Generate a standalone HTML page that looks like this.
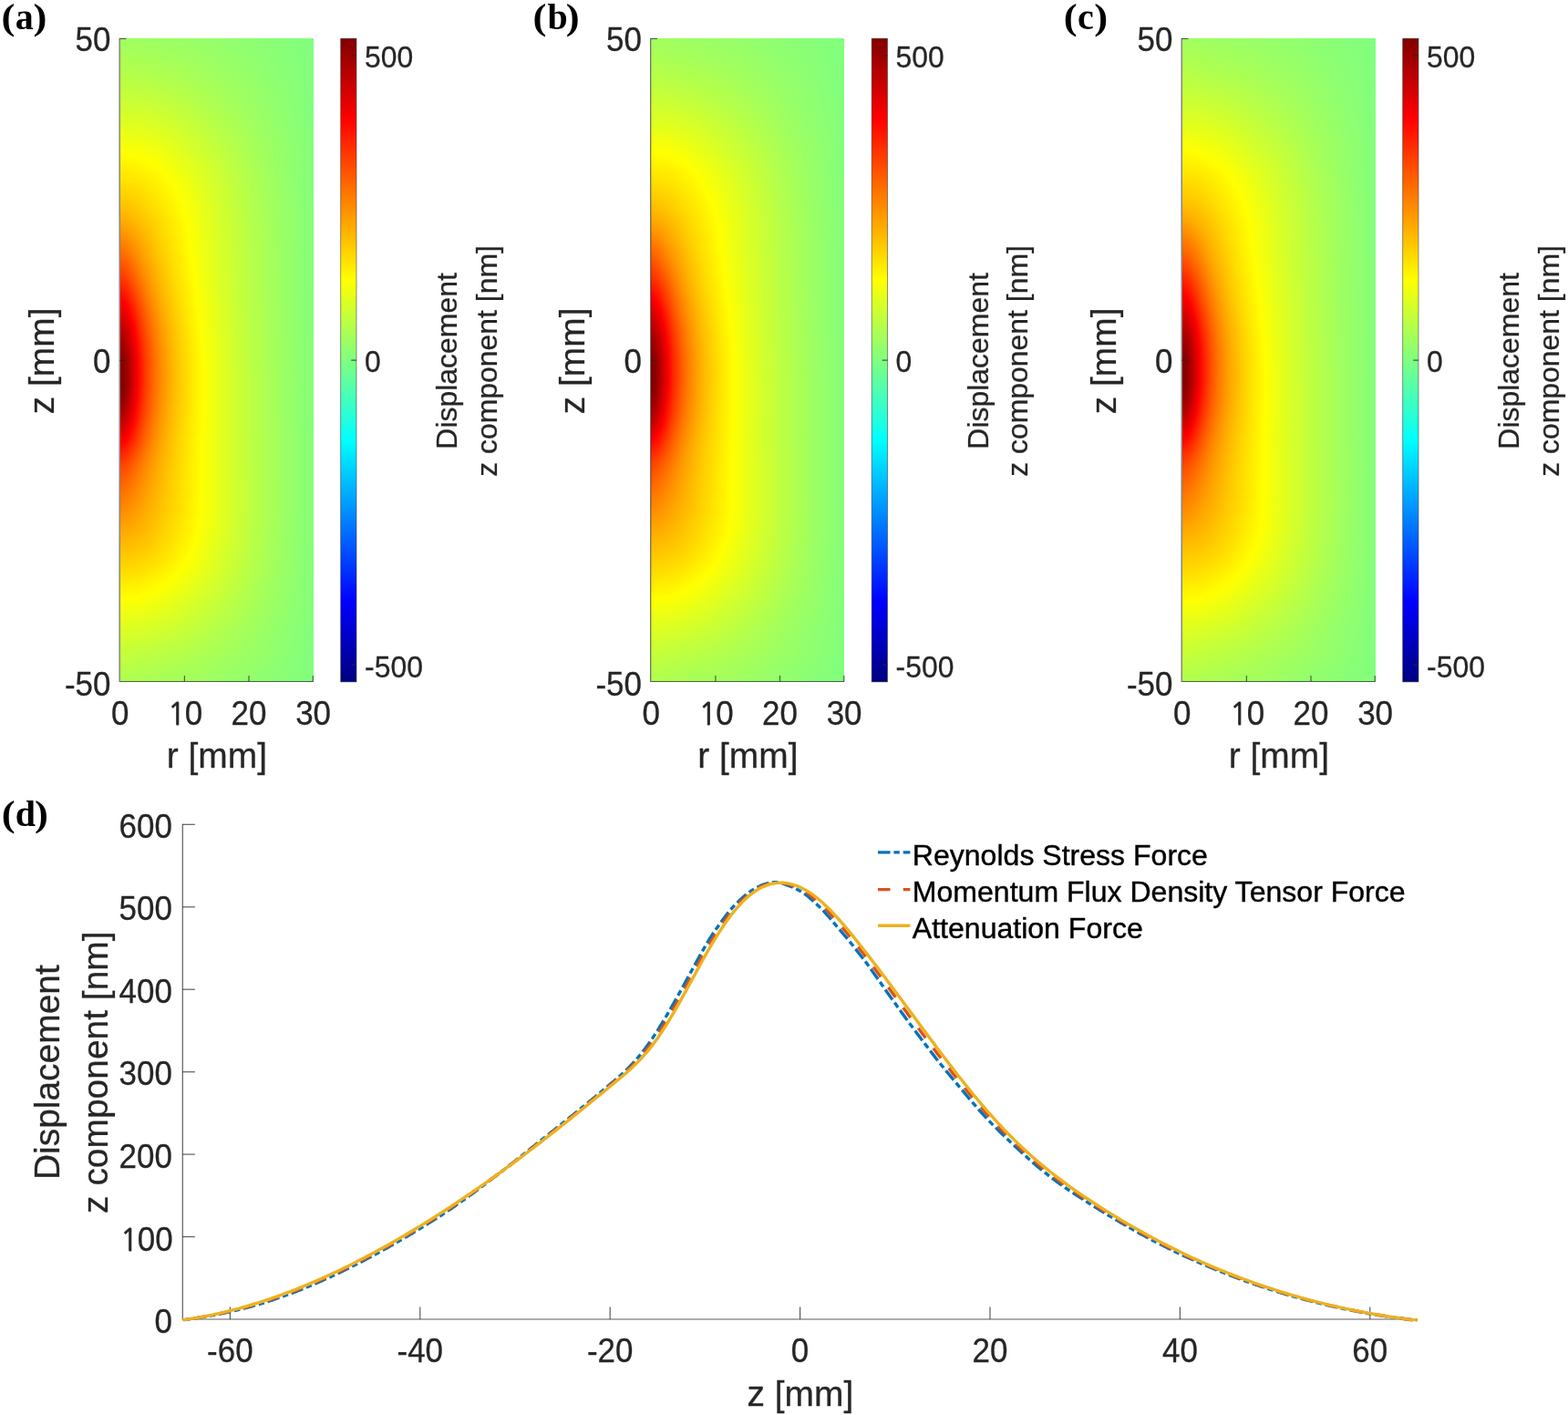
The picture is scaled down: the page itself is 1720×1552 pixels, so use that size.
<!DOCTYPE html>
<html lang="en"><head><meta charset="utf-8"><title>Displacement z component</title>
<style>
html,body{margin:0;padding:0;background:#fff}
#fig{position:relative;width:1720px;height:1552px;background:#fff;overflow:hidden}
.hm{position:absolute;overflow:hidden}
.hm div{height:2px}
#ov{position:absolute;left:0;top:0}
text{font-family:"Liberation Sans",Arial,Helvetica,sans-serif;fill:#262626;stroke:#262626;stroke-width:.28}
.pl{font-family:"Liberation Serif","Times New Roman",Times,serif;font-weight:bold;fill:#000;stroke:none}
.lg{fill:#000;stroke:#000;stroke-width:.4}
</style></head>
<body><div id="fig">
<div class="hm" style="left:131.8px;top:41.8px;width:211.8px;height:705.8px"><div style="background:linear-gradient(90deg,#a1ff5e 0%,#9f6 35.4%,#81ff7e 100%)"></div><div style="background:linear-gradient(90deg,#a2ff5d 0%,#9f6 35.4%,#81ff7e 100%)"></div><div style="background:linear-gradient(90deg,#a3ff5c 0%,#9aff65 35.4%,#81ff7e 100%)"></div><div style="background:linear-gradient(90deg,#a4ff5b 0%,#9bff64 35.4%,#81ff7e 100%)"></div><div style="background:linear-gradient(90deg,#a5ff5a 0%,#9cff63 35.4%,#81ff7e 100%)"></div><div style="background:linear-gradient(90deg,#a6ff59 0%,#9cff63 35.4%,#81ff7e 100%)"></div><div style="background:linear-gradient(90deg,#a7ff58 0%,#9dff62 35.4%,#81ff7e 100%)"></div><div style="background:linear-gradient(90deg,#a9ff56 0%,#9eff61 35.4%,#81ff7e 100%)"></div><div style="background:linear-gradient(90deg,#af5 0%,#9fff60 34.9%,#81ff7e 100%)"></div><div style="background:linear-gradient(90deg,#abff54 0%,#a0ff5f 34.9%,#81ff7e 100%)"></div><div style="background:linear-gradient(90deg,#acff53 0%,#a1ff5e 34.4%,#81ff7e 100%)"></div><div style="background:linear-gradient(90deg,#adff52 0%,#a2ff5d 34.4%,#81ff7e 100%)"></div><div style="background:linear-gradient(90deg,#aeff51 0%,#a3ff5c 34%,#81ff7e 100%)"></div><div style="background:linear-gradient(90deg,#afff50 0%,#a4ff5b 34%,#81ff7e 100%)"></div><div style="background:linear-gradient(90deg,#b0ff4f 0%,#a5ff5a 33.5%,#81ff7e 100%)"></div><div style="background:linear-gradient(90deg,#b2ff4d 0%,#a6ff59 33%,#81ff7e 100%)"></div><div style="background:linear-gradient(90deg,#b3ff4c 0%,#a7ff58 33%,#81ff7e 100%)"></div><div style="background:linear-gradient(90deg,#b4ff4b 0%,#a8ff57 32.5%,#81ff7e 100%)"></div><div style="background:linear-gradient(90deg,#b5ff4a 0%,#a9ff56 32.1%,#81ff7e 100%)"></div><div style="background:linear-gradient(90deg,#b7ff48 0%,#af5 32.1%,#81ff7e 100%)"></div><div style="background:linear-gradient(90deg,#b8ff47 0%,#abff54 31.6%,#81ff7e 100%)"></div><div style="background:linear-gradient(90deg,#b9ff46 0%,#adff52 31.1%,#81ff7e 100%)"></div><div style="background:linear-gradient(90deg,#baff45 0%,#aeff51 31.1%,#81ff7e 100%)"></div><div style="background:linear-gradient(90deg,#bf4 0%,#afff50 30.7%,#81ff7e 100%)"></div><div style="background:linear-gradient(90deg,#bdff42 0%,#b1ff4e 30.2%,#81ff7e 100%)"></div><div style="background:linear-gradient(90deg,#beff41 0%,#b2ff4d 29.7%,#81ff7e 100%)"></div><div style="background:linear-gradient(90deg,#bfff40 0%,#b3ff4c 29.2%,#81ff7e 100%)"></div><div style="background:linear-gradient(90deg,#c1ff3e 0%,#bcff43 14.6%,#b5ff4a 29.2%,#81ff7e 100%)"></div><div style="background:linear-gradient(90deg,#c2ff3d 0%,#beff41 14.6%,#b6ff49 28.8%,#82ff7d 100%)"></div><div style="background:linear-gradient(90deg,#c3ff3c 0%,#bfff40 14.2%,#b8ff47 28.3%,#82ff7d 100%)"></div><div style="background:linear-gradient(90deg,#c5ff3a 0%,#c1ff3e 13.7%,#b9ff46 28.3%,#82ff7d 100%)"></div><div style="background:linear-gradient(90deg,#c6ff39 0%,#c2ff3d 13.7%,#bf4 27.8%,#93ff6c 76.4%,#82ff7d 100%)"></div><div style="background:linear-gradient(90deg,#c7ff38 0%,#c4ff3b 13.2%,#bcff43 27.4%,#93ff6c 76.4%,#82ff7d 100%)"></div><div style="background:linear-gradient(90deg,#c9ff36 0%,#c6ff39 13.2%,#bdff42 27.4%,#94ff6b 75.9%,#82ff7d 100%)"></div><div style="background:linear-gradient(90deg,#caff35 0%,#c7ff38 12.7%,#bfff40 26.9%,#94ff6b 75.9%,#82ff7d 100%)"></div><div style="background:linear-gradient(90deg,#cf3 0%,#c9ff36 12.7%,#c1ff3e 26.9%,#95ff6a 75.5%,#82ff7d 100%)"></div><div style="background:linear-gradient(90deg,#cdff32 0%,#cbff34 12.3%,#c2ff3d 26.4%,#95ff6a 75.5%,#82ff7d 100%)"></div><div style="background:linear-gradient(90deg,#cfff30 0%,#cf3 12.3%,#c4ff3b 26.4%,#96ff69 75%,#82ff7d 100%)"></div><div style="background:linear-gradient(90deg,#d1ff2e 0%,#ceff31 12.3%,#c5ff3a 26.4%,#97ff68 74.5%,#82ff7d 100%)"></div><div style="background:linear-gradient(90deg,#d2ff2d 0%,#d0ff2f 12.3%,#c7ff38 25.9%,#97ff68 74.5%,#82ff7d 100%)"></div><div style="background:linear-gradient(90deg,#d4ff2b 0%,#d1ff2e 12.3%,#c8ff37 25.9%,#98ff67 74.1%,#82ff7d 100%)"></div><div style="background:linear-gradient(90deg,#d6ff29 0%,#d3ff2c 12.3%,#caff35 25.5%,#98ff67 74.1%,#82ff7d 100%)"></div><div style="background:linear-gradient(90deg,#d8ff27 0%,#d5ff2a 12.3%,#cf3 25.5%,#9f6 73.6%,#82ff7d 100%)"></div><div style="background:linear-gradient(90deg,#d9ff26 0%,#d6ff29 12.3%,#cdff32 25.5%,#9aff65 73.6%,#82ff7d 100%)"></div><div style="background:linear-gradient(90deg,#dbff24 0%,#d8ff27 11.8%,#cfff30 25%,#9bff64 73.1%,#82ff7d 100%)"></div><div style="background:linear-gradient(90deg,#df2 0%,#daff25 11.8%,#d1ff2e 25%,#9bff64 73.1%,#82ff7d 100%)"></div><div style="background:linear-gradient(90deg,#dfff20 0%,#dcff23 11.8%,#d3ff2c 24.5%,#9cff63 72.6%,#82ff7d 100%)"></div><div style="background:linear-gradient(90deg,#e1ff1e 0%,#deff21 11.8%,#d4ff2b 24.5%,#9cff63 72.6%,#82ff7d 100%)"></div><div style="background:linear-gradient(90deg,#e3ff1c 0%,#dfff20 11.8%,#d6ff29 24.5%,#9dff62 72.2%,#82ff7d 100%)"></div><div style="background:linear-gradient(90deg,#e5ff1a 0%,#e2ff1d 11.3%,#d8ff27 24.1%,#9eff61 72.2%,#82ff7d 100%)"></div><div style="background:linear-gradient(90deg,#e7ff18 0%,#e3ff1c 11.3%,#d9ff26 24.1%,#9fff60 71.7%,#82ff7d 100%)"></div><div style="background:linear-gradient(90deg,#e8ff17 0%,#e5ff1a 11.3%,#dbff24 23.6%,#9fff60 71.7%,#82ff7d 100%)"></div><div style="background:linear-gradient(90deg,#eaff15 0%,#e7ff18 11.3%,#df2 23.6%,#a0ff5f 71.2%,#82ff7d 100%)"></div><div style="background:linear-gradient(90deg,#ecff13 0%,#e9ff16 10.8%,#dfff20 23.1%,#a1ff5e 71.2%,#82ff7d 100%)"></div><div style="background:linear-gradient(90deg,#ef1 0%,#ebff14 10.8%,#e1ff1e 23.1%,#a2ff5d 70.8%,#83ff7c 100%)"></div><div style="background:linear-gradient(90deg,#f0ff0f 0%,#edff12 10.8%,#e2ff1d 23.1%,#a2ff5d 70.8%,#83ff7c 100%)"></div><div style="background:linear-gradient(90deg,#f2ff0d 0%,#efff10 10.8%,#e5ff1a 22.6%,#a3ff5c 70.8%,#83ff7c 100%)"></div><div style="background:linear-gradient(90deg,#f4ff0b 0%,#f1ff0e 10.8%,#e6ff19 22.6%,#a4ff5b 70.3%,#83ff7c 100%)"></div><div style="background:linear-gradient(90deg,#f6ff09 0%,#f3ff0c 10.4%,#e8ff17 22.2%,#a4ff5b 70.3%,#83ff7c 100%)"></div><div style="background:linear-gradient(90deg,#f8ff07 0%,#f5ff0a 10.4%,#eaff15 22.2%,#a5ff5a 69.8%,#83ff7c 100%)"></div><div style="background:linear-gradient(90deg,#faff05 0%,#f7ff08 10.4%,#ecff13 21.7%,#a6ff59 69.8%,#83ff7c 100%)"></div><div style="background:linear-gradient(90deg,#fcff03 0%,#f9ff06 10.4%,#ef1 21.7%,#a7ff58 69.3%,#83ff7c 100%)"></div><div style="background:linear-gradient(90deg,#feff01 0%,#fbff04 9.9%,#f0ff0f 21.2%,#a7ff58 69.3%,#83ff7c 100%)"></div><div style="background:linear-gradient(90deg,#fffe00 0%,#fdff02 9%,#f2ff0d 20.8%,#a8ff57 68.9%,#83ff7c 100%)"></div><div style="background:linear-gradient(90deg,#fffc00 0%,#ff0 9.4%,#f4ff0b 20.3%,#a9ff56 68.9%,#83ff7c 100%)"></div><div style="background:linear-gradient(90deg,#fffa00 0%,#ff0 11.8%,#f7ff08 19.8%,#a9ff56 68.9%,#83ff7c 100%)"></div><div style="background:linear-gradient(90deg,#fff800 0%,#fffa00 6.6%,#ff0 13.7%,#f9ff06 18.9%,#eaff15 29.7%,#af5 68.9%,#95ff6a 84%,#83ff7c 100%)"></div><div style="background:linear-gradient(90deg,#fff600 0%,#fff800 7.5%,#ff0 15.6%,#fcff03 18.4%,#ecff13 29.2%,#abff54 68.4%,#96ff69 83.5%,#83ff7c 100%)"></div><div style="background:linear-gradient(90deg,#fff400 0%,#fff600 7.5%,#feff01 17.9%,#ef1 28.8%,#abff54 68.4%,#96ff69 83.5%,#83ff7c 100%)"></div><div style="background:linear-gradient(90deg,#fff200 0%,#fff500 9%,#ff0 18.4%,#efff10 28.8%,#acff53 67.9%,#96ff69 83.5%,#83ff7c 100%)"></div><div style="background:linear-gradient(90deg,#fff000 0%,#fff400 9%,#ff0 19.8%,#adff52 67.5%,#97ff68 83%,#83ff7c 100%)"></div><div style="background:linear-gradient(90deg,#fe0 0%,#fff200 9.4%,#ff0 20.8%,#aeff51 67.5%,#97ff68 83%,#83ff7c 100%)"></div><div style="background:linear-gradient(90deg,#ffec00 0%,#fff100 9.9%,#ff0 21.7%,#afff50 67%,#98ff67 83%,#83ff7c 100%)"></div><div style="background:linear-gradient(90deg,#ffea00 0%,#ffef00 10.4%,#ff0 22.6%,#afff50 67%,#98ff67 83%,#83ff7c 100%)"></div><div style="background:linear-gradient(90deg,#ffe800 0%,#fe0 10.8%,#ff0 23.6%,#b0ff4f 66.5%,#9f6 82.5%,#83ff7c 100%)"></div><div style="background:linear-gradient(90deg,#ffe700 0%,#ffec00 10.8%,#ff0 24.1%,#b1ff4e 66.5%,#9f6 82.5%,#83ff7c 100%)"></div><div style="background:linear-gradient(90deg,#ffe500 0%,#ffeb00 11.3%,#ff0 25%,#b1ff4e 66.5%,#9f6 82.5%,#83ff7c 100%)"></div><div style="background:linear-gradient(90deg,#ffe300 0%,#ffe900 11.3%,#ff0 25.5%,#b1ff4e 66.5%,#9f6 82.5%,#83ff7c 100%)"></div><div style="background:linear-gradient(90deg,#ffe100 0%,#ffe800 11.3%,#ff0 26.4%,#cf3 51.9%,#b3ff4c 66%,#9aff65 82.1%,#83ff7c 100%)"></div><div style="background:linear-gradient(90deg,#ffdf00 0%,#ffe100 5.7%,#ffe600 11.8%,#ff0 26.9%,#ceff31 51.4%,#b3ff4c 66%,#9aff65 82.1%,#83ff7c 100%)"></div><div style="background:linear-gradient(90deg,#ffdc00 0%,#ffdf00 5.7%,#ffe500 11.8%,#ff0 27.4%,#ceff31 51.4%,#b3ff4c 66%,#9aff65 82.1%,#83ff7c 100%)"></div><div style="background:linear-gradient(90deg,#ffda00 0%,#fd0 5.7%,#ffe300 11.8%,#ff0 27.8%,#cfff30 51.4%,#b4ff4b 66%,#9bff64 82.1%,#83ff7c 100%)"></div><div style="background:linear-gradient(90deg,#ffd800 0%,#ffdb00 5.7%,#ffe200 12.3%,#ff0 28.3%,#cfff30 51.4%,#b4ff4b 66%,#9bff64 82.1%,#83ff7c 100%)"></div><div style="background:linear-gradient(90deg,#ffd600 0%,#ffd900 5.7%,#ffe100 12.3%,#ff0 28.8%,#d0ff2f 51.4%,#b4ff4b 66%,#9bff64 82.1%,#83ff7c 100%)"></div><div style="background:linear-gradient(90deg,#ffd400 0%,#ffd700 5.7%,#ffdf00 12.3%,#ff0 29.2%,#d0ff2f 51.4%,#b5ff4a 66%,#9bff64 82.1%,#83ff7c 100%)"></div><div style="background:linear-gradient(90deg,#ffd200 0%,#ffd500 5.2%,#fd0 12.3%,#ff0 29.7%,#d2ff2d 50.9%,#b5ff4a 66%,#9bff64 82.1%,#83ff7c 100%)"></div><div style="background:linear-gradient(90deg,#ffd000 0%,#ffd300 5.2%,#ffdc00 12.3%,#ff0 30.2%,#d2ff2d 50.9%,#b5ff4a 66%,#9bff64 82.1%,#83ff7c 100%)"></div><div style="background:linear-gradient(90deg,#ffcd00 0%,#ffd000 5.2%,#ffda00 12.3%,#ff0 30.7%,#d3ff2c 50.5%,#b5ff4a 66%,#9bff64 82.1%,#83ff7c 100%)"></div><div style="background:linear-gradient(90deg,#ffcb00 0%,#ffce00 5.2%,#ffd800 11.8%,#ff0 31.1%,#d4ff2b 50.5%,#b6ff49 66%,#9cff63 82.1%,#84ff7b 100%)"></div><div style="background:linear-gradient(90deg,#ffc900 0%,#fc0 4.7%,#ffd600 11.8%,#ff0 31.1%,#d3ff2c 50.9%,#b6ff49 66%,#9cff63 82.1%,#84ff7b 100%)"></div><div style="background:linear-gradient(90deg,#ffc600 0%,#ffc900 4.7%,#ffd400 11.8%,#ff0 31.6%,#d5ff2a 50.5%,#b6ff49 66%,#9cff63 82.1%,#84ff7b 100%)"></div><div style="background:linear-gradient(90deg,#ffc400 0%,#ffc700 4.7%,#ffd200 11.3%,#ff0 32.1%,#d5ff2a 50.5%,#b6ff49 66%,#9cff63 82.1%,#84ff7b 100%)"></div><div style="background:linear-gradient(90deg,#ffc100 0%,#ffc400 4.2%,#ffcf00 10.8%,#feff01 32.5%,#d5ff2a 50.5%,#b7ff48 66%,#9cff63 82.1%,#84ff7b 100%)"></div><div style="background:linear-gradient(90deg,#ffbe00 0%,#ffc100 3.8%,#fc0 10.4%,#ff0 32.5%,#d6ff29 50.5%,#b7ff48 66%,#9cff63 82.1%,#84ff7b 100%)"></div><div style="background:linear-gradient(90deg,#fb0 0%,#ffbe00 3.8%,#ffc900 9.4%,#ff0 33%,#d6ff29 50.5%,#b7ff48 66%,#9cff63 82.1%,#84ff7b 100%)"></div><div style="background:linear-gradient(90deg,#ffb800 0%,#fb0 3.3%,#ffc600 9%,#ff0 33%,#d7ff28 50.5%,#b7ff48 66%,#9cff63 82.1%,#84ff7b 100%)"></div><div style="background:linear-gradient(90deg,#ffb500 0%,#ffb800 3.3%,#ffc100 8%,#ff0 33.5%,#d7ff28 50.5%,#b7ff48 66%,#9cff63 82.1%,#84ff7b 100%)"></div><div style="background:linear-gradient(90deg,#ffb200 0%,#ffb400 2.8%,#ffbd00 7.1%,#ff0 33.5%,#d7ff28 50.5%,#b8ff47 66%,#9dff62 82.1%,#84ff7b 100%)"></div><div style="background:linear-gradient(90deg,#ffaf00 0%,#ffb100 2.4%,#ffb800 6.1%,#feff01 34%,#d7ff28 50.5%,#b8ff47 66%,#9dff62 82.1%,#84ff7b 100%)"></div><div style="background:linear-gradient(90deg,#ffac00 0%,#ffae00 2.4%,#ffb500 5.7%,#ff0 34%,#d8ff27 50.5%,#b8ff47 66%,#9dff62 82.1%,#84ff7b 100%)"></div><div style="background:linear-gradient(90deg,#ffa900 0%,#ffab00 2.4%,#ffb100 5.2%,#feff01 34.4%,#d8ff27 50.5%,#b8ff47 66%,#9dff62 82.1%,#84ff7b 100%)"></div><div style="background:linear-gradient(90deg,#ffa500 0%,#ffad00 4.7%,#ff0 34.4%,#d8ff27 50.5%,#b8ff47 66%,#9dff62 82.1%,#84ff7b 100%)"></div><div style="background:linear-gradient(90deg,#ffa200 0%,#ffa400 1.9%,#fa0 4.7%,#ffd700 19.8%,#ff0 34.4%,#d7ff28 50.9%,#b8ff47 66%,#9dff62 82.1%,#84ff7b 100%)"></div><div style="background:linear-gradient(90deg,#ff9f00 0%,#ffa600 4.2%,#ffd700 20.3%,#feff01 34.9%,#d9ff26 50.5%,#b9ff46 66%,#9dff62 82.1%,#84ff7b 100%)"></div><div style="background:linear-gradient(90deg,#ff9b00 0%,#ffa300 4.2%,#ffd300 19.3%,#ff0 34.9%,#d9ff26 50.5%,#b9ff46 66%,#9dff62 82.1%,#84ff7b 100%)"></div><div style="background:linear-gradient(90deg,#ff9800 0%,#ff9e00 3.8%,#ffd100 18.9%,#ff0 34.9%,#d8ff27 50.9%,#b9ff46 66%,#9dff62 82.1%,#84ff7b 100%)"></div><div style="background:linear-gradient(90deg,#ff9500 0%,#ff9b00 3.8%,#ffd100 19.3%,#ff0 35.4%,#d9ff26 50.5%,#b9ff46 66%,#9dff62 82.1%,#84ff7b 100%)"></div><div style="background:linear-gradient(90deg,#ff9100 0%,#ff9800 3.8%,#ffcf00 18.9%,#ff0 35.4%,#d9ff26 50.5%,#baff45 65.6%,#9dff62 82.1%,#84ff7b 100%)"></div><div style="background:linear-gradient(90deg,#ff8e00 0%,#ff9300 3.3%,#ffce00 18.9%,#ff0 35.4%,#d9ff26 50.9%,#b9ff46 66%,#9dff62 82.1%,#84ff7b 100%)"></div><div style="background:linear-gradient(90deg,#ff8a00 0%,#ff8c00 1.9%,#ff9200 3.8%,#ffba00 13.7%,#ffd400 21.2%,#feff01 35.8%,#daff25 50.5%,#b9ff46 66%,#9dff62 82.1%,#84ff7b 100%)"></div><div style="background:linear-gradient(90deg,#ff8700 0%,#ff8900 1.9%,#ff8f00 3.8%,#ffb800 13.7%,#ffd200 20.8%,#ff0 35.8%,#daff25 50.5%,#baff45 65.6%,#9dff62 82.1%,#84ff7b 100%)"></div><div style="background:linear-gradient(90deg,#ff8300 0%,#ff8500 1.9%,#ff8b00 3.8%,#ffb600 13.7%,#ffd100 20.8%,#ff0 35.8%,#daff25 50.5%,#baff45 65.6%,#9dff62 82.1%,#84ff7b 100%)"></div><div style="background:linear-gradient(90deg,#ff8000 0%,#ff8200 1.9%,#f80 3.8%,#ffb300 13.2%,#ffce00 20.3%,#ff0 35.8%,#d9ff26 50.9%,#b9ff46 66%,#9eff61 82.1%,#84ff7b 100%)"></div><div style="background:linear-gradient(90deg,#ff7c00 0%,#ff7e00 1.9%,#ff8500 3.8%,#ffb100 13.2%,#ffcd00 20.3%,#ffe800 28.3%,#ff0 36.3%,#dbff24 50.5%,#baff45 65.6%,#9eff61 82.1%,#84ff7b 100%)"></div><div style="background:linear-gradient(90deg,#ff7800 0%,#ff7b00 1.9%,#ff8100 3.8%,#ffaf00 13.2%,#fc0 20.3%,#ffe600 27.8%,#ff0 36.3%,#dbff24 50.5%,#bf4 65.6%,#9eff61 82.1%,#84ff7b 100%)"></div><div style="background:linear-gradient(90deg,#ff7500 0%,#f70 1.9%,#ff7e00 3.8%,#ffab00 12.7%,#ffc900 19.8%,#ffe400 27.4%,#ff0 36.3%,#dbff24 50.5%,#bf4 65.6%,#9eff61 82.1%,#84ff7b 100%)"></div><div style="background:linear-gradient(90deg,#ff7100 0%,#ff7400 1.9%,#ff7b00 3.8%,#ffa900 12.7%,#ffc800 19.8%,#ffe300 27.4%,#fffe00 36.3%,#daff25 50.9%,#baff45 66%,#9eff61 82.1%,#84ff7b 100%)"></div><div style="background:linear-gradient(90deg,#ff6d00 0%,#ff7000 1.9%,#f70 3.8%,#ffa800 12.7%,#ffc700 19.8%,#ffe400 27.8%,#ff0 36.8%,#dbff24 50.5%,#bf4 65.6%,#9eff61 82.1%,#84ff7b 100%)"></div><div style="background:linear-gradient(90deg,#ff6a00 0%,#ff6c00 1.9%,#ff7400 3.8%,#ffa600 12.7%,#ffc600 19.8%,#ffe300 27.8%,#ff0 36.8%,#dbff24 50.5%,#bf4 65.6%,#9eff61 82.1%,#84ff7b 100%)"></div><div style="background:linear-gradient(90deg,#f60 0%,#ff6900 1.9%,#ff7000 3.8%,#ffa400 12.7%,#ffc500 19.8%,#ffe100 27.4%,#ff0 36.8%,#dbff24 50.5%,#bf4 65.6%,#9eff61 82.1%,#84ff7b 100%)"></div><div style="background:linear-gradient(90deg,#ff6200 0%,#ff6500 1.9%,#ff6d00 3.8%,#ffa200 12.7%,#ffc400 19.8%,#ffe100 27.4%,#fffe00 36.8%,#daff25 50.9%,#bf4 65.6%,#9eff61 82.1%,#84ff7b 100%)"></div><div style="background:linear-gradient(90deg,#ff5e00 0%,#ff6100 1.9%,#ff6900 3.8%,#ffa000 12.7%,#ffc300 19.8%,#ffe300 28.3%,#feff01 37.3%,#dcff23 50.5%,#bf4 65.6%,#9eff61 82.1%,#84ff7b 100%)"></div><div style="background:linear-gradient(90deg,#ff5a00 0%,#ff5e00 1.9%,#f60 3.8%,#ff9e00 12.7%,#ffc200 19.8%,#ffe100 27.8%,#ff0 37.3%,#dcff23 50.5%,#bf4 65.6%,#9eff61 82.1%,#84ff7b 100%)"></div><div style="background:linear-gradient(90deg,#ff5700 0%,#ff5a00 1.9%,#ff6200 3.8%,#ff9c00 12.7%,#ffc000 19.8%,#ffe000 27.8%,#ff0 37.3%,#dbff24 50.9%,#bf4 65.6%,#9eff61 82.1%,#84ff7b 100%)"></div><div style="background:linear-gradient(90deg,#ff5300 0%,#ff5600 1.9%,#ff5f00 3.8%,#ff9a00 12.7%,#ffbf00 19.8%,#ffe000 27.8%,#fffe00 37.3%,#dbff24 50.9%,#bf4 65.6%,#9eff61 82.1%,#84ff7b 100%)"></div><div style="background:linear-gradient(90deg,#ff4f00 0%,#ff5200 1.9%,#ff5b00 3.8%,#ff9800 12.7%,#ffbe00 19.8%,#ffe100 28.3%,#feff01 37.7%,#dbff24 50.9%,#bf4 65.6%,#9fff60 81.6%,#84ff7b 100%)"></div><div style="background:linear-gradient(90deg,#ff4b00 0%,#ff4e00 1.9%,#ff5700 3.8%,#ff9600 12.7%,#ffbd00 19.8%,#ffde00 27.8%,#ff0 37.7%,#dbff24 50.9%,#bcff43 65.6%,#9fff60 81.6%,#84ff7b 100%)"></div><div style="background:linear-gradient(90deg,#ff4700 0%,#ff4a00 1.9%,#ff5400 3.8%,#ff9400 12.7%,#fb0 19.8%,#ffde00 27.8%,#ff0 37.7%,#dcff23 50.9%,#bcff43 65.6%,#9fff60 81.6%,#84ff7b 100%)"></div><div style="background:linear-gradient(90deg,#ff4300 0%,#ff4600 1.9%,#ff5000 3.8%,#ff9100 12.7%,#ffba00 19.8%,#fd0 27.8%,#fffe00 37.7%,#dbff24 51.4%,#bcff43 65.6%,#9fff60 81.6%,#84ff7b 100%)"></div><div style="background:linear-gradient(90deg,#ff3f00 0%,#ff4200 1.9%,#ff4c00 3.8%,#ff8f00 12.7%,#ffb900 19.8%,#ffde00 28.3%,#feff01 38.2%,#dcff23 50.9%,#bcff43 65.6%,#9fff60 81.6%,#84ff7b 100%)"></div><div style="background:linear-gradient(90deg,#ff3a00 0%,#ff3e00 1.9%,#ff4800 3.8%,#ff8d00 12.7%,#ffa300 16%,#ffb800 19.8%,#fd0 28.3%,#ff0 38.2%,#dcff23 50.9%,#bcff43 65.6%,#9fff60 81.6%,#84ff7b 100%)"></div><div style="background:linear-gradient(90deg,#ff3600 0%,#ff3a00 1.9%,#f40 3.8%,#ff8b00 12.7%,#ffa100 16%,#ffb600 19.8%,#ffdb00 27.8%,#ff0 38.2%,#dcff23 50.9%,#bcff43 65.6%,#9fff60 81.6%,#84ff7b 100%)"></div><div style="background:linear-gradient(90deg,#ff3200 0%,#ff3600 1.9%,#ff4000 3.8%,#ff8900 12.7%,#ff9f00 16%,#ffb500 19.8%,#ffda00 27.8%,#fffe00 38.2%,#dbff24 51.4%,#bcff43 65.6%,#9fff60 81.6%,#84ff7b 100%)"></div><div style="background:linear-gradient(90deg,#ff2e00 0%,#ff3200 1.9%,#ff3c00 3.8%,#ff8600 12.7%,#ff9d00 16%,#ffb400 19.8%,#ffd900 27.8%,#fffe00 38.2%,#daff25 51.9%,#bcff43 65.6%,#9fff60 81.6%,#84ff7b 100%)"></div><div style="background:linear-gradient(90deg,#ff2a00 0%,#ff2e00 1.9%,#ff3800 3.8%,#ff8400 12.7%,#ff9c00 16%,#ffb200 19.8%,#ffda00 28.3%,#ff0 38.7%,#df2 50.9%,#bcff43 65.6%,#9fff60 81.6%,#84ff7b 100%)"></div><div style="background:linear-gradient(90deg,#ff2500 0%,#ff2900 1.9%,#ff3400 3.8%,#ff8200 12.7%,#ff9a00 16%,#ffb100 19.8%,#ffda00 28.3%,#ff0 38.7%,#dcff23 51.4%,#bcff43 65.6%,#9fff60 81.6%,#84ff7b 100%)"></div><div style="background:linear-gradient(90deg,#ff2100 0%,#ff2500 1.9%,#ff3000 3.8%,#ff7f00 12.7%,#ff9800 16%,#ffaf00 19.8%,#ffc300 23.6%,#ffd900 28.3%,#fffe00 38.7%,#dbff24 51.9%,#bcff43 65.6%,#9fff60 81.6%,#84ff7b 100%)"></div><div style="background:linear-gradient(90deg,#ff1c00 0%,#ff2100 1.9%,#ff2c00 3.8%,#ff7d00 12.7%,#ff9600 16%,#ffae00 19.8%,#ffc500 24.1%,#ffda00 28.8%,#ff0 39.2%,#dcff23 51.4%,#bcff43 65.6%,#9fff60 81.6%,#84ff7b 100%)"></div><div style="background:linear-gradient(90deg,#ff1800 0%,#ff1c00 1.9%,#ff2800 3.8%,#ff7b00 12.7%,#ff9400 16%,#ffad00 19.8%,#ffc100 23.6%,#ffd700 28.3%,#ff0 39.2%,#dcff23 51.4%,#bdff42 65.6%,#9fff60 81.6%,#84ff7b 100%)"></div><div style="background:linear-gradient(90deg,#ff1300 0%,#ff1800 1.9%,#ff2400 3.8%,#ff7800 12.7%,#ff9200 16%,#ffab00 19.8%,#ffc000 23.6%,#ffd600 28.3%,#ff0 39.2%,#dbff24 51.9%,#bdff42 65.6%,#9fff60 81.6%,#84ff7b 100%)"></div><div style="background:linear-gradient(90deg,#ff0f00 0%,#ff1300 1.9%,#ff2000 3.8%,#ff7600 12.7%,#ff9000 16%,#fa0 19.8%,#ffbf00 23.6%,#ffd500 28.3%,#fffe00 39.2%,#daff25 52.4%,#bcff43 66%,#9fff60 82.1%,#84ff7b 100%)"></div><div style="background:linear-gradient(90deg,#ff0a00 0%,#ff0f00 1.9%,#ff1b00 3.8%,#ff7400 12.7%,#ff8f00 16%,#ffa800 19.8%,#ffc000 24.1%,#ffd700 28.8%,#ffec00 34%,#ff0 39.6%,#df2 51.4%,#bdff42 65.6%,#9fff60 81.6%,#84ff7b 100%)"></div><div style="background:linear-gradient(90deg,#ff0600 0%,#ff0a00 1.9%,#ff1700 3.8%,#ff7100 12.7%,#ff8d00 16%,#ffa700 19.8%,#ffbf00 24.1%,#ffd600 28.8%,#ff0 39.6%,#dcff23 51.9%,#bdff42 65.6%,#9fff60 81.6%,#84ff7b 100%)"></div><div style="background:linear-gradient(90deg,#ff0100 0%,#ff0600 1.9%,#ff1300 3.8%,#ff6f00 12.7%,#ff8b00 16%,#ffa500 19.8%,#ffbe00 24.1%,#ffd500 28.8%,#fffe00 39.6%,#dbff24 52.4%,#bcff43 66%,#9fff60 82.1%,#84ff7b 100%)"></div><div style="background:linear-gradient(90deg,#fc0000 0%,#fe0000 1.4%,#ff0b00 3.3%,#ff1c00 5.2%,#ff5000 9.9%,#ff7100 13.2%,#ff8d00 16.5%,#ffa700 20.3%,#ffbd00 24.1%,#ffd400 28.8%,#ffea00 34%,#fffe00 39.6%,#dbff24 52.4%,#bcff43 66%,#9fff60 82.1%,#84ff7b 100%)"></div><div style="background:linear-gradient(90deg,#f70000 0%,#f80000 .9%,#f00 2.4%,#ff0700 3.3%,#ff1900 5.2%,#ff4d00 9.9%,#ff6f00 13.2%,#ff8e00 17%,#ffa900 20.8%,#ffbf00 24.5%,#ffd600 29.2%,#ffeb00 34.4%,#ff0 40.1%,#df2 51.9%,#bdff42 65.6%,#a0ff5f 81.6%,#84ff7b 100%)"></div><div style="background:linear-gradient(90deg,#f30000 0%,#f60000 1.4%,#fe0000 2.8%,#ff0200 3.3%,#ff1500 5.2%,#ff4a00 9.9%,#ff6c00 13.2%,#ff8d00 17%,#ffa700 20.8%,#ffbd00 24.5%,#ffd500 29.2%,#ffeb00 34.4%,#ff0 40.1%,#dcff23 52.4%,#bcff43 66%,#9fff60 82.1%,#84ff7b 100%)"></div><div style="background:linear-gradient(90deg,#e00 0%,#f10000 1.4%,#fd0000 3.3%,#ff0200 3.8%,#ff4d00 10.4%,#ff6a00 13.2%,#ff8b00 17%,#ffa900 21.2%,#ffc100 25.5%,#ffd600 29.7%,#fffe00 40.1%,#dcff23 52.4%,#bcff43 66%,#9fff60 82.1%,#84ff7b 100%)"></div><div style="background:linear-gradient(90deg,#ea0000 0%,#ef0000 1.9%,#fd0000 3.8%,#ff0300 4.2%,#ff4a00 10.4%,#ff6c00 13.7%,#ff8d00 17.5%,#ffab00 21.7%,#ffc000 25.5%,#ffd500 29.7%,#fffe00 40.1%,#dbff24 52.8%,#bdff42 66%,#9fff60 82.1%,#84ff7b 100%)"></div><div style="background:linear-gradient(90deg,#e60000 0%,#eb0000 1.9%,#fe0000 4.2%,#ff0f00 5.7%,#ff4d00 10.8%,#ff6a00 13.7%,#ff8f00 17.9%,#ffac00 22.2%,#ffc400 26.4%,#ffd900 30.7%,#ff0 40.6%,#dcff23 52.4%,#bdff42 66%,#9fff60 82.1%,#84ff7b 100%)"></div><div style="background:linear-gradient(90deg,#e10000 0%,#e30000 .9%,#e90000 2.4%,#f00 4.7%,#ff4500 10.4%,#ff6800 13.7%,#ff8d00 17.9%,#ffab00 22.2%,#ffc100 25.9%,#ffd600 30.2%,#ff0 40.6%,#dcff23 52.4%,#bdff42 66%,#9fff60 82.1%,#84ff7b 100%)"></div><div style="background:linear-gradient(90deg,#d00 0%,#de0000 .9%,#e50000 2.4%,#ff0200 5.2%,#ff4200 10.4%,#ff6b00 14.2%,#ff8f00 18.4%,#ffad00 22.6%,#ffc300 26.4%,#ffd800 30.7%,#fffe00 40.6%,#dbff24 52.8%,#bdff42 66%,#9fff60 82.1%,#84ff7b 100%)"></div><div style="background:linear-gradient(90deg,#d90000 0%,#da0000 .9%,#e10000 2.4%,#ed0000 3.8%,#fd0000 5.2%,#ff0400 5.7%,#ff3a00 9.9%,#ff5f00 13.2%,#ff7e00 16.5%,#ff9c00 20.3%,#ffb700 24.5%,#ffd000 29.2%,#ffe700 34.4%,#fffe00 40.6%,#daff25 53.3%,#bcff43 66.5%,#9fff60 82.1%,#84ff7b 100%)"></div><div style="background:linear-gradient(90deg,#d40000 0%,#d60000 .9%,#d00 2.4%,#ea0000 3.8%,#ff0100 5.7%,#ff3700 9.9%,#ff5d00 13.2%,#ff7d00 16.5%,#ff9b00 20.3%,#ffb600 24.5%,#ffcf00 29.2%,#ffe800 34.9%,#ff0 41%,#df2 52.4%,#bdff42 66%,#a0ff5f 81.6%,#84ff7b 100%)"></div><div style="background:linear-gradient(90deg,#d00000 0%,#d20000 .9%,#d90000 2.4%,#e60000 3.8%,#fc0000 5.7%,#ff0300 6.1%,#ff3b00 10.4%,#ff5b00 13.2%,#ff7b00 16.5%,#f90 20.3%,#ffb500 24.5%,#ffcf00 29.2%,#ffe800 34.9%,#ff0 41%,#dcff23 52.8%,#bdff42 66%,#a0ff5f 81.6%,#84ff7b 100%)"></div><div style="background:linear-gradient(90deg,#c00 0%,#cf0000 1.4%,#d90000 2.8%,#e70000 4.2%,#f00 6.1%,#ff3800 10.4%,#ff5900 13.2%,#ff7a00 16.5%,#ff9800 20.3%,#ffb400 24.5%,#ffce00 29.2%,#ffe700 34.9%,#fffe00 41%,#dbff24 53.3%,#bcff43 66.5%,#9fff60 82.1%,#84ff7b 100%)"></div><div style="background:linear-gradient(90deg,#c80000 0%,#cb0000 1.4%,#d50000 2.8%,#e40000 4.2%,#fc0000 6.1%,#ff0300 6.6%,#ff3600 10.4%,#ff5c00 13.7%,#ff7c00 17%,#ff9a00 20.8%,#ffb600 25%,#ffd000 29.7%,#ffe700 34.9%,#fffe00 41%,#dbff24 53.3%,#bcff43 66.5%,#9fff60 82.1%,#84ff7b 100%)"></div><div style="background:linear-gradient(90deg,#c40000 0%,#c80000 1.4%,#d10000 2.8%,#e00000 4.2%,#f00 6.6%,#f30 10.4%,#ff5a00 13.7%,#ff7b00 17%,#f90 20.8%,#ffb500 25%,#ffd100 30.2%,#ffea00 35.8%,#ff0 41.5%,#df2 52.8%,#beff41 66%,#a0ff5f 81.6%,#84ff7b 100%)"></div><div style="background:linear-gradient(90deg,#c00000 0%,#c40000 1.4%,#ce0000 2.8%,#d00 4.2%,#fc0000 6.6%,#ff0400 7.1%,#ff3100 10.4%,#ff5900 13.7%,#ff7900 17%,#ff9800 20.8%,#ffb400 25%,#ffce00 29.7%,#ffe800 35.4%,#ff0 41.5%,#df2 52.8%,#bdff42 66.5%,#9fff60 82.1%,#84ff7b 100%)"></div><div style="background:linear-gradient(90deg,#bc0000 0%,#c00000 1.4%,#ca0000 2.8%,#d90000 4.2%,#ff0100 7.1%,#ff2f00 10.4%,#ff5700 13.7%,#ff7800 17%,#ff9700 20.8%,#ffb300 25%,#ffce00 29.7%,#ffe700 35.4%,#ff0 41.5%,#dcff23 53.3%,#bdff42 66.5%,#9fff60 82.1%,#84ff7b 100%)"></div><div style="background:linear-gradient(90deg,#b80000 0%,#bc0000 1.4%,#c60000 2.8%,#dc0000 4.7%,#fd0000 7.1%,#ff0500 7.5%,#f30 10.8%,#ff5a00 14.2%,#ff7b00 17.5%,#f90 21.2%,#ffb600 25.5%,#ffcf00 30.2%,#ffe700 35.4%,#fffe00 41.5%,#dcff23 53.3%,#bdff42 66.5%,#9fff60 82.1%,#84ff7b 100%)"></div><div style="background:linear-gradient(90deg,#b50000 0%,#b80000 1.4%,#c30000 2.8%,#d30000 4.2%,#fa0000 7.1%,#ff0200 7.5%,#ff3100 10.8%,#ff5900 14.2%,#ff7a00 17.5%,#ff9800 21.2%,#ffb500 25.5%,#ffcf00 30.2%,#ffe600 35.4%,#fffe00 41.5%,#dbff24 53.8%,#bdff42 66.5%,#a0ff5f 82.1%,#84ff7b 100%)"></div><div style="background:linear-gradient(90deg,#b10000 0%,#b50000 1.4%,#c40000 3.3%,#dc0000 5.2%,#f00 7.5%,#ff2f00 10.8%,#ff5700 14.2%,#ff7800 17.5%,#ff9700 21.2%,#ffb400 25.5%,#ffd000 30.7%,#ffea00 36.3%,#ff0 42%,#dcff23 53.3%,#bdff42 66.5%,#a0ff5f 82.1%,#84ff7b 100%)"></div><div style="background:linear-gradient(90deg,#ad0000 0%,#b10000 1.4%,#bc0000 2.8%,#d30000 4.7%,#fd0000 7.5%,#ff0500 8%,#f30 11.3%,#ff5b00 14.6%,#ff7b00 17.9%,#ff9a00 21.7%,#ffb600 25.9%,#ffd000 30.7%,#ffe700 35.8%,#ff0 42%,#df2 53.3%,#bdff42 66.5%,#a0ff5f 82.1%,#84ff7b 100%)"></div><div style="background:linear-gradient(90deg,#a00 0%,#ae0000 1.4%,#b90000 2.8%,#ca0000 4.2%,#fa0000 7.5%,#ff0200 8%,#ff3200 11.3%,#ff5900 14.6%,#ff7a00 17.9%,#f90 21.7%,#ffb500 25.9%,#ffcf00 30.7%,#ffe700 35.8%,#ff0 42%,#df2 53.3%,#bdff42 66.5%,#a0ff5f 82.1%,#84ff7b 100%)"></div><div style="background:linear-gradient(90deg,#a60000 0%,#a00 1.4%,#b00 3.3%,#d40000 5.2%,#f00 8%,#ff3000 11.3%,#ff5800 14.6%,#ff7900 17.9%,#ff9800 21.7%,#ffb500 25.9%,#ffcf00 30.7%,#ffe700 35.8%,#fffe00 42%,#dcff23 53.8%,#bcff43 67%,#a0ff5f 82.1%,#84ff7b 100%)"></div><div style="background:linear-gradient(90deg,#a30000 0%,#a70000 1.4%,#b30000 2.8%,#ca0000 4.7%,#fd0000 8%,#ff0600 8.5%,#ff3500 11.8%,#ff5700 14.6%,#ff7800 17.9%,#ff9700 21.7%,#ffb400 25.9%,#ffce00 30.7%,#ffe600 35.8%,#fffe00 42%,#dbff24 54.2%,#bcff43 67%,#a0ff5f 82.1%,#84ff7b 100%)"></div><div style="background:linear-gradient(90deg,#a00000 0%,#a40000 1.4%,#b00000 2.8%,#c80000 4.7%,#fb0000 8%,#ff0400 8.5%,#f30 11.8%,#ff5b00 15.1%,#ff7b00 18.4%,#ff9a00 22.2%,#ffb600 26.4%,#ffd000 31.1%,#ffea00 36.8%,#ff0 42.5%,#df2 53.3%,#bdff42 66.5%,#a0ff5f 82.1%,#84ff7b 100%)"></div><div style="background:linear-gradient(90deg,#9c0000 0%,#a10000 1.4%,#b20000 3.3%,#cd0000 5.2%,#fa0000 8%,#ff0200 8.5%,#ff3200 11.8%,#ff5a00 15.1%,#ff7b00 18.4%,#f90 22.2%,#ffb600 26.4%,#ffd000 31.1%,#ffea00 36.8%,#ff0 42.5%,#df2 53.3%,#beff41 66.5%,#a0ff5f 82.1%,#84ff7b 100%)"></div><div style="background:linear-gradient(90deg,#900 0%,#9e0000 1.4%,#b00000 3.3%,#ca0000 5.2%,#f00 8.5%,#ff3100 11.8%,#ff5900 15.1%,#ff7a00 18.4%,#f90 22.2%,#ffb500 26.4%,#ffcf00 31.1%,#ffe700 36.3%,#ff0 42.5%,#df2 53.3%,#beff41 66.5%,#a0ff5f 82.1%,#84ff7b 100%)"></div><div style="background:linear-gradient(90deg,#960000 0%,#9b0000 1.4%,#a70000 2.8%,#c10000 4.7%,#fe0000 8.5%,#ff0600 9%,#ff2f00 11.8%,#ff5800 15.1%,#ff7900 18.4%,#ff9800 22.2%,#ffb500 26.4%,#ffcf00 31.1%,#ffe700 36.3%,#ff0 42.5%,#dcff23 53.8%,#bdff42 67%,#a0ff5f 82.1%,#84ff7b 100%)"></div><div style="background:linear-gradient(90deg,#930000 0%,#980000 1.4%,#a50000 2.8%,#bf0000 4.7%,#fc0000 8.5%,#ff0500 9%,#ff2e00 11.8%,#ff5700 15.1%,#ff7800 18.4%,#ff9700 22.2%,#ffb400 26.4%,#ffcf00 31.1%,#ffe700 36.3%,#fffe00 42.5%,#dbff24 54.2%,#bdff42 67%,#a0ff5f 82.1%,#84ff7b 100%)"></div><div style="background:linear-gradient(90deg,#910000 0%,#950000 1.4%,#a20000 2.8%,#bd0000 4.7%,#fb0000 8.5%,#ff0300 9%,#ff2d00 11.8%,#ff5600 15.1%,#ff7800 18.4%,#ff9700 22.2%,#ffb400 26.4%,#ffce00 31.1%,#ffe600 36.3%,#fffe00 42.5%,#dbff24 54.2%,#bdff42 67%,#a0ff5f 82.1%,#84ff7b 100%)"></div><div style="background:linear-gradient(90deg,#8e0000 0%,#930000 1.4%,#a60000 3.3%,#c20000 5.2%,#f90000 8.5%,#ff0200 9%,#ff2c00 11.8%,#f50 15.1%,#f70 18.4%,#ff9600 22.2%,#ffb300 26.4%,#ffce00 31.1%,#ffe600 36.3%,#fffe00 42.5%,#dbff24 54.2%,#bdff42 67%,#a0ff5f 82.1%,#84ff7b 100%)"></div><div style="background:linear-gradient(90deg,#8c0000 0%,#910000 1.4%,#a40000 3.3%,#b90000 4.7%,#ff0100 9%,#ff2b00 11.8%,#f50 15.1%,#ff7600 18.4%,#ff9600 22.2%,#ffb300 26.4%,#ffce00 31.1%,#ffe600 36.3%,#fffe00 42.5%,#dcff23 54.2%,#bdff42 67%,#a0ff5f 82.1%,#84ff7b 100%)"></div><div style="background:linear-gradient(90deg,#8a0000 0%,#8e0000 1.4%,#a20000 3.3%,#b70000 4.7%,#f00 9%,#ff2a00 11.8%,#ff5400 15.1%,#ff7600 18.4%,#ff9500 22.2%,#ffb300 26.4%,#ffd000 31.6%,#ffea00 37.3%,#ff0 42.9%,#df2 53.8%,#bdff42 67%,#a0ff5f 82.1%,#84ff7b 100%)"></div><div style="background:linear-gradient(90deg,#800 0%,#8d0000 1.4%,#950000 2.4%,#a00000 3.3%,#b60000 4.7%,#fe0000 9%,#ff3000 12.3%,#ff5900 15.6%,#ff7a00 18.9%,#f90 22.6%,#ffb500 26.9%,#ffcf00 31.6%,#ffe900 37.3%,#ff0 42.9%,#df2 53.8%,#bdff42 67%,#a0ff5f 82.1%,#84ff7b 100%)"></div><div style="background:linear-gradient(90deg,#860000 0%,#8b0000 1.4%,#900 2.8%,#b50000 4.7%,#fd0000 9%,#ff0600 9.4%,#ff3000 12.3%,#ff5800 15.6%,#ff7900 18.9%,#ff9800 22.6%,#ffb500 26.9%,#ffcf00 31.6%,#ffe700 36.8%,#ff0 42.9%,#df2 53.8%,#bdff42 67%,#a0ff5f 82.1%,#84ff7b 100%)"></div><div style="background:linear-gradient(90deg,#840000 0%,#890000 1.4%,#980000 2.8%,#b40000 4.7%,#fc0000 9%,#ff0500 9.4%,#ff2f00 12.3%,#ff5800 15.6%,#ff7900 18.9%,#ff9800 22.6%,#ffb500 26.9%,#ffcf00 31.6%,#ffe700 36.8%,#ff0 42.9%,#df2 53.8%,#bdff42 67%,#a0ff5f 82.1%,#84ff7b 100%)"></div><div style="background:linear-gradient(90deg,#830000 0%,#800 1.4%,#960000 2.8%,#b30000 4.7%,#fc0000 9%,#ff0500 9.4%,#ff2f00 12.3%,#ff5700 15.6%,#ff7900 18.9%,#ff9800 22.6%,#ffb400 26.9%,#ffcf00 31.6%,#ffe700 36.8%,#ff0 42.9%,#dcff23 54.2%,#bdff42 67%,#a0ff5f 82.1%,#84ff7b 100%)"></div><div style="background:linear-gradient(90deg,#820000 0%,#870000 1.4%,#960000 2.8%,#b20000 4.7%,#fb0000 9%,#ff0400 9.4%,#ff2e00 12.3%,#ff5700 15.6%,#ff7800 18.9%,#ff9800 22.6%,#ffb400 26.9%,#ffcf00 31.6%,#ffe700 36.8%,#ff0 42.9%,#dcff23 54.2%,#bdff42 67%,#a0ff5f 82.1%,#84ff7b 100%)"></div><div style="background:linear-gradient(90deg,#810000 0%,#860000 1.4%,#950000 2.8%,#b10000 4.7%,#fb0000 9%,#ff0400 9.4%,#ff2e00 12.3%,#ff5700 15.6%,#ff7800 18.9%,#ff9700 22.6%,#ffb400 26.9%,#ffcf00 31.6%,#ffe700 36.8%,#ff0 42.9%,#dcff23 54.2%,#bdff42 67%,#a0ff5f 82.1%,#84ff7b 100%)"></div><div style="background:linear-gradient(90deg,#800000 0%,#850000 1.4%,#940000 2.8%,#b10000 4.7%,#fb0000 9%,#ff0400 9.4%,#ff2e00 12.3%,#ff5700 15.6%,#ff7800 18.9%,#ff9700 22.6%,#ffb400 26.9%,#ffce00 31.6%,#ffe700 36.8%,#ff0 42.9%,#dcff23 54.2%,#bdff42 67%,#a0ff5f 82.1%,#84ff7b 100%)"></div><div style="background:linear-gradient(90deg,#800000 0%,#850000 1.4%,#940000 2.8%,#b10000 4.7%,#fb0000 9%,#ff0300 9.4%,#ff2e00 12.3%,#ff5700 15.6%,#ff7800 18.9%,#ff9700 22.6%,#ffb400 26.9%,#ffce00 31.6%,#ffe700 36.8%,#fffe00 42.9%,#dbff24 54.7%,#bdff42 67.5%,#a0ff5f 82.5%,#84ff7b 100%)"></div><div style="background:linear-gradient(90deg,#800000 0%,#850000 1.4%,#930000 2.8%,#b00000 4.7%,#fb0000 9%,#ff0300 9.4%,#ff2e00 12.3%,#ff5700 15.6%,#ff7800 18.9%,#ff9700 22.6%,#ffb400 26.9%,#ffce00 31.6%,#ffe600 36.8%,#fffe00 42.9%,#dbff24 54.7%,#bdff42 67.5%,#a0ff5f 82.5%,#84ff7b 100%)"></div><div style="background:linear-gradient(90deg,#800000 0%,#840000 1.4%,#930000 2.8%,#b00000 4.7%,#fb0000 9%,#ff0300 9.4%,#ff2e00 12.3%,#ff5700 15.6%,#ff7800 18.9%,#ff9700 22.6%,#ffb400 26.9%,#ffce00 31.6%,#ffe600 36.8%,#fffe00 42.9%,#dbff24 54.7%,#bdff42 67.5%,#a0ff5f 82.5%,#84ff7b 100%)"></div><div style="background:linear-gradient(90deg,#800000 0%,#840000 1.4%,#930000 2.8%,#b00000 4.7%,#fb0000 9%,#ff0400 9.4%,#ff2e00 12.3%,#ff5700 15.6%,#ff7800 18.9%,#ff9700 22.6%,#ffb400 26.9%,#ffce00 31.6%,#ffe600 36.8%,#fffe00 42.9%,#dbff24 54.7%,#bdff42 67.5%,#a0ff5f 82.5%,#84ff7b 100%)"></div><div style="background:linear-gradient(90deg,#800000 0%,#840000 1.4%,#930000 2.8%,#b10000 4.7%,#fb0000 9%,#ff0400 9.4%,#ff2e00 12.3%,#ff5700 15.6%,#ff7800 18.9%,#ff9700 22.6%,#ffb400 26.9%,#ffce00 31.6%,#ffe600 36.8%,#fffe00 42.9%,#dbff24 54.7%,#bdff42 67.5%,#a0ff5f 82.5%,#84ff7b 100%)"></div><div style="background:linear-gradient(90deg,#800000 0%,#850000 1.4%,#940000 2.8%,#b10000 4.7%,#fc0000 9%,#ff0400 9.4%,#ff2e00 12.3%,#ff5700 15.6%,#ff7800 18.9%,#ff9700 22.6%,#ffb400 26.9%,#ffce00 31.6%,#ffe600 36.8%,#fffe00 42.9%,#dbff24 54.7%,#bdff42 67.5%,#a0ff5f 82.5%,#84ff7b 100%)"></div><div style="background:linear-gradient(90deg,#800000 0%,#850000 1.4%,#940000 2.8%,#b20000 4.7%,#fc0000 9%,#ff0500 9.4%,#ff2f00 12.3%,#ff5700 15.6%,#ff7900 18.9%,#ff9800 22.6%,#ffb400 26.9%,#ffce00 31.6%,#ffe600 36.8%,#fffe00 42.9%,#dbff24 54.7%,#bdff42 67.5%,#a0ff5f 82.5%,#84ff7b 100%)"></div><div style="background:linear-gradient(90deg,#810000 0%,#860000 1.4%,#950000 2.8%,#ab0000 4.2%,#fd0000 9%,#ff0500 9.4%,#ff2f00 12.3%,#ff5800 15.6%,#ff7900 18.9%,#ff9800 22.6%,#ffb400 26.9%,#ffce00 31.6%,#ffe600 36.8%,#fffe00 42.9%,#dbff24 54.7%,#bdff42 67.5%,#a0ff5f 82.5%,#84ff7b 100%)"></div><div style="background:linear-gradient(90deg,#820000 0%,#870000 1.4%,#960000 2.8%,#b40000 4.7%,#fe0000 9%,#ff0600 9.4%,#ff3000 12.3%,#ff5800 15.6%,#ff7900 18.9%,#ff9800 22.6%,#ffb400 26.9%,#ffcf00 31.6%,#ffe700 36.8%,#fffe00 42.9%,#dbff24 54.7%,#bdff42 67.5%,#a0ff5f 82.5%,#84ff7b 100%)"></div><div style="background:linear-gradient(90deg,#840000 0%,#890000 1.4%,#980000 2.8%,#b50000 4.7%,#fe0000 9%,#ff3100 12.3%,#ff5400 15.1%,#ff7500 18.4%,#ff9500 22.2%,#ffb200 26.4%,#fc0 31.1%,#ffe700 36.8%,#fffe00 42.9%,#dbff24 54.7%,#bdff42 67.5%,#a0ff5f 82.5%,#84ff7b 100%)"></div><div style="background:linear-gradient(90deg,#860000 0%,#8b0000 1.4%,#9a0000 2.8%,#af0000 4.2%,#f00 9%,#ff2b00 11.8%,#ff5400 15.1%,#ff7600 18.4%,#ff9500 22.2%,#ffb200 26.4%,#fc0 31.1%,#ffe700 36.8%,#fffe00 42.9%,#dbff24 54.7%,#bdff42 67.5%,#a0ff5f 82.5%,#84ff7b 100%)"></div><div style="background:linear-gradient(90deg,#800 0%,#8d0000 1.4%,#9b0000 2.8%,#b00000 4.2%,#f10000 8%,#ff0200 9%,#ff2c00 11.8%,#f50 15.1%,#ff7600 18.4%,#ff9600 22.2%,#ffb200 26.4%,#ffcd00 31.1%,#ffe700 36.8%,#fffe00 42.9%,#dbff24 54.7%,#bdff42 67.5%,#a0ff5f 82.5%,#84ff7b 100%)"></div><div style="background:linear-gradient(90deg,#8a0000 0%,#8f0000 1.4%,#9e0000 2.8%,#ba0000 4.7%,#fa0000 8.5%,#ff0300 9%,#ff2d00 11.8%,#ff5600 15.1%,#f70 18.4%,#ff9600 22.2%,#ffb300 26.4%,#ffcd00 31.1%,#ffe700 36.8%,#fffe00 42.9%,#dbff24 54.7%,#bdff42 67.5%,#a0ff5f 82.5%,#84ff7b 100%)"></div><div style="background:linear-gradient(90deg,#8c0000 0%,#920000 1.4%,#a00000 2.8%,#bc0000 4.7%,#fb0000 8.5%,#ff0400 9%,#ff2e00 11.8%,#ff5600 15.1%,#ff7800 18.4%,#ff9600 22.2%,#ffb300 26.4%,#ffcd00 31.1%,#ffe700 36.8%,#fffe00 42.9%,#dbff24 54.7%,#bdff42 67.5%,#a0ff5f 82.5%,#84ff7b 100%)"></div><div style="background:linear-gradient(90deg,#8f0000 0%,#940000 1.4%,#a20000 2.8%,#be0000 4.7%,#fd0000 8.5%,#ff0500 9%,#ff2f00 11.8%,#ff5700 15.1%,#ff7800 18.4%,#ff9700 22.2%,#ffb300 26.4%,#ffcd00 31.1%,#ffe700 36.8%,#ff0 42.9%,#dbff24 54.7%,#bdff42 67.5%,#a0ff5f 82.5%,#84ff7b 100%)"></div><div style="background:linear-gradient(90deg,#920000 0%,#970000 1.4%,#a50000 2.8%,#c00000 4.7%,#f00 8.5%,#ff3000 11.8%,#ff5300 14.6%,#ff7900 18.4%,#ff9800 22.2%,#ffb400 26.4%,#ffce00 31.1%,#ffe700 36.8%,#ff0 42.9%,#df2 54.2%,#bdff42 67.5%,#a0ff5f 82.5%,#84ff7b 100%)"></div><div style="background:linear-gradient(90deg,#950000 0%,#9a0000 1.4%,#a70000 2.8%,#b00 4.2%,#ff0100 8.5%,#ff2b00 11.3%,#ff5400 14.6%,#ff7a00 18.4%,#ff9800 22.2%,#ffb400 26.4%,#ffce00 31.1%,#ffe800 36.8%,#ff0 42.9%,#df2 54.2%,#bdff42 67.5%,#a0ff5f 82.5%,#84ff7b 100%)"></div><div style="background:linear-gradient(90deg,#980000 0%,#9d0000 1.4%,#a00 2.8%,#c50000 4.7%,#fb0000 8%,#ff0300 8.5%,#ff2d00 11.3%,#f50 14.6%,#ff7b00 18.4%,#f90 22.2%,#ffb500 26.4%,#ffce00 31.1%,#ffe800 36.8%,#ff0 42.9%,#df2 54.2%,#bdff42 67.5%,#a0ff5f 82.5%,#84ff7b 100%)"></div><div style="background:linear-gradient(90deg,#9b0000 0%,#a00000 1.4%,#ad0000 2.8%,#c80000 4.7%,#fd0000 8%,#ff0500 8.5%,#ff2e00 11.3%,#ff5600 14.6%,#ff7b00 18.4%,#f90 22.2%,#ffb500 26.4%,#ffcf00 31.1%,#ffe800 36.8%,#ff0 42.9%,#df2 54.2%,#bdff42 67.5%,#a0ff5f 82.5%,#84ff7b 100%)"></div><div style="background:linear-gradient(90deg,#9f0000 0%,#a40000 1.4%,#b10000 2.8%,#ca0000 4.7%,#f00 8%,#ff3000 11.3%,#ff5800 14.6%,#ff7800 17.9%,#ff9700 21.7%,#ffb300 25.9%,#ffcf00 31.1%,#ffe800 36.8%,#ff0 42.9%,#df2 54.2%,#bdff42 67.5%,#a0ff5f 82.5%,#84ff7b 100%)"></div><div style="background:linear-gradient(90deg,#a30000 0%,#a70000 1.4%,#b40000 2.8%,#c60000 4.2%,#fa0000 7.5%,#ff0200 8%,#ff3100 11.3%,#ff5900 14.6%,#ff7900 17.9%,#ff9700 21.7%,#ffb300 25.9%,#ffcf00 31.1%,#ffe800 36.8%,#ff0 42.9%,#df2 54.2%,#bdff42 67.5%,#a0ff5f 82.5%,#84ff7b 100%)"></div><div style="background:linear-gradient(90deg,#a60000 0%,#ab0000 1.4%,#b70000 2.8%,#d00000 4.7%,#fc0000 7.5%,#ff0400 8%,#f30 11.3%,#ff5a00 14.6%,#ff7a00 17.9%,#ff9800 21.7%,#ffb400 25.9%,#ffd000 31.1%,#ffe900 36.8%,#ff0 42.9%,#df2 54.2%,#bdff42 67.5%,#a0ff5f 82.5%,#84ff7b 100%)"></div><div style="background:linear-gradient(90deg,#ab0000 0%,#af0000 1.4%,#b00 2.8%,#d40000 4.7%,#f00 7.5%,#ff2f00 10.8%,#ff5700 14.2%,#ff7b00 17.9%,#f90 21.7%,#ffb400 25.9%,#ffd000 31.1%,#ffe900 36.8%,#ff0 42.9%,#df2 54.2%,#bdff42 67.5%,#a0ff5f 82.5%,#84ff7b 100%)"></div><div style="background:linear-gradient(90deg,#af0000 0%,#b30000 1.4%,#bf0000 2.8%,#d70000 4.7%,#fa0000 7.1%,#ff0200 7.5%,#ff3100 10.8%,#ff5800 14.2%,#ff7800 17.5%,#ff9700 21.2%,#ffb200 25.5%,#ffce00 30.7%,#ffe700 36.3%,#fffe00 42.5%,#dbff24 54.7%,#bdff42 67.5%,#a0ff5f 82.5%,#84ff7b 100%)"></div><div style="background:linear-gradient(90deg,#b40000 0%,#b80000 1.4%,#c30000 2.8%,#db0000 4.7%,#fd0000 7.1%,#ff0500 7.5%,#f30 10.8%,#ff5a00 14.2%,#ff7a00 17.5%,#ff9700 21.2%,#ffb300 25.5%,#ffcf00 30.7%,#ffe700 36.3%,#fffe00 42.5%,#dbff24 54.7%,#bdff42 67.5%,#a0ff5f 82.5%,#84ff7b 100%)"></div><div style="background:linear-gradient(90deg,#b80000 0%,#bc0000 1.4%,#c80000 2.8%,#d80000 4.2%,#ff0100 7.1%,#ff2f00 10.4%,#ff5600 13.7%,#ff7b00 17.5%,#ff9800 21.2%,#ffb400 25.5%,#ffcf00 30.7%,#ffe800 36.3%,#fffe00 42.5%,#dbff24 54.7%,#bdff42 67.5%,#a0ff5f 82.5%,#84ff7b 100%)"></div><div style="background:linear-gradient(90deg,#bd0000 0%,#c10000 1.4%,#c00 2.8%,#dc0000 4.2%,#fd0000 6.6%,#ff0400 7.1%,#ff3200 10.4%,#ff5800 13.7%,#ff7c00 17.5%,#f90 21.2%,#ffb400 25.5%,#ffcf00 30.7%,#ffe800 36.3%,#fffe00 42.5%,#dbff24 54.7%,#bdff42 67.5%,#a0ff5f 82.5%,#84ff7b 100%)"></div><div style="background:linear-gradient(90deg,#c20000 0%,#c60000 1.4%,#d10000 2.8%,#e00000 4.2%,#ff0100 6.6%,#ff3400 10.4%,#ff5a00 13.7%,#ff7900 17%,#ff9700 20.8%,#ffb200 25%,#ffce00 30.2%,#ffe600 35.8%,#fffe00 42.5%,#df2 54.2%,#bdff42 67.5%,#a0ff5f 82.5%,#84ff7b 100%)"></div><div style="background:linear-gradient(90deg,#c70000 0%,#c90000 .9%,#d10000 2.4%,#df0000 3.8%,#fd0000 6.1%,#ff0500 6.6%,#ff3700 10.4%,#ff5c00 13.7%,#ff7b00 17%,#ff9800 20.8%,#ffb300 25%,#ffce00 30.2%,#ffe700 35.8%,#ff0 42.5%,#dcff23 54.2%,#bdff42 67.5%,#a0ff5f 82.5%,#84ff7b 100%)"></div><div style="background:linear-gradient(90deg,#c00 0%,#ce0000 .9%,#d60000 2.4%,#e40000 3.8%,#ff0200 6.1%,#f30 9.9%,#ff5900 13.2%,#ff7c00 17%,#f90 20.8%,#ffb400 25%,#ffcf00 30.2%,#ffe700 35.8%,#ff0 42.5%,#dcff23 54.2%,#bdff42 67.5%,#a0ff5f 82.5%,#84ff7b 100%)"></div><div style="background:linear-gradient(90deg,#d20000 0%,#d30000 .9%,#db0000 2.4%,#e80000 3.8%,#f00 5.7%,#ff3600 9.9%,#ff5b00 13.2%,#ff7a00 16.5%,#ff9700 20.3%,#ffb200 24.5%,#ffcd00 29.7%,#ffe700 35.8%,#ff0 42.5%,#dcff23 54.2%,#bdff42 67.5%,#a0ff5f 82.5%,#84ff7b 100%)"></div><div style="background:linear-gradient(90deg,#d70000 0%,#d90000 .9%,#e00000 2.4%,#ed0000 3.8%,#fd0000 5.2%,#ff0400 5.7%,#ff3900 9.9%,#ff5d00 13.2%,#ff7b00 16.5%,#ff9800 20.3%,#ffb500 25%,#ffd000 30.2%,#ffe700 35.8%,#ff0 42.5%,#deff21 53.8%,#bdff42 67.5%,#a0ff5f 82.5%,#84ff7b 100%)"></div><div style="background:linear-gradient(90deg,#d00 0%,#de0000 .9%,#e50000 2.4%,#fc0000 4.7%,#ff0200 5.2%,#ff4100 10.4%,#ff6800 14.2%,#ff8c00 18.4%,#ffab00 23.1%,#ffc300 27.4%,#ffd600 31.6%,#ff0 42.5%,#dcff23 54.2%,#bdff42 67.5%,#a0ff5f 82.5%,#84ff7b 100%)"></div><div style="background:linear-gradient(90deg,#e20000 0%,#e80000 1.9%,#ff0100 4.7%,#f40 10.4%,#f60 13.7%,#ff8a00 17.9%,#ffa900 22.6%,#ffc100 26.9%,#ffd700 31.6%,#ff0 42.5%,#dcff23 54.2%,#bdff42 67.5%,#a0ff5f 82.5%,#84ff7b 100%)"></div><div style="background:linear-gradient(90deg,#e80000 0%,#ed0000 1.9%,#ff0100 4.2%,#ff4700 10.4%,#ff6800 13.7%,#ff8b00 17.9%,#ffa800 22.2%,#ffbf00 26.4%,#ffd500 31.1%,#fffe00 42%,#dbff24 54.7%,#bcff43 67.9%,#9fff60 83%,#84ff7b 100%)"></div><div style="background:linear-gradient(90deg,#ed0000 0%,#f20000 1.9%,#ff0100 3.8%,#ff4a00 10.4%,#ff6a00 13.7%,#ff8900 17.5%,#ffa600 21.7%,#ffbd00 25.9%,#ffd400 30.7%,#fffe00 42%,#dbff24 54.7%,#bcff43 67.9%,#9fff60 83%,#84ff7b 100%)"></div><div style="background:linear-gradient(90deg,#f30000 0%,#f60000 1.4%,#fe0000 2.8%,#ff0200 3.3%,#ff1400 5.2%,#ff4700 9.9%,#ff6800 13.2%,#ff8700 17%,#ffa400 21.2%,#ffbc00 25.5%,#ffd200 30.2%,#ffe900 35.8%,#fffe00 42%,#dbff24 54.7%,#bcff43 67.9%,#9fff60 83%,#84ff7b 100%)"></div><div style="background:linear-gradient(90deg,#f90000 0%,#ff0100 2.4%,#ff0700 3.3%,#ff1800 5.2%,#ff4f00 10.4%,#ff6a00 13.2%,#ff8900 17%,#ffa500 21.2%,#ffbc00 25.5%,#ffd300 30.2%,#ffe900 35.8%,#fffe00 42%,#dbff24 54.7%,#bdff42 67.9%,#9fff60 83%,#84ff7b 100%)"></div><div style="background:linear-gradient(90deg,#fe0000 0%,#ff0400 1.9%,#ff1000 3.8%,#ff6d00 13.2%,#ff8b00 17%,#ffa300 20.8%,#fb0 25%,#ffd300 30.2%,#fffe00 42%,#dbff24 54.7%,#bdff42 67.9%,#9fff60 83%,#84ff7b 100%)"></div><div style="background:linear-gradient(90deg,#ff0500 0%,#ff0900 1.9%,#ff1500 3.8%,#ff6f00 13.2%,#ff8c00 17%,#ffa500 20.8%,#ffbc00 25%,#ffd300 30.2%,#ff0 42%,#dbff24 54.7%,#bdff42 67.9%,#a0ff5f 83%,#84ff7b 100%)"></div><div style="background:linear-gradient(90deg,#ff0b00 0%,#ff0f00 1.9%,#ff1a00 3.8%,#ff7100 13.2%,#ff8e00 17%,#ffa600 20.8%,#ffbc00 25%,#ffd400 30.2%,#ff0 42%,#dcff23 54.2%,#bdff42 67.9%,#a0ff5f 83%,#84ff7b 100%)"></div><div style="background:linear-gradient(90deg,#f10 0%,#ff1500 1.9%,#ff2000 3.8%,#ff7400 13.2%,#ff8f00 17%,#ffa700 20.8%,#ffbd00 25%,#ffd400 30.2%,#ff0 42%,#dcff23 54.2%,#bdff42 67.9%,#a0ff5f 83%,#84ff7b 100%)"></div><div style="background:linear-gradient(90deg,#ff1600 0%,#ff1a00 1.9%,#ff2500 3.8%,#ff7a00 13.7%,#ff9400 17.5%,#ffab00 21.2%,#ffc000 25.5%,#ffd700 30.7%,#ff0 42%,#dcff23 54.2%,#bdff42 67.9%,#a0ff5f 83%,#84ff7b 100%)"></div><div style="background:linear-gradient(90deg,#ff1c00 0%,#ff2000 1.9%,#ff2a00 3.8%,#ff7c00 13.7%,#ff9600 17.5%,#ffac00 21.2%,#ffc100 25.5%,#ffd700 30.7%,#ff0 42%,#dcff23 54.2%,#bdff42 67.9%,#a0ff5f 83%,#84ff7b 100%)"></div><div style="background:linear-gradient(90deg,#ff2100 0%,#ff2500 1.9%,#ff2f00 3.8%,#ff7e00 13.7%,#ff9700 17.5%,#ffad00 21.2%,#ffd800 30.7%,#ff0 42%,#df2 54.2%,#bdff42 67.9%,#a0ff5f 83%,#84ff7b 100%)"></div><div style="background:linear-gradient(90deg,#ff2700 0%,#ff2a00 1.9%,#ff3400 3.8%,#ff8300 14.2%,#ff9b00 17.9%,#ffb000 21.7%,#ffd800 30.7%,#ff0 42%,#df2 54.2%,#bdff42 67.9%,#a0ff5f 83%,#84ff7b 100%)"></div><div style="background:linear-gradient(90deg,#ff2c00 0%,#ff2f00 1.9%,#ff3800 3.8%,#ff8500 14.2%,#ff9d00 17.9%,#ffb100 21.7%,#ffda00 31.1%,#ff0 42%,#df2 54.2%,#bdff42 67.9%,#a0ff5f 83%,#84ff7b 100%)"></div><div style="background:linear-gradient(90deg,#ff3100 0%,#ff3400 1.9%,#ff4000 4.2%,#ff8700 14.2%,#ffb200 21.7%,#ffda00 31.1%,#ff0 42%,#df2 54.2%,#bcff43 68.4%,#9fff60 83.5%,#84ff7b 100%)"></div><div style="background:linear-gradient(90deg,#ff3600 0%,#ff3900 1.9%,#f40 4.2%,#ff8c00 14.6%,#ffb500 22.2%,#ffdb00 31.1%,#ff0 42%,#dbff24 54.7%,#bcff43 68.4%,#9fff60 83.5%,#84ff7b 100%)"></div><div style="background:linear-gradient(90deg,#ff3b00 0%,#ff3e00 1.9%,#ff4800 4.2%,#ff8e00 14.6%,#ffb600 22.2%,#ffdb00 31.1%,#ff0 42%,#dcff23 54.7%,#bcff43 68.4%,#9fff60 83.5%,#84ff7b 100%)"></div><div style="background:linear-gradient(90deg,#ff4000 0%,#ff4200 1.9%,#ff4c00 4.2%,#ff9000 14.6%,#ffb700 22.2%,#fd0 31.6%,#ff0 42%,#dcff23 54.7%,#bcff43 68.4%,#9fff60 83.5%,#84ff7b 100%)"></div><div style="background:linear-gradient(90deg,#f40 0%,#ff4600 1.9%,#ff5000 4.2%,#ff9100 14.6%,#ffba00 22.6%,#fd0 31.6%,#ff0 42%,#dcff23 54.7%,#bcff43 68.4%,#9fff60 83.5%,#84ff7b 100%)"></div><div style="background:linear-gradient(90deg,#ff4800 0%,#ff4a00 1.9%,#ff5400 4.2%,#ff9300 14.6%,#fb0 22.6%,#ffde00 31.6%,#ff0 42%,#dcff23 54.7%,#bcff43 68.4%,#9fff60 83.5%,#84ff7b 100%)"></div><div style="background:linear-gradient(90deg,#ff4b00 0%,#ff4e00 1.9%,#ff5700 4.2%,#ff9400 14.6%,#fb0 22.6%,#ffe000 32.1%,#ff0 42%,#dcff23 54.7%,#bf4 68.9%,#9fff60 83.5%,#84ff7b 100%)"></div><div style="background:linear-gradient(90deg,#ff4f00 0%,#ff5100 1.9%,#ff5a00 4.2%,#ff9600 14.6%,#ffbc00 22.6%,#ffe000 32.1%,#ff0 42%,#dcff23 54.7%,#bf4 68.9%,#9fff60 83.5%,#84ff7b 100%)"></div><div style="background:linear-gradient(90deg,#ff5200 0%,#f50 1.9%,#ff5e00 4.2%,#ff9a00 15.1%,#ffbf00 23.1%,#ffe000 32.1%,#ff0 42%,#dcff23 54.7%,#bf4 68.9%,#9fff60 83.5%,#84ff7b 100%)"></div><div style="background:linear-gradient(90deg,#ff5600 0%,#ff5800 1.9%,#ff6100 4.2%,#ff9b00 15.1%,#ffbf00 23.1%,#ffe200 32.5%,#ff0 42%,#dbff24 55.2%,#bf4 68.9%,#9fff60 83.5%,#84ff7b 100%)"></div><div style="background:linear-gradient(90deg,#ff5900 0%,#ff5b00 1.9%,#ff6400 4.2%,#ff9d00 15.1%,#ffc000 23.1%,#ffe200 32.5%,#ff0 42%,#dbff24 55.2%,#bf4 68.9%,#9fff60 83.5%,#84ff7b 100%)"></div><div style="background:linear-gradient(90deg,#ff5c00 0%,#ff5e00 1.9%,#ff6700 4.2%,#ff9e00 15.1%,#ffc000 23.1%,#ffe200 32.5%,#ff0 42%,#dbff24 55.2%,#bf4 68.9%,#9fff60 83.5%,#84ff7b 100%)"></div><div style="background:linear-gradient(90deg,#ff5f00 0%,#ff6100 1.9%,#ff6900 4.2%,#ff9f00 15.1%,#ffc300 23.6%,#ffe400 33%,#ff0 42%,#dbff24 55.2%,#bcff43 68.9%,#9fff60 83.5%,#84ff7b 100%)"></div><div style="background:linear-gradient(90deg,#ff6200 0%,#ff6400 1.9%,#ff6c00 4.2%,#ffa000 15.1%,#ffc300 23.6%,#ffe400 33%,#ff0 42%,#dbff24 55.2%,#bf4 69.3%,#9eff61 84%,#84ff7b 100%)"></div><div style="background:linear-gradient(90deg,#ff6500 0%,#ff6700 1.9%,#ff6f00 4.2%,#ffa200 15.1%,#ffc400 23.6%,#ffe400 33%,#ff0 42%,#dbff24 55.2%,#bf4 69.3%,#9eff61 84%,#84ff7b 100%)"></div><div style="background:linear-gradient(90deg,#ff6700 0%,#ff6a00 1.9%,#ff7100 4.2%,#ffa500 15.6%,#ffc600 24.1%,#ffe600 33.5%,#ff0 42%,#dbff24 55.2%,#bf4 69.3%,#9eff61 84%,#84ff7b 100%)"></div><div style="background:linear-gradient(90deg,#ff6a00 0%,#ff6c00 1.9%,#ff7400 4.2%,#ffa600 15.6%,#ffc600 24.1%,#ffe600 33.5%,#feff01 42%,#daff25 55.7%,#bf4 69.3%,#9eff61 84%,#84ff7b 100%)"></div><div style="background:linear-gradient(90deg,#ff6d00 0%,#ff6f00 1.9%,#ff7600 4.2%,#ffa700 15.6%,#ffc800 24.5%,#feff01 42%,#daff25 55.7%,#bf4 69.3%,#9eff61 84%,#84ff7b 100%)"></div><div style="background:linear-gradient(90deg,#ff7000 0%,#ff7200 1.9%,#ff7900 4.2%,#fa0 16%,#ffcb00 25%,#feff01 42%,#daff25 55.7%,#bf4 69.3%,#9eff61 84%,#84ff7b 100%)"></div><div style="background:linear-gradient(90deg,#ff7200 0%,#ff7400 1.9%,#ff7a00 3.8%,#ffc100 22.2%,#ffe300 32.5%,#feff01 42%,#daff25 55.7%,#bf4 69.3%,#9eff61 84%,#84ff7b 100%)"></div><div style="background:linear-gradient(90deg,#ff7500 0%,#ff7c00 3.8%,#ffc200 22.2%,#ffe500 33%,#feff01 42%,#daff25 55.7%,#bf4 69.3%,#9eff61 84%,#84ff7b 100%)"></div><div style="background:linear-gradient(90deg,#f70 0%,#ff7e00 3.8%,#ffc400 22.6%,#feff01 42%,#daff25 55.7%,#baff45 69.8%,#9eff61 84.4%,#84ff7b 100%)"></div><div style="background:linear-gradient(90deg,#ff7a00 0%,#ff7c00 1.9%,#ff8200 4.2%,#ffc300 22.2%,#fffe00 41.5%,#d8ff27 56.6%,#baff45 69.8%,#9eff61 84.4%,#84ff7b 100%)"></div><div style="background:linear-gradient(90deg,#ff7c00 0%,#ff7e00 1.9%,#ff8400 4.2%,#ffc500 22.6%,#fffe00 41.5%,#d8ff27 56.6%,#baff45 69.8%,#9eff61 84.4%,#84ff7b 100%)"></div><div style="background:linear-gradient(90deg,#ff7f00 0%,#ff8100 1.9%,#ff8700 4.2%,#ffc600 22.6%,#ff0 41.5%,#d9ff26 56.1%,#baff45 69.8%,#9eff61 84.4%,#84ff7b 100%)"></div><div style="background:linear-gradient(90deg,#ff8100 0%,#ff8300 1.9%,#ff8a00 4.7%,#ffc800 23.1%,#ff0 41.5%,#d9ff26 56.1%,#baff45 69.8%,#9eff61 84.4%,#84ff7b 100%)"></div><div style="background:linear-gradient(90deg,#ff8400 0%,#ff8600 1.9%,#ff8d00 4.7%,#ffcb00 24.1%,#ff0 41.5%,#d9ff26 56.1%,#baff45 69.8%,#9eff61 84.4%,#84ff7b 100%)"></div><div style="background:linear-gradient(90deg,#ff8600 0%,#ff8900 2.4%,#ff9000 5.2%,#ffce00 25%,#ff0 41.5%,#d9ff26 56.1%,#baff45 69.8%,#9eff61 84.4%,#84ff7b 100%)"></div><div style="background:linear-gradient(90deg,#ff8900 0%,#ff8b00 2.4%,#ff9400 5.7%,#ff0 41.5%,#daff25 55.7%,#baff45 69.8%,#9dff62 84.4%,#84ff7b 100%)"></div><div style="background:linear-gradient(90deg,#ff8b00 0%,#ff8e00 2.4%,#ff9600 5.7%,#ff0 41.5%,#d8ff27 56.1%,#b9ff46 69.8%,#9dff62 84.4%,#84ff7b 100%)"></div><div style="background:linear-gradient(90deg,#ff8e00 0%,#ff9100 2.8%,#ff9a00 6.6%,#ff0 41.5%,#d8ff27 56.1%,#b9ff46 69.8%,#9dff62 84.4%,#84ff7b 100%)"></div><div style="background:linear-gradient(90deg,#ff9100 0%,#ff9300 2.8%,#ff9e00 7.1%,#feff01 41.5%,#d8ff27 56.1%,#b9ff46 69.8%,#9dff62 84.4%,#84ff7b 100%)"></div><div style="background:linear-gradient(90deg,#ff9300 0%,#ff9700 3.3%,#ffa300 8.5%,#ff0 41%,#d8ff27 56.1%,#b9ff46 69.8%,#9dff62 84.4%,#84ff7b 100%)"></div><div style="background:linear-gradient(90deg,#ff9600 0%,#f90 3.3%,#ffa700 9.4%,#ff0 41%,#d8ff27 56.1%,#b9ff46 69.8%,#9dff62 84.4%,#84ff7b 100%)"></div><div style="background:linear-gradient(90deg,#ff9800 0%,#ff9c00 3.8%,#ffab00 10.4%,#ff0 41%,#d9ff26 55.7%,#b9ff46 69.8%,#9dff62 84.4%,#84ff7b 100%)"></div><div style="background:linear-gradient(90deg,#ff9b00 0%,#ff9f00 3.8%,#ffaf00 11.3%,#feff01 41%,#d8ff27 56.1%,#b9ff46 69.8%,#9dff62 84.4%,#84ff7b 100%)"></div><div style="background:linear-gradient(90deg,#ff9e00 0%,#ffa200 4.2%,#ffb300 12.3%,#ff0 40.6%,#d7ff28 56.1%,#b9ff46 69.8%,#9dff62 84.4%,#84ff7b 100%)"></div><div style="background:linear-gradient(90deg,#ffa000 0%,#ffa500 4.7%,#ffb600 12.7%,#ff0 40.6%,#d8ff27 55.7%,#b9ff46 69.8%,#9dff62 84.4%,#84ff7b 100%)"></div><div style="background:linear-gradient(90deg,#ffa300 0%,#ffa700 4.7%,#ffb800 13.2%,#feff01 40.6%,#d8ff27 55.7%,#b8ff47 69.8%,#9dff62 84.4%,#84ff7b 100%)"></div><div style="background:linear-gradient(90deg,#ffa500 0%,#fa0 5.2%,#fb0 13.7%,#ff0 40.1%,#d7ff28 56.1%,#b8ff47 69.8%,#9dff62 84.4%,#84ff7b 100%)"></div><div style="background:linear-gradient(90deg,#ffa800 0%,#ffad00 5.7%,#ffbd00 14.2%,#ff0 40.1%,#d7ff28 55.7%,#b8ff47 69.8%,#9dff62 84.4%,#84ff7b 100%)"></div><div style="background:linear-gradient(90deg,#ffab00 0%,#ffb000 5.7%,#ffbf00 14.2%,#feff01 40.1%,#d7ff28 55.7%,#b8ff47 69.8%,#9dff62 84.4%,#84ff7b 100%)"></div><div style="background:linear-gradient(90deg,#ffad00 0%,#ffb200 6.1%,#ffc100 14.6%,#ffd700 24.1%,#ff0 39.6%,#d7ff28 55.7%,#b8ff47 69.8%,#9dff62 84.4%,#84ff7b 100%)"></div><div style="background:linear-gradient(90deg,#ffb000 0%,#ffb500 6.1%,#ffc300 14.6%,#ffd800 24.1%,#fffe00 39.2%,#d4ff2b 56.6%,#b7ff48 69.8%,#9cff63 84.4%,#84ff7b 100%)"></div><div style="background:linear-gradient(90deg,#ffb200 0%,#ffb700 6.6%,#ffc400 14.6%,#ffd900 24.1%,#ff0 39.2%,#d7ff28 55.2%,#b8ff47 69.3%,#9dff62 84%,#84ff7b 100%)"></div><div style="background:linear-gradient(90deg,#ffb500 0%,#ffb900 6.6%,#ffc700 15.1%,#ffdb00 24.5%,#ff0 38.7%,#d5ff2a 56.1%,#b7ff48 69.8%,#9cff63 84.4%,#84ff7b 100%)"></div><div style="background:linear-gradient(90deg,#ffb700 0%,#ffbc00 6.6%,#ffc800 15.1%,#ffdb00 24.1%,#ff0 38.7%,#d6ff29 55.2%,#b8ff47 69.3%,#9dff62 84%,#84ff7b 100%)"></div><div style="background:linear-gradient(90deg,#ffba00 0%,#ffbe00 7.1%,#ffca00 15.1%,#ffde00 24.5%,#ff0 38.2%,#d6ff29 55.2%,#b7ff48 69.3%,#9dff62 84%,#84ff7b 100%)"></div><div style="background:linear-gradient(90deg,#ffbc00 0%,#ffc000 7.1%,#fc0 15.1%,#ffdf00 24.5%,#ff0 37.7%,#d3ff2c 56.1%,#b6ff49 69.8%,#9cff63 84.4%,#84ff7b 100%)"></div><div style="background:linear-gradient(90deg,#ffbe00 0%,#ffc200 7.1%,#ffcd00 15.1%,#ffdf00 24.1%,#ff0 37.7%,#d5ff2a 55.2%,#b7ff48 69.3%,#9cff63 84%,#84ff7b 100%)"></div><div style="background:linear-gradient(90deg,#ffc100 0%,#ffc400 7.1%,#ffcf00 15.1%,#ffe000 24.1%,#ff0 37.3%,#d4ff2b 55.2%,#b6ff49 69.3%,#9cff63 84%,#84ff7b 100%)"></div><div style="background:linear-gradient(90deg,#ffc300 0%,#ffc600 7.1%,#ffd100 15.1%,#ffe200 24.1%,#ff0 36.8%,#d4ff2b 55.2%,#b6ff49 69.3%,#9cff63 84%,#84ff7b 100%)"></div><div style="background:linear-gradient(90deg,#ffc500 0%,#ffc800 7.1%,#ffd300 15.1%,#ffe300 24.1%,#ff0 36.3%,#d3ff2c 55.2%,#b6ff49 69.3%,#9cff63 84%,#84ff7b 100%)"></div><div style="background:linear-gradient(90deg,#ffc700 0%,#ffcb00 7.1%,#ffd400 15.1%,#ffe500 24.1%,#ff0 35.8%,#d3ff2c 55.2%,#b5ff4a 69.3%,#9cff63 84%,#84ff7b 100%)"></div><div style="background:linear-gradient(90deg,#ffca00 0%,#ffcd00 7.1%,#ffd600 15.1%,#ffe600 24.1%,#ff0 35.4%,#d2ff2d 55.2%,#b5ff4a 69.3%,#9cff63 84%,#84ff7b 100%)"></div><div style="background:linear-gradient(90deg,#fc0 0%,#ffcf00 7.1%,#ffd800 15.1%,#ffe700 23.6%,#ff0 34.9%,#d1ff2e 55.2%,#b6ff49 68.9%,#9bff64 84%,#84ff7b 100%)"></div><div style="background:linear-gradient(90deg,#ffce00 0%,#ffd100 7.1%,#ffda00 15.1%,#ffe800 23.6%,#ff0 34.4%,#d2ff2d 54.7%,#b5ff4a 68.9%,#9bff64 84%,#84ff7b 100%)"></div><div style="background:linear-gradient(90deg,#ffd000 0%,#ffd300 7.1%,#ffdb00 14.6%,#ffe900 23.1%,#ff0 34%,#d0ff2f 55.2%,#b5ff4a 68.9%,#9bff64 84%,#84ff7b 100%)"></div><div style="background:linear-gradient(90deg,#ffd300 0%,#ffd500 7.1%,#fd0 14.6%,#ffea00 22.6%,#ff0 33.5%,#cfff30 55.2%,#b4ff4b 68.9%,#9bff64 84%,#84ff7b 100%)"></div><div style="background:linear-gradient(90deg,#ffd500 0%,#ffd700 7.1%,#ffdf00 14.6%,#ffec00 22.6%,#ff0 32.5%,#b4ff4b 68.9%,#9aff65 84%,#84ff7b 100%)"></div><div style="background:linear-gradient(90deg,#ffd700 0%,#ffda00 7.1%,#ffe000 14.2%,#ffec00 22.2%,#ff0 32.1%,#b3ff4c 68.9%,#9aff65 84%,#84ff7b 100%)"></div><div style="background:linear-gradient(90deg,#ffd900 0%,#ffdc00 7.1%,#ffe300 14.2%,#ffed00 21.7%,#ff0 31.1%,#b2ff4d 69.3%,#9aff65 84%,#84ff7b 100%)"></div><div style="background:linear-gradient(90deg,#ffdc00 0%,#ffde00 6.6%,#ffe400 13.7%,#ff0 30.7%,#b3ff4c 68.9%,#9aff65 84%,#84ff7b 100%)"></div><div style="background:linear-gradient(90deg,#ffde00 0%,#ffe000 6.6%,#ffe600 13.7%,#ff0 29.7%,#b2ff4d 68.9%,#9aff65 84%,#84ff7b 100%)"></div><div style="background:linear-gradient(90deg,#ffe000 0%,#ffe200 6.6%,#ffe800 13.2%,#ff0 28.8%,#b1ff4e 69.3%,#9f6 84%,#84ff7b 100%)"></div><div style="background:linear-gradient(90deg,#ffe300 0%,#ffe400 6.1%,#ffe900 12.7%,#ff0 27.8%,#b0ff4f 69.3%,#9f6 84%,#84ff7b 100%)"></div><div style="background:linear-gradient(90deg,#ffe500 0%,#ffec00 12.7%,#ff0 26.9%,#b0ff4f 69.3%,#9f6 84%,#84ff7b 100%)"></div><div style="background:linear-gradient(90deg,#ffe700 0%,#ffed00 12.3%,#ff0 25.9%,#aeff51 69.8%,#98ff67 84.4%,#83ff7c 100%)"></div><div style="background:linear-gradient(90deg,#ffea00 0%,#ffef00 11.3%,#ff0 25%,#aeff51 69.8%,#98ff67 84.4%,#83ff7c 100%)"></div><div style="background:linear-gradient(90deg,#ffec00 0%,#fff100 11.3%,#ff0 23.6%,#adff52 70.3%,#97ff68 84.4%,#83ff7c 100%)"></div><div style="background:linear-gradient(90deg,#fe0 0%,#fff200 10.4%,#ff0 22.2%,#ef1 33%,#abff54 70.8%,#83ff7c 100%)"></div><div style="background:linear-gradient(90deg,#fff100 0%,#fff400 9.9%,#ff0 20.8%,#edff12 32.5%,#af5 71.2%,#83ff7c 100%)"></div><div style="background:linear-gradient(90deg,#fff300 0%,#fff600 8.5%,#fdff02 20.3%,#ecff13 32.5%,#a9ff56 71.7%,#83ff7c 100%)"></div><div style="background:linear-gradient(90deg,#fff500 0%,#fff800 8.5%,#ff0 17%,#fbff04 20.8%,#e9ff16 33%,#a8ff57 71.7%,#83ff7c 100%)"></div><div style="background:linear-gradient(90deg,#fff800 0%,#fffa00 7.5%,#ff0 15.1%,#f8ff07 21.7%,#e7ff18 33.5%,#a8ff57 71.7%,#83ff7c 100%)"></div><div style="background:linear-gradient(90deg,#fffa00 0%,#ff0 12.7%,#f5ff0a 22.2%,#e4ff1b 34%,#a7ff58 71.7%,#83ff7c 100%)"></div><div style="background:linear-gradient(90deg,#fffc00 0%,#ff0 9.4%,#f2ff0d 23.1%,#a7ff58 71.7%,#83ff7c 100%)"></div><div style="background:linear-gradient(90deg,#ff0 0%,#fcff03 11.3%,#efff10 24.1%,#a6ff59 71.7%,#83ff7c 100%)"></div><div style="background:linear-gradient(90deg,#fdff02 0%,#f9ff06 11.3%,#edff12 24.1%,#a5ff5a 72.2%,#83ff7c 100%)"></div><div style="background:linear-gradient(90deg,#fbff04 0%,#f7ff08 11.8%,#ebff14 24.5%,#a4ff5b 72.2%,#83ff7c 100%)"></div><div style="background:linear-gradient(90deg,#f9ff06 0%,#f5ff0a 11.8%,#e9ff16 24.5%,#a3ff5c 72.6%,#83ff7c 100%)"></div><div style="background:linear-gradient(90deg,#f6ff09 0%,#f3ff0c 11.8%,#e7ff18 24.5%,#a3ff5c 72.6%,#83ff7c 100%)"></div><div style="background:linear-gradient(90deg,#f4ff0b 0%,#f0ff0f 11.8%,#e4ff1b 25%,#a2ff5d 72.6%,#83ff7c 100%)"></div><div style="background:linear-gradient(90deg,#f2ff0d 0%,#ef1 11.8%,#e3ff1c 25%,#a1ff5e 73.1%,#83ff7c 100%)"></div><div style="background:linear-gradient(90deg,#f0ff0f 0%,#ecff13 11.8%,#e1ff1e 25%,#a1ff5e 73.1%,#83ff7c 100%)"></div><div style="background:linear-gradient(90deg,#ef1 0%,#eaff15 12.3%,#deff21 25.5%,#a0ff5f 73.6%,#83ff7c 100%)"></div><div style="background:linear-gradient(90deg,#ecff13 0%,#e8ff17 12.3%,#df2 25.5%,#9fff60 73.6%,#83ff7c 100%)"></div><div style="background:linear-gradient(90deg,#eaff15 0%,#e6ff19 12.3%,#dbff24 25.5%,#9eff61 74.1%,#83ff7c 100%)"></div><div style="background:linear-gradient(90deg,#e8ff17 0%,#e4ff1b 12.3%,#d8ff27 25.9%,#9dff62 74.1%,#83ff7c 100%)"></div><div style="background:linear-gradient(90deg,#e6ff19 0%,#e2ff1d 12.3%,#d7ff28 25.9%,#9cff63 74.5%,#82ff7d 100%)"></div><div style="background:linear-gradient(90deg,#e4ff1b 0%,#dfff20 12.7%,#d4ff2b 26.4%,#9cff63 74.5%,#82ff7d 100%)"></div><div style="background:linear-gradient(90deg,#e2ff1d 0%,#df2 12.7%,#d3ff2c 26.4%,#9bff64 75%,#82ff7d 100%)"></div><div style="background:linear-gradient(90deg,#e0ff1f 0%,#dbff24 13.2%,#d1ff2e 26.9%,#9aff65 75%,#82ff7d 100%)"></div><div style="background:linear-gradient(90deg,#deff21 0%,#d9ff26 13.7%,#ceff31 27.4%,#9aff65 75%,#82ff7d 100%)"></div><div style="background:linear-gradient(90deg,#dcff23 0%,#d7ff28 13.7%,#cdff32 27.4%,#9f6 75.5%,#82ff7d 100%)"></div><div style="background:linear-gradient(90deg,#dbff24 0%,#d5ff2a 14.2%,#cbff34 27.8%,#9f6 75.5%,#82ff7d 100%)"></div><div style="background:linear-gradient(90deg,#d9ff26 0%,#d3ff2c 14.6%,#c9ff36 28.3%,#98ff67 75.9%,#82ff7d 100%)"></div><div style="background:linear-gradient(90deg,#d7ff28 0%,#d1ff2e 14.6%,#c7ff38 28.3%,#97ff68 75.9%,#82ff7d 100%)"></div><div style="background:linear-gradient(90deg,#d5ff2a 0%,#cfff30 15.1%,#c5ff3a 28.8%,#96ff69 76.4%,#82ff7d 100%)"></div><div style="background:linear-gradient(90deg,#d4ff2b 0%,#cdff32 15.6%,#c3ff3c 29.2%,#96ff69 76.4%,#82ff7d 100%)"></div><div style="background:linear-gradient(90deg,#d2ff2d 0%,#cbff34 16%,#c2ff3d 29.2%,#95ff6a 76.9%,#82ff7d 100%)"></div><div style="background:linear-gradient(90deg,#d0ff2f 0%,#c0ff3f 29.7%,#94ff6b 77.4%,#82ff7d 100%)"></div><div style="background:linear-gradient(90deg,#ceff31 0%,#beff41 30.2%,#82ff7d 100%)"></div><div style="background:linear-gradient(90deg,#cdff32 0%,#bcff43 30.7%,#82ff7d 100%)"></div><div style="background:linear-gradient(90deg,#cbff34 0%,#bf4 30.7%,#82ff7d 100%)"></div><div style="background:linear-gradient(90deg,#c9ff36 0%,#b9ff46 31.1%,#82ff7d 100%)"></div><div style="background:linear-gradient(90deg,#c8ff37 0%,#b8ff47 31.1%,#82ff7d 100%)"></div><div style="background:linear-gradient(90deg,#c6ff39 0%,#b6ff49 31.6%,#82ff7d 100%)"></div><div style="background:linear-gradient(90deg,#c4ff3b 0%,#b4ff4b 32.1%,#82ff7d 100%)"></div><div style="background:linear-gradient(90deg,#c3ff3c 0%,#b3ff4c 32.1%,#82ff7d 100%)"></div><div style="background:linear-gradient(90deg,#c1ff3e 0%,#b1ff4e 32.5%,#82ff7d 100%)"></div><div style="background:linear-gradient(90deg,#bfff40 0%,#b0ff4f 33%,#81ff7e 100%)"></div><div style="background:linear-gradient(90deg,#beff41 0%,#afff50 33%,#81ff7e 100%)"></div><div style="background:linear-gradient(90deg,#bcff43 0%,#adff52 33.5%,#81ff7e 100%)"></div><div style="background:linear-gradient(90deg,#bf4 0%,#acff53 33.5%,#81ff7e 100%)"></div><div style="background:linear-gradient(90deg,#b9ff46 0%,#abff54 34%,#81ff7e 100%)"></div><div style="background:linear-gradient(90deg,#b8ff47 0%,#af5 34%,#81ff7e 100%)"></div><div style="background:linear-gradient(90deg,#b6ff49 0%,#a9ff56 34%,#81ff7e 100%)"></div><div style="background:linear-gradient(90deg,#b4ff4b 0%,#a8ff57 34%,#81ff7e 100%)"></div><div style="background:linear-gradient(90deg,#b3ff4c 0%,#a6ff59 34.4%,#81ff7e 100%)"></div><div style="background:linear-gradient(90deg,#b1ff4e 0%,#a5ff5a 34.4%,#81ff7e 100%)"></div><div style="background:linear-gradient(90deg,#b0ff4f 0%,#a4ff5b 34.4%,#81ff7e 100%)"></div><div style="background:linear-gradient(90deg,#aeff51 0%,#a3ff5c 34.4%,#81ff7e 100%)"></div></div>
<div class="hm" style="left:714.3px;top:41.8px;width:211.8px;height:705.8px"><div style="background:linear-gradient(90deg,#a2ff5d 0%,#9f6 36.3%,#81ff7e 100%)"></div><div style="background:linear-gradient(90deg,#a3ff5c 0%,#9f6 36.3%,#81ff7e 100%)"></div><div style="background:linear-gradient(90deg,#a4ff5b 0%,#9aff65 36.3%,#81ff7e 100%)"></div><div style="background:linear-gradient(90deg,#a5ff5a 0%,#9aff65 36.8%,#81ff7e 100%)"></div><div style="background:linear-gradient(90deg,#a6ff59 0%,#9bff64 36.3%,#81ff7e 100%)"></div><div style="background:linear-gradient(90deg,#a7ff58 0%,#9cff63 36.3%,#81ff7e 100%)"></div><div style="background:linear-gradient(90deg,#a8ff57 0%,#9dff62 36.3%,#81ff7e 100%)"></div><div style="background:linear-gradient(90deg,#a9ff56 0%,#9eff61 36.3%,#81ff7e 100%)"></div><div style="background:linear-gradient(90deg,#af5 0%,#9eff61 35.8%,#81ff7e 100%)"></div><div style="background:linear-gradient(90deg,#acff53 0%,#9fff60 35.8%,#81ff7e 100%)"></div><div style="background:linear-gradient(90deg,#adff52 0%,#a0ff5f 35.4%,#81ff7e 100%)"></div><div style="background:linear-gradient(90deg,#aeff51 0%,#a1ff5e 35.4%,#81ff7e 100%)"></div><div style="background:linear-gradient(90deg,#afff50 0%,#a2ff5d 34.9%,#81ff7e 100%)"></div><div style="background:linear-gradient(90deg,#b0ff4f 0%,#a3ff5c 34.4%,#81ff7e 100%)"></div><div style="background:linear-gradient(90deg,#b1ff4e 0%,#a4ff5b 34.4%,#81ff7e 100%)"></div><div style="background:linear-gradient(90deg,#b3ff4c 0%,#a5ff5a 34%,#81ff7e 100%)"></div><div style="background:linear-gradient(90deg,#b4ff4b 0%,#a6ff59 33.5%,#81ff7e 100%)"></div><div style="background:linear-gradient(90deg,#b5ff4a 0%,#a8ff57 33%,#81ff7e 100%)"></div><div style="background:linear-gradient(90deg,#b6ff49 0%,#a9ff56 33%,#81ff7e 100%)"></div><div style="background:linear-gradient(90deg,#b7ff48 0%,#af5 32.5%,#81ff7e 100%)"></div><div style="background:linear-gradient(90deg,#b9ff46 0%,#abff54 32.1%,#81ff7e 100%)"></div><div style="background:linear-gradient(90deg,#baff45 0%,#adff52 31.6%,#81ff7e 100%)"></div><div style="background:linear-gradient(90deg,#bf4 0%,#aeff51 31.1%,#81ff7e 100%)"></div><div style="background:linear-gradient(90deg,#bcff43 0%,#afff50 30.7%,#81ff7e 100%)"></div><div style="background:linear-gradient(90deg,#beff41 0%,#b1ff4e 30.2%,#81ff7e 100%)"></div><div style="background:linear-gradient(90deg,#bfff40 0%,#b2ff4d 29.7%,#81ff7e 100%)"></div><div style="background:linear-gradient(90deg,#c0ff3f 0%,#b3ff4c 29.7%,#81ff7e 100%)"></div><div style="background:linear-gradient(90deg,#c2ff3d 0%,#bdff42 13.7%,#b5ff4a 29.2%,#81ff7e 100%)"></div><div style="background:linear-gradient(90deg,#c3ff3c 0%,#bfff40 13.2%,#b6ff49 28.8%,#82ff7d 100%)"></div><div style="background:linear-gradient(90deg,#c4ff3b 0%,#c1ff3e 12.7%,#b8ff47 28.3%,#82ff7d 100%)"></div><div style="background:linear-gradient(90deg,#c6ff39 0%,#c2ff3d 12.7%,#b9ff46 27.8%,#82ff7d 100%)"></div><div style="background:linear-gradient(90deg,#c7ff38 0%,#c4ff3b 12.3%,#bf4 27.8%,#93ff6c 76.4%,#82ff7d 100%)"></div><div style="background:linear-gradient(90deg,#c9ff36 0%,#c5ff3a 12.3%,#bcff43 27.4%,#93ff6c 75.9%,#82ff7d 100%)"></div><div style="background:linear-gradient(90deg,#caff35 0%,#c7ff38 11.8%,#beff41 26.9%,#94ff6b 75.9%,#82ff7d 100%)"></div><div style="background:linear-gradient(90deg,#cf3 0%,#c9ff36 11.8%,#bfff40 26.9%,#94ff6b 75.5%,#82ff7d 100%)"></div><div style="background:linear-gradient(90deg,#cdff32 0%,#caff35 11.8%,#c1ff3e 26.4%,#95ff6a 75.5%,#82ff7d 100%)"></div><div style="background:linear-gradient(90deg,#cfff30 0%,#cf3 11.3%,#c3ff3c 25.9%,#96ff69 75%,#82ff7d 100%)"></div><div style="background:linear-gradient(90deg,#d1ff2e 0%,#ceff31 11.3%,#c4ff3b 25.9%,#96ff69 75%,#82ff7d 100%)"></div><div style="background:linear-gradient(90deg,#d2ff2d 0%,#cfff30 11.3%,#c6ff39 25.5%,#97ff68 74.5%,#82ff7d 100%)"></div><div style="background:linear-gradient(90deg,#d4ff2b 0%,#d1ff2e 11.3%,#c7ff38 25.5%,#97ff68 74.5%,#82ff7d 100%)"></div><div style="background:linear-gradient(90deg,#d6ff29 0%,#d3ff2c 11.3%,#c9ff36 25%,#98ff67 74.1%,#82ff7d 100%)"></div><div style="background:linear-gradient(90deg,#d7ff28 0%,#d4ff2b 11.3%,#cbff34 25%,#98ff67 74.1%,#82ff7d 100%)"></div><div style="background:linear-gradient(90deg,#d9ff26 0%,#d6ff29 11.3%,#cf3 25%,#9f6 73.6%,#82ff7d 100%)"></div><div style="background:linear-gradient(90deg,#dbff24 0%,#d8ff27 10.8%,#ceff31 24.5%,#9aff65 73.6%,#82ff7d 100%)"></div><div style="background:linear-gradient(90deg,#df2 0%,#daff25 10.8%,#d0ff2f 24.5%,#9bff64 73.1%,#82ff7d 100%)"></div><div style="background:linear-gradient(90deg,#dfff20 0%,#dcff23 10.8%,#d2ff2d 24.1%,#9bff64 73.1%,#82ff7d 100%)"></div><div style="background:linear-gradient(90deg,#e1ff1e 0%,#df2 10.8%,#d3ff2c 24.1%,#9cff63 72.6%,#82ff7d 100%)"></div><div style="background:linear-gradient(90deg,#e2ff1d 0%,#dfff20 10.8%,#d5ff2a 23.6%,#9cff63 72.6%,#82ff7d 100%)"></div><div style="background:linear-gradient(90deg,#e4ff1b 0%,#e1ff1e 10.8%,#d7ff28 23.6%,#9dff62 72.2%,#82ff7d 100%)"></div><div style="background:linear-gradient(90deg,#e6ff19 0%,#e3ff1c 10.4%,#d9ff26 23.1%,#9eff61 72.2%,#82ff7d 100%)"></div><div style="background:linear-gradient(90deg,#e8ff17 0%,#e5ff1a 10.4%,#dbff24 23.1%,#9fff60 71.7%,#82ff7d 100%)"></div><div style="background:linear-gradient(90deg,#eaff15 0%,#e7ff18 10.4%,#df2 22.6%,#9fff60 71.7%,#82ff7d 100%)"></div><div style="background:linear-gradient(90deg,#ecff13 0%,#e9ff16 10.4%,#deff21 22.6%,#a0ff5f 71.2%,#82ff7d 100%)"></div><div style="background:linear-gradient(90deg,#ef1 0%,#ebff14 10.4%,#e0ff1f 22.2%,#a1ff5e 71.2%,#82ff7d 100%)"></div><div style="background:linear-gradient(90deg,#f0ff0f 0%,#edff12 10.4%,#e2ff1d 22.2%,#a2ff5d 70.8%,#83ff7c 100%)"></div><div style="background:linear-gradient(90deg,#f2ff0d 0%,#efff10 9.9%,#e4ff1b 21.7%,#a2ff5d 70.8%,#83ff7c 100%)"></div><div style="background:linear-gradient(90deg,#f4ff0b 0%,#f1ff0e 9.9%,#e6ff19 21.7%,#a3ff5c 70.3%,#83ff7c 100%)"></div><div style="background:linear-gradient(90deg,#f6ff09 0%,#f3ff0c 9.9%,#e8ff17 21.2%,#a4ff5b 70.3%,#83ff7c 100%)"></div><div style="background:linear-gradient(90deg,#f8ff07 0%,#f5ff0a 9.9%,#eaff15 21.2%,#a5ff5a 69.8%,#83ff7c 100%)"></div><div style="background:linear-gradient(90deg,#faff05 0%,#f7ff08 9.4%,#ecff13 20.8%,#a5ff5a 69.8%,#83ff7c 100%)"></div><div style="background:linear-gradient(90deg,#fcff03 0%,#f9ff06 9.4%,#ef1 20.8%,#a6ff59 69.3%,#83ff7c 100%)"></div><div style="background:linear-gradient(90deg,#feff01 0%,#fbff04 9.4%,#f0ff0f 20.3%,#a7ff58 69.3%,#83ff7c 100%)"></div><div style="background:linear-gradient(90deg,#fffe00 0%,#fdff02 8.5%,#f2ff0d 19.8%,#a8ff57 68.9%,#83ff7c 100%)"></div><div style="background:linear-gradient(90deg,#fffc00 0%,#ff0 9%,#f4ff0b 19.3%,#a8ff57 68.9%,#83ff7c 100%)"></div><div style="background:linear-gradient(90deg,#fffa00 0%,#ff0 11.3%,#f7ff08 18.4%,#a9ff56 68.9%,#83ff7c 100%)"></div><div style="background:linear-gradient(90deg,#fff800 0%,#fff900 6.1%,#ff0 13.2%,#faff05 17.9%,#e9ff16 29.2%,#af5 68.4%,#96ff69 83.5%,#83ff7c 100%)"></div><div style="background:linear-gradient(90deg,#fff600 0%,#fff800 7.1%,#ff0 14.6%,#fcff03 17%,#ebff14 28.8%,#af5 68.4%,#96ff69 83.5%,#83ff7c 100%)"></div><div style="background:linear-gradient(90deg,#fff400 0%,#fff600 7.5%,#ff0 16.5%,#ef1 28.3%,#abff54 68.4%,#96ff69 83.5%,#83ff7c 100%)"></div><div style="background:linear-gradient(90deg,#fff200 0%,#fff500 8%,#ff0 17.9%,#acff53 67.9%,#96ff69 83.5%,#83ff7c 100%)"></div><div style="background:linear-gradient(90deg,#fff000 0%,#fff300 8.5%,#ff0 18.9%,#adff52 67.5%,#97ff68 83%,#83ff7c 100%)"></div><div style="background:linear-gradient(90deg,#fe0 0%,#fff200 9%,#feff01 20.3%,#aeff51 67%,#97ff68 83%,#83ff7c 100%)"></div><div style="background:linear-gradient(90deg,#ffec00 0%,#fff000 9.4%,#ff0 21.2%,#aeff51 67%,#97ff68 83%,#83ff7c 100%)"></div><div style="background:linear-gradient(90deg,#ffea00 0%,#ffef00 9.4%,#ff0 22.2%,#b0ff4f 66.5%,#98ff67 82.5%,#83ff7c 100%)"></div><div style="background:linear-gradient(90deg,#ffe800 0%,#ffed00 9.9%,#ff0 22.6%,#b0ff4f 66.5%,#98ff67 82.5%,#83ff7c 100%)"></div><div style="background:linear-gradient(90deg,#ffe600 0%,#ffec00 10.4%,#ff0 23.6%,#b0ff4f 66.5%,#9f6 82.5%,#83ff7c 100%)"></div><div style="background:linear-gradient(90deg,#ffe400 0%,#ffea00 10.4%,#ff0 24.5%,#b2ff4d 66%,#9f6 82.5%,#83ff7c 100%)"></div><div style="background:linear-gradient(90deg,#ffe200 0%,#ffe900 10.8%,#ff0 25%,#b2ff4d 66%,#9aff65 82.1%,#83ff7c 100%)"></div><div style="background:linear-gradient(90deg,#ffe000 0%,#ffe200 5.2%,#ffe700 10.8%,#ff0 25.9%,#cf3 51.4%,#b2ff4d 66%,#9aff65 82.1%,#83ff7c 100%)"></div><div style="background:linear-gradient(90deg,#ffde00 0%,#ffe000 5.2%,#ffe500 10.8%,#ff0 26.4%,#cdff32 51.4%,#b3ff4c 66%,#9aff65 82.1%,#83ff7c 100%)"></div><div style="background:linear-gradient(90deg,#ffdc00 0%,#ffde00 5.2%,#ffe400 11.3%,#ff0 26.9%,#ceff31 51.4%,#b3ff4c 66%,#9aff65 82.1%,#83ff7c 100%)"></div><div style="background:linear-gradient(90deg,#ffd900 0%,#ffdc00 5.2%,#ffe200 11.3%,#ff0 27.4%,#ceff31 51.4%,#b3ff4c 66%,#9aff65 82.1%,#83ff7c 100%)"></div><div style="background:linear-gradient(90deg,#ffd700 0%,#ffda00 5.2%,#ffe100 11.3%,#feff01 28.3%,#d0ff2f 50.9%,#b4ff4b 66%,#9bff64 82.1%,#83ff7c 100%)"></div><div style="background:linear-gradient(90deg,#ffd500 0%,#ffd800 5.2%,#ffdf00 11.3%,#ff0 28.8%,#d0ff2f 50.9%,#b4ff4b 66%,#9bff64 82.1%,#83ff7c 100%)"></div><div style="background:linear-gradient(90deg,#ffd300 0%,#ffd600 5.2%,#fd0 11.3%,#ff0 29.2%,#d2ff2d 50.5%,#b4ff4b 66%,#9bff64 82.1%,#83ff7c 100%)"></div><div style="background:linear-gradient(90deg,#ffd100 0%,#ffd400 5.2%,#ffdc00 11.3%,#feff01 29.7%,#d2ff2d 50.5%,#b5ff4a 66%,#9bff64 82.1%,#83ff7c 100%)"></div><div style="background:linear-gradient(90deg,#ffcf00 0%,#ffd200 5.2%,#ffda00 11.3%,#ff0 29.7%,#d2ff2d 50.9%,#b5ff4a 66%,#9bff64 82.1%,#83ff7c 100%)"></div><div style="background:linear-gradient(90deg,#fc0 0%,#ffcf00 4.7%,#ffd800 11.3%,#ff0 30.2%,#d2ff2d 50.9%,#b5ff4a 66%,#9bff64 82.1%,#83ff7c 100%)"></div><div style="background:linear-gradient(90deg,#ffca00 0%,#ffcd00 4.7%,#ffd600 11.3%,#ff0 30.7%,#d3ff2c 50.5%,#b5ff4a 66%,#9bff64 82.1%,#83ff7c 100%)"></div><div style="background:linear-gradient(90deg,#ffc800 0%,#ffcb00 4.7%,#ffd400 10.8%,#ff0 31.1%,#d4ff2b 50.5%,#b6ff49 66%,#9cff63 82.1%,#84ff7b 100%)"></div><div style="background:linear-gradient(90deg,#ffc500 0%,#ffc900 4.7%,#ffd200 10.8%,#feff01 31.6%,#d4ff2b 50.5%,#b6ff49 66%,#9cff63 82.1%,#84ff7b 100%)"></div><div style="background:linear-gradient(90deg,#ffc300 0%,#ffc600 4.2%,#ffd000 10.4%,#ff0 31.6%,#d5ff2a 50.5%,#b6ff49 66%,#9cff63 82.1%,#84ff7b 100%)"></div><div style="background:linear-gradient(90deg,#ffc000 0%,#ffc300 4.2%,#ffce00 10.4%,#ff0 32.1%,#d5ff2a 50.5%,#b6ff49 66%,#9cff63 82.1%,#84ff7b 100%)"></div><div style="background:linear-gradient(90deg,#ffbd00 0%,#ffc000 3.8%,#ffca00 9.4%,#feff01 32.5%,#d5ff2a 50.5%,#b7ff48 66%,#9cff63 82.1%,#84ff7b 100%)"></div><div style="background:linear-gradient(90deg,#fb0 0%,#ffbe00 3.8%,#ffc800 9.4%,#ff0 32.5%,#d6ff29 50.5%,#b7ff48 66%,#9cff63 82.1%,#84ff7b 100%)"></div><div style="background:linear-gradient(90deg,#ffb800 0%,#ffba00 3.3%,#ffc400 8.5%,#ff0 33%,#d6ff29 50.5%,#b7ff48 66%,#9cff63 82.1%,#84ff7b 100%)"></div><div style="background:linear-gradient(90deg,#ffb500 0%,#ffb800 3.3%,#ffc100 8%,#ff0 33%,#d7ff28 50.5%,#b7ff48 66%,#9cff63 82.1%,#84ff7b 100%)"></div><div style="background:linear-gradient(90deg,#ffb200 0%,#ffb400 2.8%,#ffbc00 7.1%,#ff0 33.5%,#d7ff28 50.5%,#b7ff48 66%,#9cff63 82.1%,#84ff7b 100%)"></div><div style="background:linear-gradient(90deg,#ffae00 0%,#ffb100 2.8%,#ffb900 6.6%,#ff0 33.5%,#d7ff28 50.5%,#b8ff47 66%,#9dff62 82.1%,#84ff7b 100%)"></div><div style="background:linear-gradient(90deg,#ffab00 0%,#ffae00 2.8%,#ffb500 6.1%,#ff0 34%,#d7ff28 50.5%,#b8ff47 66%,#9dff62 82.1%,#84ff7b 100%)"></div><div style="background:linear-gradient(90deg,#ffa800 0%,#fa0 2.4%,#ffb100 5.7%,#ff0 34%,#d8ff27 50.5%,#b8ff47 66%,#9dff62 82.1%,#84ff7b 100%)"></div><div style="background:linear-gradient(90deg,#ffa500 0%,#ffa700 2.4%,#ffad00 5.2%,#ffdf00 22.2%,#feff01 34.4%,#d8ff27 50.5%,#b8ff47 66%,#9dff62 82.1%,#84ff7b 100%)"></div><div style="background:linear-gradient(90deg,#ffa100 0%,#ffa300 1.9%,#ffa900 4.7%,#ffda00 20.8%,#ff0 34.4%,#d8ff27 50.5%,#b8ff47 66%,#9dff62 82.1%,#84ff7b 100%)"></div><div style="background:linear-gradient(90deg,#ff9e00 0%,#ffa500 4.2%,#ffd700 20.3%,#ff0 34.4%,#d7ff28 50.9%,#b8ff47 66%,#9dff62 82.1%,#84ff7b 100%)"></div><div style="background:linear-gradient(90deg,#ff9a00 0%,#ffa100 4.2%,#ffd600 20.3%,#ff0 34.9%,#d9ff26 50.5%,#b9ff46 66%,#9dff62 82.1%,#84ff7b 100%)"></div><div style="background:linear-gradient(90deg,#ff9700 0%,#ff9800 1.9%,#ff9e00 4.2%,#ffd400 19.8%,#ff0 34.9%,#d9ff26 50.5%,#b9ff46 66%,#9dff62 82.1%,#84ff7b 100%)"></div><div style="background:linear-gradient(90deg,#ff9300 0%,#ff9a00 3.8%,#ffd300 19.8%,#ff0 34.9%,#d8ff27 50.9%,#b9ff46 66%,#9dff62 82.1%,#84ff7b 100%)"></div><div style="background:linear-gradient(90deg,#ff9000 0%,#ff9600 3.8%,#ffd200 19.8%,#ff0 35.4%,#d9ff26 50.5%,#b9ff46 66%,#9dff62 82.1%,#84ff7b 100%)"></div><div style="background:linear-gradient(90deg,#ff8c00 0%,#ff9300 3.8%,#ffcf00 19.3%,#ff0 35.4%,#d9ff26 50.5%,#baff45 65.6%,#9dff62 82.1%,#84ff7b 100%)"></div><div style="background:linear-gradient(90deg,#f80 0%,#ff8e00 3.3%,#ffce00 19.3%,#ff0 35.4%,#d9ff26 50.9%,#b9ff46 66%,#9dff62 82.1%,#84ff7b 100%)"></div><div style="background:linear-gradient(90deg,#ff8500 0%,#ff8700 1.9%,#ff8d00 3.8%,#ffb900 14.2%,#ffd500 21.7%,#feff01 35.8%,#daff25 50.5%,#b9ff46 66%,#9dff62 82.1%,#84ff7b 100%)"></div><div style="background:linear-gradient(90deg,#ff8100 0%,#ff8300 1.9%,#ff8900 3.8%,#ffb700 14.2%,#ffd200 21.2%,#ff0 35.8%,#daff25 50.5%,#baff45 65.6%,#9dff62 82.1%,#84ff7b 100%)"></div><div style="background:linear-gradient(90deg,#ff7e00 0%,#ff8000 1.9%,#ff8600 3.8%,#ffb400 13.7%,#ffd000 20.8%,#ff0 35.8%,#daff25 50.5%,#baff45 65.6%,#9dff62 82.1%,#84ff7b 100%)"></div><div style="background:linear-gradient(90deg,#ff7a00 0%,#ff7c00 1.9%,#ff8300 3.8%,#ffb200 13.7%,#ffcf00 20.8%,#ffe700 27.8%,#fffe00 35.8%,#d9ff26 50.9%,#b9ff46 66%,#9eff61 82.1%,#84ff7b 100%)"></div><div style="background:linear-gradient(90deg,#ff7600 0%,#ff7900 1.9%,#ff7f00 3.8%,#ffb000 13.7%,#ffce00 20.8%,#ffe800 28.3%,#ff0 36.3%,#dbff24 50.5%,#baff45 65.6%,#9eff61 82.1%,#84ff7b 100%)"></div><div style="background:linear-gradient(90deg,#ff7200 0%,#ff7500 1.9%,#ff7c00 3.8%,#ffae00 13.7%,#ffcb00 20.3%,#ffe600 27.8%,#ff0 36.3%,#dbff24 50.5%,#bf4 65.6%,#9eff61 82.1%,#84ff7b 100%)"></div><div style="background:linear-gradient(90deg,#ff6f00 0%,#ff7100 1.9%,#ff7800 3.8%,#fa0 13.2%,#ffca00 20.3%,#ffe300 27.4%,#ff0 36.3%,#dbff24 50.5%,#bf4 65.6%,#9eff61 82.1%,#84ff7b 100%)"></div><div style="background:linear-gradient(90deg,#ff6b00 0%,#ff6e00 1.9%,#ff7500 3.8%,#ffa800 13.2%,#ffc900 20.3%,#ffe300 27.4%,#fffe00 36.3%,#daff25 50.9%,#baff45 66%,#9eff61 82.1%,#84ff7b 100%)"></div><div style="background:linear-gradient(90deg,#ff6700 0%,#ff6a00 1.9%,#ff7100 3.8%,#ffa700 13.2%,#ffc800 20.3%,#ffe500 28.3%,#ff0 36.8%,#dbff24 50.5%,#bf4 65.6%,#9eff61 82.1%,#84ff7b 100%)"></div><div style="background:linear-gradient(90deg,#ff6300 0%,#f60 1.9%,#ff6e00 3.8%,#ffa500 13.2%,#ffc700 20.3%,#ffe300 27.8%,#ff0 36.8%,#dbff24 50.5%,#bf4 65.6%,#9eff61 82.1%,#84ff7b 100%)"></div><div style="background:linear-gradient(90deg,#ff5f00 0%,#ff6200 1.9%,#ff6a00 3.8%,#ffa300 13.2%,#ffc500 20.3%,#ffe200 27.8%,#ff0 36.8%,#dbff24 50.5%,#bf4 65.6%,#9eff61 82.1%,#84ff7b 100%)"></div><div style="background:linear-gradient(90deg,#ff5b00 0%,#ff5e00 1.9%,#ff6700 3.8%,#ffa100 13.2%,#ffc400 20.3%,#ffe200 27.8%,#fffe00 36.8%,#daff25 50.9%,#bf4 65.6%,#9eff61 82.1%,#84ff7b 100%)"></div><div style="background:linear-gradient(90deg,#ff5700 0%,#ff5a00 1.9%,#ff6300 3.8%,#ff9f00 13.2%,#ffc300 20.3%,#ffe300 28.3%,#ff0 37.3%,#dcff23 50.5%,#bf4 65.6%,#9eff61 82.1%,#84ff7b 100%)"></div><div style="background:linear-gradient(90deg,#ff5300 0%,#ff5700 1.9%,#ff5f00 3.8%,#ff9d00 13.2%,#ffc200 20.3%,#ffe100 27.8%,#ff0 37.3%,#dcff23 50.5%,#bf4 65.6%,#9eff61 82.1%,#84ff7b 100%)"></div><div style="background:linear-gradient(90deg,#ff4f00 0%,#ff5300 1.9%,#ff5b00 3.8%,#ff9b00 13.2%,#ffc100 20.3%,#ffe000 27.8%,#ff0 37.3%,#dbff24 50.9%,#bf4 65.6%,#9eff61 82.1%,#84ff7b 100%)"></div><div style="background:linear-gradient(90deg,#ff4b00 0%,#ff4f00 1.9%,#ff5800 3.8%,#f90 13.2%,#ffbd00 19.8%,#ffdf00 27.8%,#fffe00 37.3%,#dbff24 50.9%,#bf4 65.6%,#9eff61 82.1%,#84ff7b 100%)"></div><div style="background:linear-gradient(90deg,#ff4700 0%,#ff4b00 1.9%,#ff5400 3.8%,#ff9700 13.2%,#ffbe00 20.3%,#ffe000 28.3%,#ff0 37.7%,#dbff24 50.9%,#bf4 65.6%,#9fff60 81.6%,#84ff7b 100%)"></div><div style="background:linear-gradient(90deg,#ff4300 0%,#ff4700 1.9%,#ff5000 3.8%,#ff9500 13.2%,#ffbd00 20.3%,#ffe000 28.3%,#ff0 37.7%,#dbff24 50.9%,#bcff43 65.6%,#9fff60 81.6%,#84ff7b 100%)"></div><div style="background:linear-gradient(90deg,#ff3f00 0%,#ff4300 1.9%,#ff4c00 3.8%,#ff9300 13.2%,#ffba00 19.8%,#fd0 27.8%,#ff0 37.7%,#dcff23 50.9%,#bcff43 65.6%,#9fff60 81.6%,#84ff7b 100%)"></div><div style="background:linear-gradient(90deg,#ff3b00 0%,#ff3f00 1.9%,#ff4800 3.8%,#ff9000 13.2%,#ffb800 19.8%,#ffdc00 27.8%,#fffe00 37.7%,#dbff24 51.4%,#bcff43 65.6%,#9fff60 81.6%,#84ff7b 100%)"></div><div style="background:linear-gradient(90deg,#ff3700 0%,#ff3a00 1.9%,#f40 3.8%,#ff8e00 13.2%,#ffa400 16.5%,#ffb900 20.3%,#ffde00 28.3%,#ff0 38.2%,#dcff23 50.9%,#bcff43 65.6%,#9fff60 81.6%,#84ff7b 100%)"></div><div style="background:linear-gradient(90deg,#f30 0%,#ff3600 1.9%,#ff4100 3.8%,#ff8c00 13.2%,#ffa200 16.5%,#ffb800 20.3%,#fd0 28.3%,#ff0 38.2%,#dcff23 50.9%,#bcff43 65.6%,#9fff60 81.6%,#84ff7b 100%)"></div><div style="background:linear-gradient(90deg,#ff2e00 0%,#ff3200 1.9%,#ff3d00 3.8%,#ff8a00 13.2%,#ffa100 16.5%,#ffb700 20.3%,#ffdc00 28.3%,#ff0 38.2%,#dcff23 50.9%,#bcff43 65.6%,#9fff60 81.6%,#84ff7b 100%)"></div><div style="background:linear-gradient(90deg,#ff2a00 0%,#ff2e00 1.9%,#ff3900 3.8%,#f80 13.2%,#ff9f00 16.5%,#ffb300 19.8%,#ffd900 27.8%,#fffe00 38.2%,#dbff24 51.4%,#bcff43 65.6%,#9fff60 81.6%,#84ff7b 100%)"></div><div style="background:linear-gradient(90deg,#ff2600 0%,#ff2a00 1.9%,#ff3500 3.8%,#ff8600 13.2%,#ff9d00 16.5%,#ffb400 20.3%,#ffca00 24.5%,#fd0 28.8%,#ff0 38.7%,#df2 50.9%,#bcff43 65.6%,#9fff60 81.6%,#84ff7b 100%)"></div><div style="background:linear-gradient(90deg,#ff2100 0%,#ff2600 1.9%,#ff3100 3.8%,#ff8300 13.2%,#ff9c00 16.5%,#ffb300 20.3%,#ffda00 28.3%,#ff0 38.7%,#df2 50.9%,#bcff43 65.6%,#9fff60 81.6%,#84ff7b 100%)"></div><div style="background:linear-gradient(90deg,#ff1d00 0%,#ff2100 1.9%,#ff2d00 3.8%,#ff8100 13.2%,#ff9a00 16.5%,#ffb200 20.3%,#ffd900 28.3%,#ff0 38.7%,#dcff23 51.4%,#bcff43 65.6%,#9fff60 81.6%,#84ff7b 100%)"></div><div style="background:linear-gradient(90deg,#ff1900 0%,#ff1d00 1.9%,#ff2800 3.8%,#ff7f00 13.2%,#ff9800 16.5%,#ffb000 20.3%,#ffc500 24.1%,#ffd800 28.3%,#fffe00 38.7%,#dbff24 51.9%,#bcff43 65.6%,#9fff60 81.6%,#84ff7b 100%)"></div><div style="background:linear-gradient(90deg,#ff1400 0%,#ff1900 1.9%,#ff2400 3.8%,#ff7d00 13.2%,#ff9600 16.5%,#ffaf00 20.3%,#ffc600 24.5%,#ffd900 28.8%,#ff0 39.2%,#dcff23 51.4%,#bcff43 65.6%,#9fff60 81.6%,#84ff7b 100%)"></div><div style="background:linear-gradient(90deg,#ff1000 0%,#ff1400 1.9%,#ff2000 3.8%,#ff7a00 13.2%,#ff9400 16.5%,#ffae00 20.3%,#ffc500 24.5%,#ffd900 28.8%,#ff0 39.2%,#dcff23 51.4%,#bdff42 65.6%,#9fff60 81.6%,#84ff7b 100%)"></div><div style="background:linear-gradient(90deg,#ff0b00 0%,#ff1000 1.9%,#ff1c00 3.8%,#ff7800 13.2%,#ff9300 16.5%,#ffac00 20.3%,#ffc400 24.5%,#ffd800 28.8%,#ff0 39.2%,#dbff24 51.9%,#bdff42 65.6%,#9fff60 81.6%,#84ff7b 100%)"></div><div style="background:linear-gradient(90deg,#ff0700 0%,#ff0b00 1.9%,#ff1800 3.8%,#ff7600 13.2%,#ff9100 16.5%,#ffab00 20.3%,#ffc300 24.5%,#ffd700 28.8%,#fffe00 39.2%,#daff25 52.4%,#bcff43 66%,#9fff60 82.1%,#84ff7b 100%)"></div><div style="background:linear-gradient(90deg,#ff0200 0%,#ff0700 1.9%,#ff1400 3.8%,#ff7400 13.2%,#ff8f00 16.5%,#ffa900 20.3%,#ffc200 24.5%,#ffd600 28.8%,#ffeb00 34%,#ff0 39.6%,#df2 51.4%,#bdff42 65.6%,#9fff60 81.6%,#84ff7b 100%)"></div><div style="background:linear-gradient(90deg,#fd0000 0%,#ff0100 1.4%,#ff1000 3.8%,#ff7100 13.2%,#ff8d00 16.5%,#ffa800 20.3%,#ffc100 24.5%,#ffd600 28.8%,#ffeb00 34%,#ff0 39.6%,#dcff23 51.9%,#bdff42 65.6%,#9fff60 81.6%,#84ff7b 100%)"></div><div style="background:linear-gradient(90deg,#f90000 0%,#ff0100 2.4%,#ff0800 3.3%,#ff1900 5.2%,#ff5300 10.4%,#ff6f00 13.2%,#ff8f00 17%,#fa0 20.8%,#ffc200 25%,#ffd700 29.2%,#fffe00 39.6%,#dbff24 52.4%,#bcff43 66%,#9fff60 82.1%,#84ff7b 100%)"></div><div style="background:linear-gradient(90deg,#f40000 0%,#f70000 1.4%,#f00 2.8%,#ff0400 3.3%,#ff1600 5.2%,#ff5000 10.4%,#ff6d00 13.2%,#ff8d00 17%,#ffa800 20.8%,#ffc100 25%,#ffd600 29.2%,#fffe00 39.6%,#dbff24 52.4%,#bcff43 66%,#9fff60 82.1%,#84ff7b 100%)"></div><div style="background:linear-gradient(90deg,#f00000 0%,#f30000 1.4%,#f00 3.3%,#ff0400 3.8%,#ff1700 5.7%,#ff5300 10.8%,#ff6f00 13.7%,#ff8f00 17.5%,#fa0 21.2%,#ffc300 25.5%,#ffd700 29.7%,#ff0 40.1%,#df2 51.9%,#bdff42 65.6%,#a0ff5f 81.6%,#84ff7b 100%)"></div><div style="background:linear-gradient(90deg,#ec0000 0%,#f10000 1.9%,#f00 3.8%,#ff1300 5.7%,#ff5000 10.8%,#ff6d00 13.7%,#ff8e00 17.5%,#ffac00 21.7%,#ffc200 25.5%,#ffd700 29.7%,#ff0 40.1%,#dcff23 52.4%,#bcff43 66%,#9fff60 82.1%,#84ff7b 100%)"></div><div style="background:linear-gradient(90deg,#e70000 0%,#ec0000 1.9%,#f00 4.2%,#ff4800 10.4%,#ff6b00 13.7%,#ff9000 17.9%,#ffae00 22.2%,#ffc300 25.9%,#ffd800 30.2%,#fffe00 40.1%,#dcff23 52.4%,#bcff43 66%,#9fff60 82.1%,#84ff7b 100%)"></div><div style="background:linear-gradient(90deg,#e30000 0%,#e80000 1.9%,#ff0200 4.7%,#ff4600 10.4%,#ff6900 13.7%,#ff8e00 17.9%,#ffac00 22.2%,#ffc200 25.9%,#ffd700 30.2%,#fffe00 40.1%,#dbff24 52.8%,#bdff42 66%,#9fff60 82.1%,#84ff7b 100%)"></div><div style="background:linear-gradient(90deg,#df0000 0%,#e00000 .9%,#e70000 2.4%,#fd0000 4.7%,#ff0300 5.2%,#ff4300 10.4%,#ff6c00 14.2%,#ff9100 18.4%,#ffae00 22.6%,#ffc400 26.4%,#ffd900 30.7%,#ff0 40.6%,#dcff23 52.4%,#bdff42 66%,#9fff60 82.1%,#84ff7b 100%)"></div><div style="background:linear-gradient(90deg,#db0000 0%,#dc0000 .9%,#e30000 2.4%,#ef0000 3.8%,#f00 5.2%,#ff4000 10.4%,#ff6000 13.2%,#ff7f00 16.5%,#ff9d00 20.3%,#ffb900 24.5%,#ffd100 29.2%,#ffe800 34.4%,#ff0 40.6%,#dcff23 52.4%,#bdff42 66%,#9fff60 82.1%,#84ff7b 100%)"></div><div style="background:linear-gradient(90deg,#d60000 0%,#d80000 .9%,#df0000 2.4%,#eb0000 3.8%,#fb0000 5.2%,#ff0200 5.7%,#ff3e00 10.4%,#ff5e00 13.2%,#ff7e00 16.5%,#ff9c00 20.3%,#ffb700 24.5%,#ffd100 29.2%,#ffe800 34.4%,#fffe00 40.6%,#dbff24 52.8%,#bdff42 66%,#9fff60 82.1%,#84ff7b 100%)"></div><div style="background:linear-gradient(90deg,#d20000 0%,#d40000 .9%,#db0000 2.4%,#e70000 3.8%,#fd0000 5.7%,#ff0400 6.1%,#ff3b00 10.4%,#ff5c00 13.2%,#ff7c00 16.5%,#ff9b00 20.3%,#ffb600 24.5%,#ffd000 29.2%,#ffe700 34.4%,#fffe00 40.6%,#daff25 53.3%,#bcff43 66.5%,#9fff60 82.1%,#84ff7b 100%)"></div><div style="background:linear-gradient(90deg,#ce0000 0%,#d10000 1.4%,#db0000 2.8%,#ff0100 6.1%,#ff3900 10.4%,#ff5f00 13.7%,#ff7f00 17%,#ff9d00 20.8%,#ffb800 25%,#ffd100 29.7%,#ffe800 34.9%,#ff0 41%,#df2 52.4%,#bdff42 66%,#a0ff5f 81.6%,#84ff7b 100%)"></div><div style="background:linear-gradient(90deg,#ca0000 0%,#cd0000 1.4%,#d70000 2.8%,#e50000 4.2%,#fd0000 6.1%,#ff0400 6.6%,#ff3600 10.4%,#ff5d00 13.7%,#ff7d00 17%,#ff9b00 20.8%,#ffb700 25%,#ffd100 29.7%,#ffe800 34.9%,#ff0 41%,#dcff23 52.8%,#bdff42 66%,#a0ff5f 81.6%,#84ff7b 100%)"></div><div style="background:linear-gradient(90deg,#c60000 0%,#c90000 1.4%,#d30000 2.8%,#e10000 4.2%,#ff0100 6.6%,#ff3400 10.4%,#ff5b00 13.7%,#ff7c00 17%,#ff9a00 20.8%,#ffb600 25%,#ffd000 29.7%,#ffe700 34.9%,#fffe00 41%,#dbff24 53.3%,#bcff43 66.5%,#9fff60 82.1%,#84ff7b 100%)"></div><div style="background:linear-gradient(90deg,#c20000 0%,#c50000 1.4%,#cf0000 2.8%,#de0000 4.2%,#fd0000 6.6%,#ff0400 7.1%,#ff3800 10.8%,#ff5900 13.7%,#ff7a00 17%,#f90 20.8%,#ffb500 25%,#ffcf00 29.7%,#ffe700 34.9%,#fffe00 41%,#dbff24 53.3%,#bcff43 66.5%,#9fff60 82.1%,#84ff7b 100%)"></div><div style="background:linear-gradient(90deg,#be0000 0%,#c10000 1.4%,#cb0000 2.8%,#da0000 4.2%,#ff0200 7.1%,#ff3500 10.8%,#ff5c00 14.2%,#ff7d00 17.5%,#ff9b00 21.2%,#ffb700 25.5%,#ffd100 30.2%,#ffea00 35.8%,#ff0 41.5%,#df2 52.8%,#beff41 66%,#a0ff5f 81.6%,#84ff7b 100%)"></div><div style="background:linear-gradient(90deg,#ba0000 0%,#be0000 1.4%,#c80000 2.8%,#d00 4.7%,#fe0000 7.1%,#ff0500 7.5%,#f30 10.8%,#ff5b00 14.2%,#ff7b00 17.5%,#ff9a00 21.2%,#ffb700 25.5%,#ffd000 30.2%,#ffe800 35.4%,#ff0 41.5%,#df2 52.8%,#bdff42 66.5%,#9fff60 82.1%,#84ff7b 100%)"></div><div style="background:linear-gradient(90deg,#b60000 0%,#ba0000 1.4%,#c40000 2.8%,#da0000 4.7%,#fb0000 7.1%,#ff0300 7.5%,#ff3100 10.8%,#ff5900 14.2%,#ff7a00 17.5%,#f90 21.2%,#ffb600 25.5%,#ffd000 30.2%,#ffe700 35.4%,#ff0 41.5%,#dcff23 53.3%,#bdff42 66.5%,#9fff60 82.1%,#84ff7b 100%)"></div><div style="background:linear-gradient(90deg,#b20000 0%,#b60000 1.4%,#c50000 3.3%,#d00 5.2%,#f00 7.5%,#ff2f00 10.8%,#ff5700 14.2%,#ff7900 17.5%,#ff9800 21.2%,#ffb500 25.5%,#ffcf00 30.2%,#ffe700 35.4%,#fffe00 41.5%,#dbff24 53.8%,#bdff42 66.5%,#9fff60 82.1%,#84ff7b 100%)"></div><div style="background:linear-gradient(90deg,#af0000 0%,#b20000 1.4%,#bd0000 2.8%,#d30000 4.7%,#fc0000 7.5%,#ff0500 8%,#f30 11.3%,#ff5b00 14.6%,#ff7c00 17.9%,#ff9b00 21.7%,#ffb700 25.9%,#ffd100 30.7%,#ffe800 35.8%,#fffe00 41.5%,#dbff24 53.8%,#bdff42 66.5%,#a0ff5f 82.1%,#84ff7b 100%)"></div><div style="background:linear-gradient(90deg,#ab0000 0%,#af0000 1.4%,#bf0000 3.3%,#d70000 5.2%,#fa0000 7.5%,#ff0200 8%,#ff3100 11.3%,#ff5900 14.6%,#ff7b00 17.9%,#ff9a00 21.7%,#ffb600 25.9%,#ffd000 30.7%,#ffea00 36.3%,#ff0 42%,#dcff23 53.3%,#bdff42 66.5%,#a0ff5f 82.1%,#84ff7b 100%)"></div><div style="background:linear-gradient(90deg,#a80000 0%,#ab0000 1.4%,#b00 3.3%,#d40000 5.2%,#f00 8%,#ff3000 11.3%,#ff5800 14.6%,#ff7a00 17.9%,#f90 21.7%,#ffb600 25.9%,#ffd000 30.7%,#ffe700 35.8%,#ff0 42%,#df2 53.3%,#bdff42 66.5%,#a0ff5f 82.1%,#84ff7b 100%)"></div><div style="background:linear-gradient(90deg,#a40000 0%,#a80000 1.4%,#b30000 2.8%,#cb0000 4.7%,#fd0000 8%,#ff0500 8.5%,#ff3400 11.8%,#ff5c00 15.1%,#ff7d00 18.4%,#ff9c00 22.2%,#ffb800 26.4%,#ffd100 31.1%,#ffe900 36.3%,#ff0 42%,#df2 53.3%,#bdff42 66.5%,#a0ff5f 82.1%,#84ff7b 100%)"></div><div style="background:linear-gradient(90deg,#a10000 0%,#a50000 1.4%,#b60000 3.3%,#cf0000 5.2%,#fb0000 8%,#ff0300 8.5%,#f30 11.8%,#ff5b00 15.1%,#ff7c00 18.4%,#ff9b00 22.2%,#ffb700 26.4%,#ffd100 31.1%,#ffe900 36.3%,#fffe00 42%,#dcff23 53.8%,#bcff43 67%,#a0ff5f 82.1%,#84ff7b 100%)"></div><div style="background:linear-gradient(90deg,#9e0000 0%,#a20000 1.4%,#b30000 3.3%,#c60000 4.7%,#ff0200 8.5%,#ff3200 11.8%,#f50 14.6%,#f70 17.9%,#ff9600 21.7%,#ffb400 25.9%,#ffce00 30.7%,#ffe600 35.8%,#fffe00 42%,#dbff24 54.2%,#bcff43 67%,#a0ff5f 82.1%,#84ff7b 100%)"></div><div style="background:linear-gradient(90deg,#9b0000 0%,#9f0000 1.4%,#b00000 3.3%,#cb0000 5.2%,#f00 8.5%,#ff3000 11.8%,#ff5900 15.1%,#ff7a00 18.4%,#f90 22.2%,#ffb600 26.4%,#ffd000 31.1%,#ffea00 36.8%,#ff0 42.5%,#df2 53.3%,#bdff42 66.5%,#a0ff5f 82.1%,#84ff7b 100%)"></div><div style="background:linear-gradient(90deg,#980000 0%,#9c0000 1.4%,#a80000 2.8%,#c10000 4.7%,#fd0000 8.5%,#ff0600 9%,#ff2f00 11.8%,#ff5800 15.1%,#ff7900 18.4%,#f90 22.2%,#ffb500 26.4%,#ffd000 31.1%,#ffea00 36.8%,#ff0 42.5%,#df2 53.3%,#beff41 66.5%,#a0ff5f 82.1%,#84ff7b 100%)"></div><div style="background:linear-gradient(90deg,#950000 0%,#900 1.4%,#ab0000 3.3%,#c60000 5.2%,#fc0000 8.5%,#ff0400 9%,#ff2e00 11.8%,#ff5700 15.1%,#ff7800 18.4%,#ff9800 22.2%,#ffb500 26.4%,#ffcf00 31.1%,#ffe700 36.3%,#ff0 42.5%,#df2 53.3%,#beff41 66.5%,#a0ff5f 82.1%,#84ff7b 100%)"></div><div style="background:linear-gradient(90deg,#920000 0%,#970000 1.4%,#a90000 3.3%,#c40000 5.2%,#fa0000 8.5%,#ff0300 9%,#ff2d00 11.8%,#ff5600 15.1%,#ff7800 18.4%,#ff9700 22.2%,#ffb400 26.4%,#ffcf00 31.1%,#ffe700 36.3%,#ff0 42.5%,#dcff23 53.8%,#bdff42 67%,#a0ff5f 82.1%,#84ff7b 100%)"></div><div style="background:linear-gradient(90deg,#900000 0%,#940000 1.4%,#a70000 3.3%,#b00 4.7%,#f90000 8.5%,#ff0200 9%,#ff2c00 11.8%,#f50 15.1%,#f70 18.4%,#ff9700 22.2%,#ffb400 26.4%,#ffce00 31.1%,#ffe700 36.3%,#fffe00 42.5%,#dbff24 54.2%,#bdff42 67%,#a0ff5f 82.1%,#84ff7b 100%)"></div><div style="background:linear-gradient(90deg,#8d0000 0%,#920000 1.4%,#a50000 3.3%,#b90000 4.7%,#ff0100 9%,#ff2b00 11.8%,#ff5400 15.1%,#ff7600 18.4%,#ff9600 22.2%,#ffb400 26.4%,#ffce00 31.1%,#ffe600 36.3%,#fffe00 42.5%,#dbff24 54.2%,#bdff42 67%,#a0ff5f 82.1%,#84ff7b 100%)"></div><div style="background:linear-gradient(90deg,#8b0000 0%,#900000 1.4%,#a30000 3.3%,#bf0000 5.2%,#f00 9%,#ff3100 12.3%,#ff5400 15.1%,#ff7600 18.4%,#ff9600 22.2%,#ffb300 26.4%,#ffce00 31.1%,#ffe600 36.3%,#fffe00 42.5%,#dbff24 54.2%,#bdff42 67%,#a0ff5f 82.1%,#84ff7b 100%)"></div><div style="background:linear-gradient(90deg,#890000 0%,#8e0000 1.4%,#a10000 3.3%,#b60000 4.7%,#fe0000 9%,#ff3000 12.3%,#ff5300 15.1%,#ff7500 18.4%,#ff9500 22.2%,#ffb300 26.4%,#ffcd00 31.1%,#ffe600 36.3%,#fffe00 42.5%,#dcff23 54.2%,#bdff42 67%,#a0ff5f 82.1%,#84ff7b 100%)"></div><div style="background:linear-gradient(90deg,#870000 0%,#8c0000 1.4%,#9a0000 2.8%,#b50000 4.7%,#fd0000 9%,#ff0500 9.4%,#ff2f00 12.3%,#ff5800 15.6%,#ff7900 18.9%,#f90 22.6%,#ffb500 26.9%,#ffd000 31.6%,#ffea00 37.3%,#ff0 42.9%,#df2 53.8%,#bdff42 67%,#a0ff5f 82.1%,#84ff7b 100%)"></div><div style="background:linear-gradient(90deg,#850000 0%,#8a0000 1.4%,#980000 2.8%,#b40000 4.7%,#fc0000 9%,#ff0500 9.4%,#ff2f00 12.3%,#ff5800 15.6%,#ff7900 18.9%,#ff9800 22.6%,#ffb500 26.9%,#ffcf00 31.6%,#ffe900 37.3%,#ff0 42.9%,#df2 53.8%,#bdff42 67%,#a0ff5f 82.1%,#84ff7b 100%)"></div><div style="background:linear-gradient(90deg,#840000 0%,#890000 1.4%,#970000 2.8%,#b30000 4.7%,#fc0000 9%,#ff0400 9.4%,#ff2e00 12.3%,#ff5700 15.6%,#ff7900 18.9%,#ff9800 22.6%,#ffb500 26.9%,#ffcf00 31.6%,#ffe700 36.8%,#ff0 42.9%,#df2 53.8%,#bdff42 67%,#a0ff5f 82.1%,#84ff7b 100%)"></div><div style="background:linear-gradient(90deg,#820000 0%,#800 1.4%,#960000 2.8%,#b20000 4.7%,#fb0000 9%,#ff0400 9.4%,#ff2e00 12.3%,#ff5700 15.6%,#ff7800 18.9%,#ff9800 22.6%,#ffb500 26.9%,#ffcf00 31.6%,#ffe700 36.8%,#ff0 42.9%,#df2 53.8%,#bdff42 67%,#a0ff5f 82.1%,#84ff7b 100%)"></div><div style="background:linear-gradient(90deg,#810000 0%,#870000 1.4%,#950000 2.8%,#b10000 4.7%,#fb0000 9%,#ff0300 9.4%,#ff2e00 12.3%,#ff5700 15.6%,#ff7800 18.9%,#ff9700 22.6%,#ffb400 26.9%,#ffcf00 31.6%,#ffe700 36.8%,#ff0 42.9%,#dcff23 54.2%,#bdff42 67%,#a0ff5f 82.1%,#84ff7b 100%)"></div><div style="background:linear-gradient(90deg,#800000 0%,#860000 1.4%,#940000 2.8%,#b10000 4.7%,#fa0000 9%,#ff0300 9.4%,#ff2d00 12.3%,#ff5600 15.6%,#ff7800 18.9%,#ff9700 22.6%,#ffb400 26.9%,#ffcf00 31.6%,#ffe700 36.8%,#ff0 42.9%,#dcff23 54.2%,#bdff42 67%,#a0ff5f 82.1%,#84ff7b 100%)"></div><div style="background:linear-gradient(90deg,#800000 0%,#850000 1.4%,#940000 2.8%,#b00000 4.7%,#fa0000 9%,#ff0300 9.4%,#ff2d00 12.3%,#ff5600 15.6%,#ff7800 18.9%,#ff9700 22.6%,#ffb400 26.9%,#ffcf00 31.6%,#ffe700 36.8%,#ff0 42.9%,#dcff23 54.2%,#bdff42 67%,#a0ff5f 82.1%,#84ff7b 100%)"></div><div style="background:linear-gradient(90deg,#800000 0%,#850000 1.4%,#930000 2.8%,#b00000 4.7%,#fa0000 9%,#ff0300 9.4%,#ff2d00 12.3%,#ff5600 15.6%,#ff7800 18.9%,#ff9700 22.6%,#ffb400 26.9%,#ffce00 31.6%,#ffe700 36.8%,#ff0 42.9%,#dcff23 54.2%,#bdff42 67%,#a0ff5f 82.1%,#84ff7b 100%)"></div><div style="background:linear-gradient(90deg,#800000 0%,#850000 1.4%,#930000 2.8%,#b00000 4.7%,#fb0000 9%,#ff0300 9.4%,#ff2e00 12.3%,#ff5600 15.6%,#ff7800 18.9%,#ff9700 22.6%,#ffb400 26.9%,#ffce00 31.6%,#ffe700 36.8%,#fffe00 42.9%,#dbff24 54.7%,#bdff42 67.5%,#a0ff5f 82.5%,#84ff7b 100%)"></div><div style="background:linear-gradient(90deg,#800000 0%,#850000 1.4%,#940000 2.8%,#b10000 4.7%,#fb0000 9%,#ff0400 9.4%,#ff2e00 12.3%,#ff5700 15.6%,#ff7800 18.9%,#ff9700 22.6%,#ffb400 26.9%,#ffce00 31.6%,#ffe600 36.8%,#fffe00 42.9%,#dbff24 54.7%,#bdff42 67.5%,#a0ff5f 82.5%,#84ff7b 100%)"></div><div style="background:linear-gradient(90deg,#800000 0%,#850000 1.4%,#940000 2.8%,#b10000 4.7%,#fb0000 9%,#ff0400 9.4%,#ff2e00 12.3%,#ff5700 15.6%,#ff7800 18.9%,#ff9700 22.6%,#ffb400 26.9%,#ffce00 31.6%,#ffe600 36.8%,#fffe00 42.9%,#dbff24 54.7%,#bdff42 67.5%,#a0ff5f 82.5%,#84ff7b 100%)"></div><div style="background:linear-gradient(90deg,#800000 0%,#850000 1.4%,#940000 2.8%,#b10000 4.7%,#fb0000 9%,#ff0400 9.4%,#ff2e00 12.3%,#ff5700 15.6%,#ff7800 18.9%,#ff9700 22.6%,#ffb400 26.9%,#ffce00 31.6%,#ffe600 36.8%,#fffe00 42.9%,#dbff24 54.7%,#bdff42 67.5%,#a0ff5f 82.5%,#84ff7b 100%)"></div><div style="background:linear-gradient(90deg,#800000 0%,#850000 1.4%,#940000 2.8%,#b20000 4.7%,#fc0000 9%,#ff0500 9.4%,#ff2f00 12.3%,#ff5700 15.6%,#ff7800 18.9%,#ff9700 22.6%,#ffb400 26.9%,#ffce00 31.6%,#ffe600 36.8%,#fffe00 42.9%,#dbff24 54.7%,#bdff42 67.5%,#a0ff5f 82.5%,#84ff7b 100%)"></div><div style="background:linear-gradient(90deg,#800000 0%,#860000 1.4%,#950000 2.8%,#b20000 4.7%,#fc0000 9%,#ff0500 9.4%,#ff2f00 12.3%,#ff5800 15.6%,#ff7900 18.9%,#ff9800 22.6%,#ffb400 26.9%,#ffce00 31.6%,#ffe600 36.8%,#fffe00 42.9%,#dbff24 54.7%,#bdff42 67.5%,#a0ff5f 82.5%,#84ff7b 100%)"></div><div style="background:linear-gradient(90deg,#810000 0%,#870000 1.4%,#960000 2.8%,#ab0000 4.2%,#fd0000 9%,#ff0600 9.4%,#ff3000 12.3%,#ff5800 15.6%,#ff7900 18.9%,#ff9800 22.6%,#ffb400 26.9%,#ffce00 31.6%,#ffe600 36.8%,#fffe00 42.9%,#dbff24 54.7%,#bdff42 67.5%,#a0ff5f 82.5%,#84ff7b 100%)"></div><div style="background:linear-gradient(90deg,#820000 0%,#800 1.4%,#970000 2.8%,#ac0000 4.2%,#fe0000 9%,#ff3000 12.3%,#ff5300 15.1%,#ff7500 18.4%,#ff9400 22.2%,#ffb200 26.4%,#fc0 31.1%,#ffe600 36.8%,#fffe00 42.9%,#dbff24 54.7%,#bdff42 67.5%,#a0ff5f 82.5%,#84ff7b 100%)"></div><div style="background:linear-gradient(90deg,#840000 0%,#890000 1.4%,#980000 2.8%,#ad0000 4.2%,#f00 9%,#ff2a00 11.8%,#ff5400 15.1%,#ff7500 18.4%,#ff9500 22.2%,#ffb200 26.4%,#fc0 31.1%,#ffe700 36.8%,#fffe00 42.9%,#dbff24 54.7%,#bdff42 67.5%,#a0ff5f 82.5%,#84ff7b 100%)"></div><div style="background:linear-gradient(90deg,#850000 0%,#8b0000 1.4%,#9a0000 2.8%,#af0000 4.2%,#ff0100 9%,#ff2b00 11.8%,#ff5400 15.1%,#ff7600 18.4%,#ff9500 22.2%,#ffb200 26.4%,#fc0 31.1%,#ffe700 36.8%,#fffe00 42.9%,#dbff24 54.7%,#bdff42 67.5%,#a0ff5f 82.5%,#84ff7b 100%)"></div><div style="background:linear-gradient(90deg,#870000 0%,#8d0000 1.4%,#9b0000 2.8%,#b00000 4.2%,#f90000 8.5%,#ff0200 9%,#ff2c00 11.8%,#f50 15.1%,#ff7600 18.4%,#ff9500 22.2%,#ffb200 26.4%,#ffcd00 31.1%,#ffe700 36.8%,#fffe00 42.9%,#dbff24 54.7%,#bdff42 67.5%,#a0ff5f 82.5%,#84ff7b 100%)"></div><div style="background:linear-gradient(90deg,#8a0000 0%,#8f0000 1.4%,#9d0000 2.8%,#ba0000 4.7%,#fa0000 8.5%,#ff0300 9%,#ff2d00 11.8%,#ff5600 15.1%,#f70 18.4%,#ff9600 22.2%,#ffb200 26.4%,#ffcd00 31.1%,#ffe700 36.8%,#fffe00 42.9%,#dbff24 54.7%,#bdff42 67.5%,#a0ff5f 82.5%,#84ff7b 100%)"></div><div style="background:linear-gradient(90deg,#8c0000 0%,#910000 1.4%,#a00000 2.8%,#bc0000 4.7%,#fc0000 8.5%,#ff0400 9%,#ff2e00 11.8%,#ff5700 15.1%,#ff7800 18.4%,#ff9600 22.2%,#ffb300 26.4%,#ffcd00 31.1%,#ffe700 36.8%,#fffe00 42.9%,#dbff24 54.7%,#bdff42 67.5%,#a0ff5f 82.5%,#84ff7b 100%)"></div><div style="background:linear-gradient(90deg,#8f0000 0%,#940000 1.4%,#a20000 2.8%,#be0000 4.7%,#fd0000 8.5%,#ff0600 9%,#ff2f00 11.8%,#ff5700 15.1%,#ff7800 18.4%,#ff9700 22.2%,#ffb300 26.4%,#ffcd00 31.1%,#ffe700 36.8%,#fffe00 42.9%,#dbff24 54.7%,#bdff42 67.5%,#a0ff5f 82.5%,#84ff7b 100%)"></div><div style="background:linear-gradient(90deg,#920000 0%,#970000 1.4%,#a50000 2.8%,#c00000 4.7%,#f00 8.5%,#ff2a00 11.3%,#ff5300 14.6%,#ff7900 18.4%,#ff9700 22.2%,#ffb400 26.4%,#ffcd00 31.1%,#ffe700 36.8%,#ff0 42.9%,#dbff24 54.7%,#bdff42 67.5%,#a0ff5f 82.5%,#84ff7b 100%)"></div><div style="background:linear-gradient(90deg,#950000 0%,#9a0000 1.4%,#a80000 2.8%,#b00 4.2%,#f90000 8%,#ff0200 8.5%,#ff2c00 11.3%,#ff5400 14.6%,#ff7a00 18.4%,#ff9800 22.2%,#ffb400 26.4%,#ffce00 31.1%,#ffe700 36.8%,#ff0 42.9%,#df2 54.2%,#bdff42 67.5%,#a0ff5f 82.5%,#84ff7b 100%)"></div><div style="background:linear-gradient(90deg,#980000 0%,#9d0000 1.4%,#ab0000 2.8%,#c50000 4.7%,#fb0000 8%,#ff0400 8.5%,#ff2d00 11.3%,#ff5600 14.6%,#ff7b00 18.4%,#f90 22.2%,#ffb400 26.4%,#ffce00 31.1%,#ffe800 36.8%,#ff0 42.9%,#df2 54.2%,#bdff42 67.5%,#a0ff5f 82.5%,#84ff7b 100%)"></div><div style="background:linear-gradient(90deg,#9b0000 0%,#a00000 1.4%,#ae0000 2.8%,#c80000 4.7%,#fd0000 8%,#ff0600 8.5%,#ff2f00 11.3%,#ff5700 14.6%,#f70 17.9%,#ff9600 21.7%,#ffb200 25.9%,#ffce00 31.1%,#ffe800 36.8%,#ff0 42.9%,#df2 54.2%,#bdff42 67.5%,#a0ff5f 82.5%,#84ff7b 100%)"></div><div style="background:linear-gradient(90deg,#9f0000 0%,#a40000 1.4%,#b10000 2.8%,#cb0000 4.7%,#ff0100 8%,#ff3100 11.3%,#ff5300 14.2%,#ff7800 17.9%,#ff9700 21.7%,#ffb300 25.9%,#ffcf00 31.1%,#ffe800 36.8%,#ff0 42.9%,#df2 54.2%,#bdff42 67.5%,#a0ff5f 82.5%,#84ff7b 100%)"></div><div style="background:linear-gradient(90deg,#a30000 0%,#a70000 1.4%,#b40000 2.8%,#ce0000 4.7%,#fa0000 7.5%,#ff0300 8%,#ff3200 11.3%,#ff5400 14.2%,#ff7900 17.9%,#ff9700 21.7%,#ffb300 25.9%,#ffcf00 31.1%,#ffe800 36.8%,#ff0 42.9%,#df2 54.2%,#bdff42 67.5%,#a0ff5f 82.5%,#84ff7b 100%)"></div><div style="background:linear-gradient(90deg,#a70000 0%,#ab0000 1.4%,#b80000 2.8%,#d10000 4.7%,#fd0000 7.5%,#ff0500 8%,#ff3400 11.3%,#ff5600 14.2%,#ff7a00 17.9%,#ff9800 21.7%,#ffb400 25.9%,#ffcf00 31.1%,#ffe800 36.8%,#ff0 42.9%,#df2 54.2%,#bdff42 67.5%,#a0ff5f 82.5%,#84ff7b 100%)"></div><div style="background:linear-gradient(90deg,#ab0000 0%,#af0000 1.4%,#bc0000 2.8%,#ce0000 4.2%,#ff0100 7.5%,#ff3000 10.8%,#ff5700 14.2%,#f70 17.5%,#ff9600 21.2%,#ffb100 25.5%,#ffcd00 30.7%,#ffe900 36.8%,#ff0 42.9%,#df2 54.2%,#bdff42 67.5%,#a0ff5f 82.5%,#84ff7b 100%)"></div><div style="background:linear-gradient(90deg,#af0000 0%,#b40000 1.4%,#c00000 2.8%,#d10000 4.2%,#fb0000 7.1%,#ff0300 7.5%,#ff3200 10.8%,#ff5900 14.2%,#ff7900 17.5%,#ff9700 21.2%,#ffb200 25.5%,#ffce00 30.7%,#ffe900 36.8%,#ff0 42.9%,#df2 54.2%,#bdff42 67.5%,#a0ff5f 82.5%,#84ff7b 100%)"></div><div style="background:linear-gradient(90deg,#b40000 0%,#b80000 1.4%,#c40000 2.8%,#d50000 4.2%,#fe0000 7.1%,#ff3400 10.8%,#f50 13.7%,#ff7600 17%,#ff9400 20.8%,#ffb000 25%,#fc0 30.2%,#ffe500 35.8%,#fffe00 42.5%,#dbff24 54.7%,#bdff42 67.5%,#a0ff5f 82.5%,#84ff7b 100%)"></div><div style="background:linear-gradient(90deg,#b90000 0%,#bd0000 1.4%,#c80000 2.8%,#d90000 4.2%,#fb0000 6.6%,#ff0300 7.1%,#ff3000 10.4%,#ff5700 13.7%,#f70 17%,#ff9500 20.8%,#ffb100 25%,#fc0 30.2%,#ffe600 35.8%,#fffe00 42.5%,#dbff24 54.7%,#bdff42 67.5%,#a0ff5f 82.5%,#84ff7b 100%)"></div><div style="background:linear-gradient(90deg,#be0000 0%,#c00000 .9%,#c90000 2.4%,#d00 4.2%,#fe0000 6.6%,#ff0600 7.1%,#f30 10.4%,#ff5900 13.7%,#ff7900 17%,#ff9600 20.8%,#ffb100 25%,#ffcd00 30.2%,#ffe600 35.8%,#fffe00 42.5%,#dbff24 54.7%,#bdff42 67.5%,#a0ff5f 82.5%,#84ff7b 100%)"></div><div style="background:linear-gradient(90deg,#c30000 0%,#c50000 .9%,#cd0000 2.4%,#dc0000 3.8%,#fb0000 6.1%,#ff0300 6.6%,#ff3000 9.9%,#ff5600 13.2%,#ff7a00 17%,#ff9700 20.8%,#ffb200 25%,#ffcd00 30.2%,#ffe600 35.8%,#fffe00 42.5%,#dbff24 54.7%,#bdff42 67.5%,#a0ff5f 82.5%,#84ff7b 100%)"></div><div style="background:linear-gradient(90deg,#c80000 0%,#c00 1.4%,#d60000 2.8%,#e60000 4.2%,#f00 6.1%,#ff3200 9.9%,#ff5800 13.2%,#ff7800 16.5%,#ff9500 20.3%,#ffb300 25%,#ffce00 30.2%,#ffe600 35.8%,#fffe00 42.5%,#df2 54.2%,#bdff42 67.5%,#a0ff5f 82.5%,#84ff7b 100%)"></div><div style="background:linear-gradient(90deg,#cd0000 0%,#cf0000 .9%,#d70000 2.4%,#e50000 3.8%,#fc0000 5.7%,#ff0300 6.1%,#ff3500 9.9%,#ff5a00 13.2%,#ff7900 16.5%,#ff9600 20.3%,#ffb400 25%,#ffce00 30.2%,#ffe700 35.8%,#ff0 42.5%,#dcff23 54.2%,#bdff42 67.5%,#a0ff5f 82.5%,#84ff7b 100%)"></div><div style="background:linear-gradient(90deg,#d30000 0%,#d40000 .9%,#dc0000 2.4%,#e90000 3.8%,#ff0100 5.7%,#ff3800 9.9%,#ff5700 12.7%,#ff7b00 16.5%,#ff9700 20.3%,#ffb400 25%,#ffcf00 30.2%,#ffe700 35.8%,#ff0 42.5%,#dcff23 54.2%,#bdff42 67.5%,#a0ff5f 82.5%,#84ff7b 100%)"></div><div style="background:linear-gradient(90deg,#d80000 0%,#d90000 .9%,#e10000 2.4%,#e00 3.8%,#fe0000 5.2%,#ff0500 5.7%,#ff3a00 9.9%,#ff5a00 12.7%,#ff7c00 16.5%,#ff9800 20.3%,#ffb500 25%,#ffcf00 30.2%,#ffe700 35.8%,#ff0 42.5%,#dcff23 54.2%,#bdff42 67.5%,#a0ff5f 82.5%,#84ff7b 100%)"></div><div style="background:linear-gradient(90deg,#d00 0%,#e30000 1.9%,#e00 3.3%,#fd0000 4.7%,#ff0300 5.2%,#ff3d00 9.9%,#ff6500 13.7%,#ff8900 17.9%,#ffa800 22.6%,#ffc000 26.9%,#ffd600 31.6%,#ff0 42.5%,#dcff23 54.2%,#bdff42 67.5%,#a0ff5f 82.5%,#84ff7b 100%)"></div><div style="background:linear-gradient(90deg,#e30000 0%,#e80000 1.9%,#fc0000 4.2%,#ff0200 4.7%,#ff4000 9.9%,#ff6700 13.7%,#ff8700 17.5%,#ffa700 22.2%,#ffbe00 26.4%,#ffd400 31.1%,#ffeb00 36.8%,#ff0 42.5%,#dcff23 54.2%,#bdff42 67.5%,#a0ff5f 82.5%,#84ff7b 100%)"></div><div style="background:linear-gradient(90deg,#e80000 0%,#e00 1.9%,#ff0200 4.2%,#ff4800 10.4%,#ff6900 13.7%,#f80 17.5%,#ffa800 22.2%,#ffbf00 26.4%,#ffd700 31.6%,#ff0 42.5%,#dcff23 54.2%,#bdff42 67.5%,#a0ff5f 82.5%,#84ff7b 100%)"></div><div style="background:linear-gradient(90deg,#e00 0%,#f10000 1.4%,#fd0000 3.3%,#ff0200 3.8%,#ff4b00 10.4%,#ff6700 13.2%,#ff8600 17%,#ffa600 21.7%,#ffbd00 25.9%,#ffd300 30.7%,#fffe00 42%,#dbff24 54.7%,#bcff43 67.9%,#9fff60 83%,#84ff7b 100%)"></div><div style="background:linear-gradient(90deg,#f40000 0%,#f60000 1.4%,#fe0000 2.8%,#ff0300 3.3%,#ff1500 5.2%,#ff4e00 10.4%,#ff6900 13.2%,#f80 17%,#ffa400 21.2%,#ffbc00 25.5%,#ffd400 30.7%,#fffe00 42%,#dbff24 54.7%,#bcff43 67.9%,#9fff60 83%,#84ff7b 100%)"></div><div style="background:linear-gradient(90deg,#f90000 0%,#fe0000 1.9%,#ff0800 3.3%,#ff1900 5.2%,#ff4c00 9.9%,#ff6b00 13.2%,#ff8900 17%,#ffa200 20.8%,#ffba00 25%,#ffd200 30.2%,#fffe00 42%,#dbff24 54.7%,#bcff43 67.9%,#9fff60 83%,#84ff7b 100%)"></div><div style="background:linear-gradient(90deg,#f00 0%,#ff0300 1.4%,#ff0d00 3.3%,#ff1e00 5.2%,#ff4f00 9.9%,#ff6e00 13.2%,#f80 16.5%,#ffa100 20.3%,#ffb800 24.5%,#ffd100 29.7%,#ffe700 35.4%,#fffe00 42%,#dbff24 54.7%,#bdff42 67.9%,#9fff60 83%,#84ff7b 100%)"></div><div style="background:linear-gradient(90deg,#ff0600 0%,#ff0a00 1.9%,#ff1600 3.8%,#ff7000 13.2%,#ff8900 16.5%,#ffa200 20.3%,#ffb900 24.5%,#ffd100 29.7%,#ffe800 35.4%,#fffe00 42%,#dbff24 54.7%,#bdff42 67.9%,#9fff60 83%,#84ff7b 100%)"></div><div style="background:linear-gradient(90deg,#ff0b00 0%,#ff1000 1.9%,#ff1b00 3.8%,#ff7200 13.2%,#ff8b00 16.5%,#ffa300 20.3%,#ffba00 24.5%,#ffd200 29.7%,#ff0 42%,#dbff24 54.7%,#bdff42 67.9%,#a0ff5f 83%,#84ff7b 100%)"></div><div style="background:linear-gradient(90deg,#f10 0%,#ff1500 1.9%,#ff2000 3.8%,#ff7500 13.2%,#ff9000 17%,#ffa700 20.8%,#ffbd00 25%,#ffd400 30.2%,#ff0 42%,#dcff23 54.2%,#bdff42 67.9%,#a0ff5f 83%,#84ff7b 100%)"></div><div style="background:linear-gradient(90deg,#ff1700 0%,#ff1a00 1.9%,#ff2500 3.8%,#f70 13.2%,#ff9200 17%,#ffa800 20.8%,#ffbe00 25%,#ffd500 30.2%,#ff0 42%,#dcff23 54.2%,#bdff42 67.9%,#a0ff5f 83%,#84ff7b 100%)"></div><div style="background:linear-gradient(90deg,#ff1c00 0%,#ff2000 1.9%,#ff2a00 3.8%,#ff7900 13.2%,#ff9300 17%,#ffa900 20.8%,#ffbf00 25%,#ffd500 30.2%,#ff0 42%,#dcff23 54.2%,#bdff42 67.9%,#a0ff5f 83%,#84ff7b 100%)"></div><div style="background:linear-gradient(90deg,#ff2100 0%,#ff2500 1.9%,#ff2f00 3.8%,#ff7b00 13.2%,#ff9500 17%,#fa0 20.8%,#ffd500 30.2%,#ff0 42%,#dcff23 54.2%,#bdff42 67.9%,#a0ff5f 83%,#84ff7b 100%)"></div><div style="background:linear-gradient(90deg,#ff2700 0%,#ff2a00 1.9%,#ff3400 3.8%,#ff8100 13.7%,#f90 17.5%,#ffae00 21.2%,#ffd800 30.7%,#ff0 42%,#df2 54.2%,#bdff42 67.9%,#a0ff5f 83%,#84ff7b 100%)"></div><div style="background:linear-gradient(90deg,#ff2c00 0%,#ff2f00 1.9%,#ff3800 3.8%,#ff8300 13.7%,#ff9a00 17.5%,#ffaf00 21.2%,#ffd800 30.7%,#ff0 42%,#df2 54.2%,#bdff42 67.9%,#a0ff5f 83%,#84ff7b 100%)"></div><div style="background:linear-gradient(90deg,#ff3100 0%,#ff3400 1.9%,#ff3d00 3.8%,#f80 14.2%,#ffb200 21.7%,#ffda00 31.1%,#ff0 42%,#df2 54.2%,#bdff42 67.9%,#a0ff5f 83%,#84ff7b 100%)"></div><div style="background:linear-gradient(90deg,#ff3600 0%,#ff3900 1.9%,#ff4100 3.8%,#ff8a00 14.2%,#ffb300 21.7%,#ffdb00 31.1%,#ff0 42%,#dbff24 54.7%,#bcff43 68.4%,#9fff60 83.5%,#84ff7b 100%)"></div><div style="background:linear-gradient(90deg,#ff3b00 0%,#ff3e00 1.9%,#ff4800 4.2%,#ff8b00 14.2%,#ffb400 21.7%,#ffdb00 31.1%,#ff0 42%,#dbff24 54.7%,#bcff43 68.4%,#9fff60 83.5%,#84ff7b 100%)"></div><div style="background:linear-gradient(90deg,#ff3f00 0%,#ff4200 1.9%,#ff4c00 4.2%,#ff8d00 14.2%,#ffb700 22.2%,#fd0 31.6%,#ff0 42%,#dcff23 54.7%,#bcff43 68.4%,#9fff60 83.5%,#84ff7b 100%)"></div><div style="background:linear-gradient(90deg,#ff4300 0%,#ff4600 1.9%,#ff5000 4.2%,#ff9100 14.6%,#ffb800 22.2%,#fd0 31.6%,#ff0 42%,#dcff23 54.7%,#bcff43 68.4%,#9fff60 83.5%,#84ff7b 100%)"></div><div style="background:linear-gradient(90deg,#ff4700 0%,#ff4a00 1.9%,#ff5300 4.2%,#ff9300 14.6%,#ffb800 22.2%,#fd0 31.6%,#ff0 42%,#dcff23 54.7%,#bcff43 68.4%,#9fff60 83.5%,#84ff7b 100%)"></div><div style="background:linear-gradient(90deg,#ff4b00 0%,#ff4d00 1.9%,#ff5700 4.2%,#ff9400 14.6%,#fb0 22.6%,#ffdf00 32.1%,#ff0 42%,#dcff23 54.7%,#bcff43 68.4%,#9fff60 83.5%,#84ff7b 100%)"></div><div style="background:linear-gradient(90deg,#ff4e00 0%,#ff5100 1.9%,#ff5a00 4.2%,#ff9600 14.6%,#ffbc00 22.6%,#ffe000 32.1%,#ff0 42%,#dcff23 54.7%,#bf4 68.9%,#9fff60 83.5%,#84ff7b 100%)"></div><div style="background:linear-gradient(90deg,#ff5200 0%,#ff5400 1.9%,#ff5d00 4.2%,#ff9700 14.6%,#ffbc00 22.6%,#ffe000 32.1%,#ff0 42%,#dcff23 54.7%,#bf4 68.9%,#9fff60 83.5%,#84ff7b 100%)"></div><div style="background:linear-gradient(90deg,#f50 0%,#ff5700 1.9%,#ff6000 4.2%,#ff9b00 15.1%,#ffbf00 23.1%,#ffe200 32.5%,#ff0 42%,#dcff23 54.7%,#bf4 68.9%,#9fff60 83.5%,#84ff7b 100%)"></div><div style="background:linear-gradient(90deg,#ff5800 0%,#ff5a00 1.9%,#ff6300 4.2%,#ff9c00 15.1%,#ffbf00 23.1%,#ffe200 32.5%,#ff0 42%,#dbff24 55.2%,#bf4 68.9%,#9fff60 83.5%,#84ff7b 100%)"></div><div style="background:linear-gradient(90deg,#ff5b00 0%,#ff5d00 1.9%,#ff6500 4.2%,#ff9d00 15.1%,#ffc000 23.1%,#ffe200 32.5%,#ff0 42%,#dbff24 55.2%,#bf4 68.9%,#9fff60 83.5%,#84ff7b 100%)"></div><div style="background:linear-gradient(90deg,#ff5e00 0%,#ff6000 1.9%,#ff6800 4.2%,#ff9f00 15.1%,#ffc100 23.1%,#ffe200 32.5%,#ff0 42%,#dbff24 55.2%,#bf4 68.9%,#9fff60 83.5%,#84ff7b 100%)"></div><div style="background:linear-gradient(90deg,#ff6000 0%,#ff6300 1.9%,#ff6b00 4.2%,#ffa000 15.1%,#ffc300 23.6%,#ffe400 33%,#ff0 42%,#dbff24 55.2%,#bcff43 68.9%,#9fff60 83.5%,#84ff7b 100%)"></div><div style="background:linear-gradient(90deg,#ff6300 0%,#f60 1.9%,#ff6d00 4.2%,#ffa100 15.1%,#ffc300 23.6%,#ffe400 33%,#ff0 42%,#dbff24 55.2%,#bf4 69.3%,#9eff61 84%,#84ff7b 100%)"></div><div style="background:linear-gradient(90deg,#f60 0%,#ff6800 1.9%,#ff7000 4.2%,#ffa400 15.6%,#ffc600 24.1%,#ffe600 33.5%,#ff0 42%,#dbff24 55.2%,#bf4 69.3%,#9eff61 84%,#84ff7b 100%)"></div><div style="background:linear-gradient(90deg,#ff6900 0%,#ff6b00 1.9%,#ff7300 4.2%,#ffa500 15.6%,#ffc600 24.1%,#ffe600 33.5%,#ff0 42%,#dbff24 55.2%,#bf4 69.3%,#9eff61 84%,#84ff7b 100%)"></div><div style="background:linear-gradient(90deg,#ff6c00 0%,#ff6e00 1.9%,#ff7500 4.2%,#ffa600 15.6%,#ffc800 24.5%,#feff01 42%,#daff25 55.7%,#bf4 69.3%,#9eff61 84%,#84ff7b 100%)"></div><div style="background:linear-gradient(90deg,#ff6e00 0%,#ff7000 1.9%,#ff7800 4.2%,#ffa700 15.6%,#ffc900 24.5%,#feff01 42%,#daff25 55.7%,#bf4 69.3%,#9eff61 84%,#84ff7b 100%)"></div><div style="background:linear-gradient(90deg,#ff7100 0%,#ff7300 1.9%,#ff7800 3.8%,#ffa700 15.1%,#ffc100 22.2%,#ffe300 32.5%,#feff01 42%,#daff25 55.7%,#bf4 69.3%,#9eff61 84%,#84ff7b 100%)"></div><div style="background:linear-gradient(90deg,#ff7300 0%,#ff7500 1.9%,#ff7b00 3.8%,#ffc100 22.2%,#ffe500 33%,#feff01 42%,#daff25 55.7%,#bf4 69.3%,#9eff61 84%,#84ff7b 100%)"></div><div style="background:linear-gradient(90deg,#ff7600 0%,#ff7d00 3.8%,#ffc200 22.2%,#ffe500 33%,#feff01 42%,#daff25 55.7%,#bf4 69.3%,#9eff61 84%,#84ff7b 100%)"></div><div style="background:linear-gradient(90deg,#ff7900 0%,#ff7f00 3.8%,#ffc400 22.6%,#feff01 42%,#daff25 55.7%,#baff45 69.8%,#9eff61 84.4%,#84ff7b 100%)"></div><div style="background:linear-gradient(90deg,#ff7b00 0%,#ff7d00 1.9%,#ff8300 4.2%,#ffc300 22.2%,#fffe00 41.5%,#d8ff27 56.6%,#baff45 69.8%,#9eff61 84.4%,#84ff7b 100%)"></div><div style="background:linear-gradient(90deg,#ff7e00 0%,#ff7f00 1.9%,#ff8600 4.2%,#ffc400 22.2%,#fffe00 41.5%,#d8ff27 56.6%,#baff45 69.8%,#9eff61 84.4%,#84ff7b 100%)"></div><div style="background:linear-gradient(90deg,#ff8000 0%,#ff8200 1.9%,#f80 4.2%,#ffc600 22.6%,#ff0 41.5%,#d9ff26 56.1%,#baff45 69.8%,#9eff61 84.4%,#84ff7b 100%)"></div><div style="background:linear-gradient(90deg,#ff8300 0%,#ff8400 1.9%,#ff8b00 4.7%,#ffc800 23.1%,#ff0 41.5%,#d9ff26 56.1%,#baff45 69.8%,#9eff61 84.4%,#84ff7b 100%)"></div><div style="background:linear-gradient(90deg,#ff8500 0%,#ff8700 1.9%,#ff8e00 4.7%,#ffcb00 24.1%,#ff0 41.5%,#d9ff26 56.1%,#baff45 69.8%,#9eff61 84.4%,#84ff7b 100%)"></div><div style="background:linear-gradient(90deg,#f80 0%,#ff8a00 2.4%,#ff9100 5.2%,#ff0 41.5%,#d9ff26 56.1%,#baff45 69.8%,#9eff61 84.4%,#84ff7b 100%)"></div><div style="background:linear-gradient(90deg,#ff8a00 0%,#ff8c00 2.4%,#ff9500 5.7%,#ff0 41.5%,#daff25 55.7%,#baff45 69.8%,#9dff62 84.4%,#84ff7b 100%)"></div><div style="background:linear-gradient(90deg,#ff8d00 0%,#ff8f00 2.4%,#ff9800 6.1%,#ff0 41.5%,#d8ff27 56.1%,#b9ff46 69.8%,#9dff62 84.4%,#84ff7b 100%)"></div><div style="background:linear-gradient(90deg,#ff8f00 0%,#ff9200 2.8%,#ff9b00 6.6%,#ff0 41.5%,#d8ff27 56.1%,#b9ff46 69.8%,#9dff62 84.4%,#84ff7b 100%)"></div><div style="background:linear-gradient(90deg,#ff9200 0%,#ff9500 2.8%,#ffa000 7.5%,#feff01 41.5%,#d8ff27 56.1%,#b9ff46 69.8%,#9dff62 84.4%,#84ff7b 100%)"></div><div style="background:linear-gradient(90deg,#ff9400 0%,#ff9800 3.3%,#ffa500 9%,#ff0 41%,#d8ff27 56.1%,#b9ff46 69.8%,#9dff62 84.4%,#84ff7b 100%)"></div><div style="background:linear-gradient(90deg,#ff9700 0%,#ff9b00 3.8%,#ffab00 10.4%,#ff0 41%,#d8ff27 56.1%,#b9ff46 69.8%,#9dff62 84.4%,#84ff7b 100%)"></div><div style="background:linear-gradient(90deg,#f90 0%,#ff9d00 3.8%,#ffae00 11.3%,#ff0 41%,#d9ff26 55.7%,#b9ff46 69.8%,#9dff62 84.4%,#84ff7b 100%)"></div><div style="background:linear-gradient(90deg,#ff9c00 0%,#ffa100 4.2%,#ffb100 11.8%,#feff01 41%,#d8ff27 56.1%,#b9ff46 69.8%,#9dff62 84.4%,#84ff7b 100%)"></div><div style="background:linear-gradient(90deg,#ff9f00 0%,#ffa400 4.7%,#ffb600 13.2%,#ff0 40.6%,#d7ff28 56.1%,#b9ff46 69.8%,#9dff62 84.4%,#84ff7b 100%)"></div><div style="background:linear-gradient(90deg,#ffa100 0%,#ffa600 4.7%,#ffb900 13.7%,#ff0 40.6%,#d8ff27 55.7%,#b9ff46 69.8%,#9dff62 84.4%,#84ff7b 100%)"></div><div style="background:linear-gradient(90deg,#ffa400 0%,#ffa900 5.2%,#ffba00 13.7%,#feff01 40.6%,#d8ff27 55.7%,#b8ff47 69.8%,#9dff62 84.4%,#84ff7b 100%)"></div><div style="background:linear-gradient(90deg,#ffa700 0%,#ffab00 5.2%,#ffbc00 14.2%,#ff0 40.1%,#d7ff28 56.1%,#b8ff47 69.8%,#9dff62 84.4%,#84ff7b 100%)"></div><div style="background:linear-gradient(90deg,#ffa900 0%,#ffae00 5.7%,#ffbf00 14.6%,#ff0 40.1%,#d7ff28 55.7%,#b8ff47 69.8%,#9dff62 84.4%,#84ff7b 100%)"></div><div style="background:linear-gradient(90deg,#ffac00 0%,#ffb100 6.1%,#ffc000 14.6%,#feff01 40.1%,#d7ff28 55.7%,#b8ff47 69.8%,#9dff62 84.4%,#84ff7b 100%)"></div><div style="background:linear-gradient(90deg,#ffae00 0%,#ffb300 6.1%,#ffc300 15.1%,#ffd800 24.5%,#ff0 39.6%,#d7ff28 55.7%,#b8ff47 69.8%,#9dff62 84.4%,#84ff7b 100%)"></div><div style="background:linear-gradient(90deg,#ffb100 0%,#ffb600 6.6%,#ffc400 15.1%,#ffd900 24.5%,#fffe00 39.2%,#d4ff2b 56.6%,#b7ff48 69.8%,#9cff63 84.4%,#84ff7b 100%)"></div><div style="background:linear-gradient(90deg,#ffb300 0%,#ffb800 6.6%,#ffc600 15.1%,#ffda00 24.5%,#ff0 39.2%,#d7ff28 55.2%,#b8ff47 69.3%,#9dff62 84%,#84ff7b 100%)"></div><div style="background:linear-gradient(90deg,#ffb600 0%,#ffba00 6.6%,#ffc700 15.1%,#ffdb00 24.5%,#ff0 38.7%,#d5ff2a 56.1%,#b7ff48 69.8%,#9cff63 84.4%,#84ff7b 100%)"></div><div style="background:linear-gradient(90deg,#ffb800 0%,#ffbc00 6.6%,#ffc900 15.1%,#ffdb00 24.1%,#ff0 38.7%,#d6ff29 55.2%,#b8ff47 69.3%,#9dff62 84%,#84ff7b 100%)"></div><div style="background:linear-gradient(90deg,#ffba00 0%,#ffbf00 7.1%,#ffca00 15.1%,#ffde00 24.5%,#ff0 38.2%,#d6ff29 55.2%,#b7ff48 69.3%,#9dff62 84%,#84ff7b 100%)"></div><div style="background:linear-gradient(90deg,#ffbd00 0%,#ffc100 7.1%,#fc0 15.1%,#ffdf00 24.5%,#ff0 37.7%,#d3ff2c 56.1%,#b6ff49 69.8%,#9cff63 84.4%,#84ff7b 100%)"></div><div style="background:linear-gradient(90deg,#ffbf00 0%,#ffc300 7.1%,#ffce00 15.1%,#ffdf00 24.1%,#ff0 37.7%,#d5ff2a 55.2%,#b7ff48 69.3%,#9cff63 84%,#84ff7b 100%)"></div><div style="background:linear-gradient(90deg,#ffc100 0%,#ffc500 7.1%,#ffcf00 15.1%,#ffe100 24.1%,#ff0 37.3%,#d4ff2b 55.2%,#b6ff49 69.3%,#9cff63 84%,#84ff7b 100%)"></div><div style="background:linear-gradient(90deg,#ffc300 0%,#ffc700 7.1%,#ffd100 15.1%,#ffe300 24.5%,#ff0 36.8%,#d4ff2b 55.2%,#b6ff49 69.3%,#9cff63 84%,#84ff7b 100%)"></div><div style="background:linear-gradient(90deg,#ffc500 0%,#ffc900 7.1%,#ffd300 15.1%,#ffe300 24.1%,#ff0 36.3%,#d3ff2c 55.2%,#b6ff49 69.3%,#9cff63 84%,#84ff7b 100%)"></div><div style="background:linear-gradient(90deg,#ffc800 0%,#ffcb00 7.1%,#ffd400 15.1%,#ffe500 24.1%,#ff0 35.8%,#d3ff2c 55.2%,#b5ff4a 69.3%,#9cff63 84%,#84ff7b 100%)"></div><div style="background:linear-gradient(90deg,#ffca00 0%,#ffcd00 7.1%,#ffd600 15.1%,#ffe600 24.1%,#ff0 35.4%,#d2ff2d 55.2%,#b5ff4a 69.3%,#9cff63 84%,#84ff7b 100%)"></div><div style="background:linear-gradient(90deg,#fc0 0%,#ffcf00 7.1%,#ffd800 15.1%,#ffe700 23.6%,#ff0 34.9%,#d1ff2e 55.2%,#b6ff49 68.9%,#9bff64 84%,#84ff7b 100%)"></div><div style="background:linear-gradient(90deg,#ffce00 0%,#ffd100 7.1%,#ffda00 15.1%,#ffe800 23.6%,#ff0 34.4%,#d2ff2d 54.7%,#b5ff4a 68.9%,#9bff64 84%,#84ff7b 100%)"></div><div style="background:linear-gradient(90deg,#ffd000 0%,#ffd300 7.1%,#ffdb00 14.6%,#ffe900 23.1%,#ff0 34%,#d0ff2f 55.2%,#b5ff4a 68.9%,#9bff64 84%,#84ff7b 100%)"></div><div style="background:linear-gradient(90deg,#ffd300 0%,#ffd500 7.1%,#fd0 14.6%,#ffea00 22.6%,#ff0 33.5%,#cfff30 55.2%,#b4ff4b 68.9%,#9bff64 84%,#84ff7b 100%)"></div><div style="background:linear-gradient(90deg,#ffd500 0%,#ffd700 6.6%,#ffde00 14.2%,#ffeb00 22.6%,#ff0 32.5%,#b4ff4b 68.9%,#9aff65 84%,#84ff7b 100%)"></div><div style="background:linear-gradient(90deg,#ffd700 0%,#ffd900 7.1%,#ffe000 14.2%,#ffec00 22.2%,#ff0 32.1%,#b3ff4c 68.9%,#9aff65 84%,#84ff7b 100%)"></div><div style="background:linear-gradient(90deg,#ffd900 0%,#ffdb00 6.6%,#ffe200 13.7%,#ffed00 21.7%,#ff0 31.1%,#b2ff4d 69.3%,#9aff65 84%,#84ff7b 100%)"></div><div style="background:linear-gradient(90deg,#ffdb00 0%,#fd0 6.6%,#ffe400 13.7%,#ff0 30.7%,#b3ff4c 68.9%,#9aff65 84%,#84ff7b 100%)"></div><div style="background:linear-gradient(90deg,#ffde00 0%,#ffe000 6.6%,#ffe500 13.2%,#ff0 29.7%,#b2ff4d 68.9%,#9aff65 84%,#84ff7b 100%)"></div><div style="background:linear-gradient(90deg,#ffe000 0%,#ffe200 6.6%,#ffe700 13.2%,#ff0 28.8%,#b1ff4e 69.3%,#9f6 84%,#84ff7b 100%)"></div><div style="background:linear-gradient(90deg,#ffe200 0%,#ffe400 6.1%,#ffe900 12.7%,#ff0 27.8%,#b0ff4f 69.3%,#9f6 84%,#84ff7b 100%)"></div><div style="background:linear-gradient(90deg,#ffe400 0%,#ffeb00 12.3%,#ff0 26.9%,#b0ff4f 69.3%,#9f6 84%,#84ff7b 100%)"></div><div style="background:linear-gradient(90deg,#ffe600 0%,#ffec00 11.8%,#ff0 25.9%,#afff50 69.3%,#9f6 84%,#83ff7c 100%)"></div><div style="background:linear-gradient(90deg,#ffe900 0%,#fe0 11.3%,#ff0 25%,#aeff51 69.8%,#98ff67 84.4%,#83ff7c 100%)"></div><div style="background:linear-gradient(90deg,#ffeb00 0%,#fff000 10.8%,#ff0 23.6%,#adff52 70.3%,#97ff68 84.4%,#83ff7c 100%)"></div><div style="background:linear-gradient(90deg,#ffed00 0%,#fff200 10.4%,#feff01 22.6%,#acff53 70.3%,#83ff7c 100%)"></div><div style="background:linear-gradient(90deg,#fff000 0%,#fff300 9.4%,#ff0 21.2%,#ecff13 33%,#abff54 70.8%,#83ff7c 100%)"></div><div style="background:linear-gradient(90deg,#fff200 0%,#fff500 9%,#ff0 19.3%,#ecff13 32.5%,#af5 71.2%,#83ff7c 100%)"></div><div style="background:linear-gradient(90deg,#fff400 0%,#fff700 8.5%,#ff0 17.5%,#fcff03 19.8%,#eaff15 32.5%,#a8ff57 71.7%,#83ff7c 100%)"></div><div style="background:linear-gradient(90deg,#fff600 0%,#fff800 7.5%,#ff0 15.6%,#f9ff06 20.8%,#e8ff17 33%,#a8ff57 71.7%,#83ff7c 100%)"></div><div style="background:linear-gradient(90deg,#fff900 0%,#ff0 13.7%,#f7ff08 21.2%,#e5ff1a 33.5%,#a7ff58 71.7%,#83ff7c 100%)"></div><div style="background:linear-gradient(90deg,#fffb00 0%,#ff0 10.8%,#f4ff0b 22.2%,#e3ff1c 34%,#a7ff58 71.7%,#83ff7c 100%)"></div><div style="background:linear-gradient(90deg,#fffd00 0%,#feff01 9%,#f1ff0e 22.6%,#a6ff59 71.7%,#83ff7c 100%)"></div><div style="background:linear-gradient(90deg,#ff0 0%,#fbff04 10.8%,#ef1 23.6%,#a5ff5a 72.2%,#83ff7c 100%)"></div><div style="background:linear-gradient(90deg,#fcff03 0%,#f8ff07 10.8%,#ecff13 23.6%,#a4ff5b 72.2%,#83ff7c 100%)"></div><div style="background:linear-gradient(90deg,#faff05 0%,#f6ff09 10.8%,#eaff15 24.1%,#a4ff5b 72.2%,#83ff7c 100%)"></div><div style="background:linear-gradient(90deg,#f8ff07 0%,#f4ff0b 10.8%,#e8ff17 24.1%,#a3ff5c 72.6%,#83ff7c 100%)"></div><div style="background:linear-gradient(90deg,#f6ff09 0%,#f2ff0d 10.8%,#e6ff19 24.1%,#a2ff5d 72.6%,#83ff7c 100%)"></div><div style="background:linear-gradient(90deg,#f4ff0b 0%,#f0ff0f 11.3%,#e3ff1c 24.5%,#a1ff5e 73.1%,#83ff7c 100%)"></div><div style="background:linear-gradient(90deg,#f1ff0e 0%,#edff12 11.3%,#e1ff1e 24.5%,#a1ff5e 73.1%,#83ff7c 100%)"></div><div style="background:linear-gradient(90deg,#efff10 0%,#ebff14 11.3%,#dfff20 25%,#a0ff5f 73.1%,#83ff7c 100%)"></div><div style="background:linear-gradient(90deg,#edff12 0%,#e9ff16 11.3%,#df2 25%,#9fff60 73.6%,#83ff7c 100%)"></div><div style="background:linear-gradient(90deg,#ebff14 0%,#e7ff18 11.3%,#dbff24 25%,#9eff61 74.1%,#83ff7c 100%)"></div><div style="background:linear-gradient(90deg,#e9ff16 0%,#e5ff1a 11.3%,#d9ff26 25.5%,#9dff62 74.1%,#83ff7c 100%)"></div><div style="background:linear-gradient(90deg,#e7ff18 0%,#e3ff1c 11.3%,#d7ff28 25.5%,#9dff62 74.1%,#82ff7d 100%)"></div><div style="background:linear-gradient(90deg,#e5ff1a 0%,#e1ff1e 11.8%,#d5ff2a 25.9%,#9cff63 74.5%,#82ff7d 100%)"></div><div style="background:linear-gradient(90deg,#e3ff1c 0%,#dfff20 11.8%,#d3ff2c 26.4%,#9bff64 74.5%,#82ff7d 100%)"></div><div style="background:linear-gradient(90deg,#e2ff1d 0%,#df2 11.8%,#d1ff2e 26.4%,#9aff65 75%,#82ff7d 100%)"></div><div style="background:linear-gradient(90deg,#e0ff1f 0%,#dbff24 12.3%,#cfff30 26.9%,#9aff65 75%,#82ff7d 100%)"></div><div style="background:linear-gradient(90deg,#deff21 0%,#d8ff27 12.7%,#cdff32 27.4%,#9f6 75.5%,#82ff7d 100%)"></div><div style="background:linear-gradient(90deg,#dcff23 0%,#d6ff29 12.7%,#cbff34 27.4%,#9f6 75.5%,#82ff7d 100%)"></div><div style="background:linear-gradient(90deg,#daff25 0%,#d4ff2b 13.2%,#c9ff36 27.8%,#98ff67 75.9%,#82ff7d 100%)"></div><div style="background:linear-gradient(90deg,#d9ff26 0%,#d2ff2d 13.7%,#c7ff38 28.3%,#97ff68 75.9%,#82ff7d 100%)"></div><div style="background:linear-gradient(90deg,#d7ff28 0%,#d0ff2f 13.7%,#c5ff3a 28.8%,#96ff69 76.4%,#82ff7d 100%)"></div><div style="background:linear-gradient(90deg,#d5ff2a 0%,#ceff31 14.2%,#c3ff3c 29.2%,#96ff69 76.4%,#82ff7d 100%)"></div><div style="background:linear-gradient(90deg,#d3ff2c 0%,#c1ff3e 29.7%,#95ff6a 76.9%,#82ff7d 100%)"></div><div style="background:linear-gradient(90deg,#d2ff2d 0%,#c0ff3f 29.7%,#95ff6a 76.9%,#82ff7d 100%)"></div><div style="background:linear-gradient(90deg,#d0ff2f 0%,#beff41 30.2%,#82ff7d 100%)"></div><div style="background:linear-gradient(90deg,#ceff31 0%,#bcff43 30.7%,#82ff7d 100%)"></div><div style="background:linear-gradient(90deg,#cdff32 0%,#baff45 31.1%,#82ff7d 100%)"></div><div style="background:linear-gradient(90deg,#cbff34 0%,#b9ff46 31.6%,#82ff7d 100%)"></div><div style="background:linear-gradient(90deg,#c9ff36 0%,#b7ff48 32.1%,#82ff7d 100%)"></div><div style="background:linear-gradient(90deg,#c8ff37 0%,#b6ff49 32.1%,#82ff7d 100%)"></div><div style="background:linear-gradient(90deg,#c6ff39 0%,#b4ff4b 32.5%,#82ff7d 100%)"></div><div style="background:linear-gradient(90deg,#c4ff3b 0%,#b2ff4d 33%,#82ff7d 100%)"></div><div style="background:linear-gradient(90deg,#c3ff3c 0%,#b1ff4e 33.5%,#82ff7d 100%)"></div><div style="background:linear-gradient(90deg,#c1ff3e 0%,#afff50 34%,#81ff7e 100%)"></div><div style="background:linear-gradient(90deg,#bfff40 0%,#aeff51 34%,#81ff7e 100%)"></div><div style="background:linear-gradient(90deg,#beff41 0%,#adff52 34.4%,#81ff7e 100%)"></div><div style="background:linear-gradient(90deg,#bcff43 0%,#abff54 34.9%,#81ff7e 100%)"></div><div style="background:linear-gradient(90deg,#bf4 0%,#af5 35.4%,#81ff7e 100%)"></div><div style="background:linear-gradient(90deg,#b9ff46 0%,#a9ff56 35.4%,#81ff7e 100%)"></div><div style="background:linear-gradient(90deg,#b8ff47 0%,#a8ff57 35.4%,#81ff7e 100%)"></div><div style="background:linear-gradient(90deg,#b6ff49 0%,#a7ff58 35.8%,#81ff7e 100%)"></div><div style="background:linear-gradient(90deg,#b4ff4b 0%,#a6ff59 35.8%,#81ff7e 100%)"></div><div style="background:linear-gradient(90deg,#b3ff4c 0%,#a5ff5a 35.8%,#81ff7e 100%)"></div><div style="background:linear-gradient(90deg,#b1ff4e 0%,#a4ff5b 35.8%,#81ff7e 100%)"></div><div style="background:linear-gradient(90deg,#b0ff4f 0%,#a3ff5c 35.8%,#81ff7e 100%)"></div></div>
<div class="hm" style="left:1296.8px;top:41.8px;width:211.8px;height:705.8px"><div style="background:linear-gradient(90deg,#a2ff5d 0%,#98ff67 37.3%,#81ff7e 100%)"></div><div style="background:linear-gradient(90deg,#a3ff5c 0%,#9f6 37.3%,#81ff7e 100%)"></div><div style="background:linear-gradient(90deg,#a4ff5b 0%,#9f6 37.7%,#81ff7e 100%)"></div><div style="background:linear-gradient(90deg,#a5ff5a 0%,#9aff65 37.7%,#81ff7e 100%)"></div><div style="background:linear-gradient(90deg,#a6ff59 0%,#9bff64 37.7%,#81ff7e 100%)"></div><div style="background:linear-gradient(90deg,#a8ff57 0%,#9cff63 37.3%,#81ff7e 100%)"></div><div style="background:linear-gradient(90deg,#a9ff56 0%,#9cff63 37.3%,#81ff7e 100%)"></div><div style="background:linear-gradient(90deg,#af5 0%,#9dff62 37.3%,#81ff7e 100%)"></div><div style="background:linear-gradient(90deg,#abff54 0%,#9eff61 36.8%,#81ff7e 100%)"></div><div style="background:linear-gradient(90deg,#acff53 0%,#9fff60 36.8%,#81ff7e 100%)"></div><div style="background:linear-gradient(90deg,#adff52 0%,#a0ff5f 36.3%,#81ff7e 100%)"></div><div style="background:linear-gradient(90deg,#aeff51 0%,#a1ff5e 35.8%,#81ff7e 100%)"></div><div style="background:linear-gradient(90deg,#b0ff4f 0%,#a2ff5d 35.8%,#81ff7e 100%)"></div><div style="background:linear-gradient(90deg,#b1ff4e 0%,#a3ff5c 35.4%,#81ff7e 100%)"></div><div style="background:linear-gradient(90deg,#b2ff4d 0%,#a4ff5b 34.9%,#81ff7e 100%)"></div><div style="background:linear-gradient(90deg,#b3ff4c 0%,#a5ff5a 34.4%,#81ff7e 100%)"></div><div style="background:linear-gradient(90deg,#b4ff4b 0%,#a6ff59 34%,#81ff7e 100%)"></div><div style="background:linear-gradient(90deg,#b6ff49 0%,#a7ff58 34%,#81ff7e 100%)"></div><div style="background:linear-gradient(90deg,#b7ff48 0%,#a8ff57 33.5%,#81ff7e 100%)"></div><div style="background:linear-gradient(90deg,#b8ff47 0%,#af5 33%,#81ff7e 100%)"></div><div style="background:linear-gradient(90deg,#b9ff46 0%,#abff54 32.5%,#81ff7e 100%)"></div><div style="background:linear-gradient(90deg,#bf4 0%,#acff53 32.1%,#81ff7e 100%)"></div><div style="background:linear-gradient(90deg,#bcff43 0%,#aeff51 31.6%,#81ff7e 100%)"></div><div style="background:linear-gradient(90deg,#bdff42 0%,#afff50 31.1%,#81ff7e 100%)"></div><div style="background:linear-gradient(90deg,#bfff40 0%,#b0ff4f 30.7%,#81ff7e 100%)"></div><div style="background:linear-gradient(90deg,#c0ff3f 0%,#b2ff4d 30.2%,#81ff7e 100%)"></div><div style="background:linear-gradient(90deg,#c1ff3e 0%,#b3ff4c 29.7%,#81ff7e 100%)"></div><div style="background:linear-gradient(90deg,#c3ff3c 0%,#beff41 12.7%,#b5ff4a 29.2%,#81ff7e 100%)"></div><div style="background:linear-gradient(90deg,#c4ff3b 0%,#c0ff3f 12.3%,#b6ff49 28.8%,#82ff7d 100%)"></div><div style="background:linear-gradient(90deg,#c5ff3a 0%,#c2ff3d 11.8%,#b8ff47 28.3%,#82ff7d 100%)"></div><div style="background:linear-gradient(90deg,#c7ff38 0%,#c3ff3c 11.8%,#b9ff46 27.8%,#82ff7d 100%)"></div><div style="background:linear-gradient(90deg,#c8ff37 0%,#c5ff3a 11.3%,#bf4 27.4%,#93ff6c 76.4%,#82ff7d 100%)"></div><div style="background:linear-gradient(90deg,#caff35 0%,#c6ff39 11.3%,#bdff42 26.9%,#93ff6c 75.9%,#82ff7d 100%)"></div><div style="background:linear-gradient(90deg,#cbff34 0%,#c8ff37 10.8%,#beff41 26.4%,#94ff6b 75.9%,#82ff7d 100%)"></div><div style="background:linear-gradient(90deg,#cdff32 0%,#caff35 10.8%,#c0ff3f 26.4%,#94ff6b 75.5%,#82ff7d 100%)"></div><div style="background:linear-gradient(90deg,#ceff31 0%,#cbff34 10.8%,#c1ff3e 25.9%,#95ff6a 75.5%,#82ff7d 100%)"></div><div style="background:linear-gradient(90deg,#d0ff2f 0%,#cdff32 10.8%,#c3ff3c 25.5%,#96ff69 75%,#82ff7d 100%)"></div><div style="background:linear-gradient(90deg,#d2ff2d 0%,#cfff30 10.8%,#c5ff3a 25.5%,#96ff69 74.5%,#82ff7d 100%)"></div><div style="background:linear-gradient(90deg,#d3ff2c 0%,#d0ff2f 10.4%,#c6ff39 25%,#97ff68 74.5%,#82ff7d 100%)"></div><div style="background:linear-gradient(90deg,#d5ff2a 0%,#d2ff2d 10.8%,#c8ff37 25%,#98ff67 74.1%,#82ff7d 100%)"></div><div style="background:linear-gradient(90deg,#d7ff28 0%,#d4ff2b 10.4%,#caff35 24.5%,#98ff67 74.1%,#82ff7d 100%)"></div><div style="background:linear-gradient(90deg,#d9ff26 0%,#d6ff29 10.4%,#cf3 24.1%,#9f6 73.6%,#82ff7d 100%)"></div><div style="background:linear-gradient(90deg,#daff25 0%,#d7ff28 10.4%,#cdff32 24.1%,#9f6 73.6%,#82ff7d 100%)"></div><div style="background:linear-gradient(90deg,#dcff23 0%,#d9ff26 10.4%,#cfff30 23.6%,#9aff65 73.1%,#82ff7d 100%)"></div><div style="background:linear-gradient(90deg,#deff21 0%,#dbff24 10.4%,#d1ff2e 23.6%,#9bff64 73.1%,#82ff7d 100%)"></div><div style="background:linear-gradient(90deg,#e0ff1f 0%,#df2 9.9%,#d3ff2c 23.1%,#9cff63 72.6%,#82ff7d 100%)"></div><div style="background:linear-gradient(90deg,#e2ff1d 0%,#dfff20 9.9%,#d4ff2b 23.1%,#9cff63 72.6%,#82ff7d 100%)"></div><div style="background:linear-gradient(90deg,#e4ff1b 0%,#e1ff1e 9.9%,#d6ff29 22.6%,#9dff62 72.2%,#82ff7d 100%)"></div><div style="background:linear-gradient(90deg,#e6ff19 0%,#e3ff1c 9.9%,#d8ff27 22.6%,#9dff62 72.2%,#82ff7d 100%)"></div><div style="background:linear-gradient(90deg,#e8ff17 0%,#e4ff1b 9.9%,#daff25 22.2%,#9eff61 71.7%,#82ff7d 100%)"></div><div style="background:linear-gradient(90deg,#eaff15 0%,#e6ff19 9.9%,#dcff23 22.2%,#9fff60 71.7%,#82ff7d 100%)"></div><div style="background:linear-gradient(90deg,#ecff13 0%,#e8ff17 9.4%,#deff21 21.7%,#a0ff5f 71.2%,#82ff7d 100%)"></div><div style="background:linear-gradient(90deg,#ef1 0%,#eaff15 9.4%,#e0ff1f 21.7%,#a0ff5f 71.2%,#82ff7d 100%)"></div><div style="background:linear-gradient(90deg,#f0ff0f 0%,#ecff13 9.4%,#e2ff1d 21.2%,#a1ff5e 70.8%,#82ff7d 100%)"></div><div style="background:linear-gradient(90deg,#f2ff0d 0%,#ef1 9.4%,#e3ff1c 21.2%,#a2ff5d 70.8%,#83ff7c 100%)"></div><div style="background:linear-gradient(90deg,#f4ff0b 0%,#f0ff0f 9.4%,#e6ff19 20.8%,#a3ff5c 70.3%,#83ff7c 100%)"></div><div style="background:linear-gradient(90deg,#f6ff09 0%,#f2ff0d 9.4%,#e7ff18 20.8%,#a3ff5c 70.3%,#83ff7c 100%)"></div><div style="background:linear-gradient(90deg,#f8ff07 0%,#f4ff0b 9%,#eaff15 20.3%,#a4ff5b 69.8%,#83ff7c 100%)"></div><div style="background:linear-gradient(90deg,#faff05 0%,#f6ff09 9%,#ebff14 20.3%,#a5ff5a 69.8%,#83ff7c 100%)"></div><div style="background:linear-gradient(90deg,#fcff03 0%,#f8ff07 9%,#ef1 19.8%,#a6ff59 69.3%,#83ff7c 100%)"></div><div style="background:linear-gradient(90deg,#feff01 0%,#faff05 9%,#f0ff0f 19.3%,#a6ff59 69.3%,#83ff7c 100%)"></div><div style="background:linear-gradient(90deg,#fffe00 0%,#fdff02 8%,#f2ff0d 18.9%,#a7ff58 68.9%,#83ff7c 100%)"></div><div style="background:linear-gradient(90deg,#fffc00 0%,#ff0 8%,#f4ff0b 18.4%,#a8ff57 68.9%,#83ff7c 100%)"></div><div style="background:linear-gradient(90deg,#fffa00 0%,#ff0 10.4%,#f7ff08 17.5%,#a8ff57 68.9%,#83ff7c 100%)"></div><div style="background:linear-gradient(90deg,#fff800 0%,#ff0 12.3%,#faff05 16.5%,#e9ff16 28.8%,#a9ff56 68.4%,#95ff6a 83.5%,#83ff7c 100%)"></div><div style="background:linear-gradient(90deg,#fff600 0%,#fff800 6.6%,#ff0 13.7%,#fdff02 16%,#ebff14 28.3%,#af5 68.4%,#96ff69 83.5%,#83ff7c 100%)"></div><div style="background:linear-gradient(90deg,#fff400 0%,#fff700 7.1%,#ff0 15.6%,#edff12 27.8%,#af5 68.4%,#96ff69 83.5%,#83ff7c 100%)"></div><div style="background:linear-gradient(90deg,#fff200 0%,#fff500 7.5%,#ff0 17%,#abff54 67.9%,#96ff69 83.5%,#83ff7c 100%)"></div><div style="background:linear-gradient(90deg,#fff000 0%,#fff300 8%,#feff01 18.4%,#acff53 67.5%,#97ff68 83%,#83ff7c 100%)"></div><div style="background:linear-gradient(90deg,#fe0 0%,#fff200 8.5%,#ff0 19.3%,#aeff51 67%,#97ff68 83%,#83ff7c 100%)"></div><div style="background:linear-gradient(90deg,#ffec00 0%,#fff000 9%,#ff0 20.3%,#aeff51 67%,#97ff68 83%,#83ff7c 100%)"></div><div style="background:linear-gradient(90deg,#ffea00 0%,#ffef00 9.4%,#ff0 21.2%,#afff50 66.5%,#98ff67 82.5%,#83ff7c 100%)"></div><div style="background:linear-gradient(90deg,#ffe800 0%,#ffed00 9.4%,#ff0 22.2%,#b0ff4f 66.5%,#98ff67 82.5%,#83ff7c 100%)"></div><div style="background:linear-gradient(90deg,#ffe600 0%,#ffec00 9.9%,#ff0 23.1%,#b1ff4e 66%,#98ff67 82.5%,#83ff7c 100%)"></div><div style="background:linear-gradient(90deg,#ffe400 0%,#ffea00 9.9%,#feff01 24.1%,#b1ff4e 66%,#9f6 82.5%,#83ff7c 100%)"></div><div style="background:linear-gradient(90deg,#ffe200 0%,#ffe900 10.4%,#ff0 24.5%,#b2ff4d 66%,#9f6 82.5%,#83ff7c 100%)"></div><div style="background:linear-gradient(90deg,#ffe000 0%,#ffe100 4.7%,#ffe700 10.4%,#feff01 25.5%,#cf3 51.4%,#b2ff4d 66%,#9aff65 82.1%,#83ff7c 100%)"></div><div style="background:linear-gradient(90deg,#ffde00 0%,#ffdf00 4.7%,#ffe500 10.4%,#ff0 25.9%,#cf3 51.4%,#b2ff4d 66%,#9aff65 82.1%,#83ff7c 100%)"></div><div style="background:linear-gradient(90deg,#ffdb00 0%,#fd0 4.7%,#ffe300 10.4%,#ff0 26.4%,#cdff32 51.4%,#b3ff4c 66%,#9aff65 82.1%,#83ff7c 100%)"></div><div style="background:linear-gradient(90deg,#ffd900 0%,#ffdb00 5.2%,#ffe200 10.8%,#ff0 26.9%,#ceff31 51.4%,#b3ff4c 66%,#9aff65 82.1%,#83ff7c 100%)"></div><div style="background:linear-gradient(90deg,#ffd700 0%,#ffd900 4.7%,#ffdf00 10.4%,#ff0 27.8%,#cfff30 50.9%,#b3ff4c 66%,#9aff65 82.1%,#83ff7c 100%)"></div><div style="background:linear-gradient(90deg,#ffd500 0%,#ffd700 5.2%,#ffde00 10.8%,#ff0 28.3%,#d1ff2e 50.5%,#b4ff4b 66%,#9bff64 82.1%,#83ff7c 100%)"></div><div style="background:linear-gradient(90deg,#ffd300 0%,#ffd500 4.7%,#fd0 10.8%,#ff0 28.8%,#d1ff2e 50.5%,#b4ff4b 66%,#9bff64 82.1%,#83ff7c 100%)"></div><div style="background:linear-gradient(90deg,#ffd000 0%,#ffd300 4.7%,#ffdb00 10.8%,#ff0 29.2%,#d2ff2d 50.5%,#b4ff4b 66%,#9bff64 82.1%,#83ff7c 100%)"></div><div style="background:linear-gradient(90deg,#ffce00 0%,#ffd100 4.7%,#ffd900 10.8%,#ff0 29.7%,#d2ff2d 50.5%,#b5ff4a 66%,#9bff64 82.1%,#83ff7c 100%)"></div><div style="background:linear-gradient(90deg,#fc0 0%,#ffcf00 4.7%,#ffd700 10.4%,#feff01 30.2%,#d3ff2c 50.5%,#b5ff4a 66%,#9bff64 82.1%,#83ff7c 100%)"></div><div style="background:linear-gradient(90deg,#ffca00 0%,#ffcd00 4.7%,#ffd500 10.4%,#ff0 30.2%,#d2ff2d 50.9%,#b5ff4a 66%,#9bff64 82.1%,#83ff7c 100%)"></div><div style="background:linear-gradient(90deg,#ffc700 0%,#ffca00 4.2%,#ffd300 10.4%,#ff0 30.7%,#d3ff2c 50.5%,#b5ff4a 66%,#9bff64 82.1%,#83ff7c 100%)"></div><div style="background:linear-gradient(90deg,#ffc500 0%,#ffc800 4.2%,#ffd100 10.4%,#ff0 31.1%,#d4ff2b 50.5%,#b6ff49 66%,#9cff63 82.1%,#84ff7b 100%)"></div><div style="background:linear-gradient(90deg,#ffc300 0%,#ffc500 4.2%,#ffcf00 9.9%,#ff0 31.6%,#d4ff2b 50.5%,#b6ff49 66%,#9cff63 82.1%,#84ff7b 100%)"></div><div style="background:linear-gradient(90deg,#ffc000 0%,#ffc300 3.8%,#fc0 9.4%,#feff01 32.1%,#d5ff2a 50.5%,#b6ff49 66%,#9cff63 82.1%,#84ff7b 100%)"></div><div style="background:linear-gradient(90deg,#ffbd00 0%,#ffc000 3.8%,#ffca00 9.4%,#ff0 32.1%,#d5ff2a 50.5%,#b6ff49 66%,#9cff63 82.1%,#84ff7b 100%)"></div><div style="background:linear-gradient(90deg,#fb0 0%,#ffbe00 3.8%,#ffc700 9%,#feff01 32.5%,#d5ff2a 50.5%,#b7ff48 66%,#9cff63 82.1%,#84ff7b 100%)"></div><div style="background:linear-gradient(90deg,#ffb800 0%,#ffba00 3.3%,#ffc400 8.5%,#ff0 32.5%,#d6ff29 50.5%,#b7ff48 66%,#9cff63 82.1%,#84ff7b 100%)"></div><div style="background:linear-gradient(90deg,#ffb500 0%,#ffb800 3.3%,#ffc100 8%,#ff0 33%,#d6ff29 50.5%,#b7ff48 66%,#9cff63 82.1%,#84ff7b 100%)"></div><div style="background:linear-gradient(90deg,#ffb200 0%,#ffb500 3.3%,#ffbd00 7.5%,#ff0 33%,#d7ff28 50.5%,#b7ff48 66%,#9cff63 82.1%,#84ff7b 100%)"></div><div style="background:linear-gradient(90deg,#ffaf00 0%,#ffb100 2.8%,#ffba00 7.1%,#ff0 33.5%,#d7ff28 50.5%,#b7ff48 66%,#9cff63 82.1%,#84ff7b 100%)"></div><div style="background:linear-gradient(90deg,#ffab00 0%,#ffae00 2.8%,#ffb500 6.1%,#ff0 33.5%,#d7ff28 50.5%,#b8ff47 66%,#9dff62 82.1%,#84ff7b 100%)"></div><div style="background:linear-gradient(90deg,#ffa800 0%,#fa0 2.4%,#ffb100 5.7%,#ffe300 23.1%,#ff0 34%,#d7ff28 50.5%,#b8ff47 66%,#9dff62 82.1%,#84ff7b 100%)"></div><div style="background:linear-gradient(90deg,#ffa500 0%,#ffa700 2.4%,#ffad00 5.2%,#ffde00 21.7%,#ff0 34%,#d8ff27 50.5%,#b8ff47 66%,#9dff62 82.1%,#84ff7b 100%)"></div><div style="background:linear-gradient(90deg,#ffa100 0%,#ffa900 4.7%,#ffde00 22.2%,#feff01 34.4%,#d8ff27 50.5%,#b8ff47 66%,#9dff62 82.1%,#84ff7b 100%)"></div><div style="background:linear-gradient(90deg,#ff9e00 0%,#ff9f00 1.9%,#ffa600 4.7%,#ffd900 20.8%,#ff0 34.4%,#d8ff27 50.5%,#b8ff47 66%,#9dff62 82.1%,#84ff7b 100%)"></div><div style="background:linear-gradient(90deg,#ff9a00 0%,#ffa100 4.2%,#ffd800 20.8%,#ff0 34.4%,#d7ff28 50.9%,#b8ff47 66%,#9dff62 82.1%,#84ff7b 100%)"></div><div style="background:linear-gradient(90deg,#ff9600 0%,#ff9800 1.9%,#ff9e00 4.2%,#ffd700 20.8%,#ff0 34.9%,#d9ff26 50.5%,#b9ff46 66%,#9dff62 82.1%,#84ff7b 100%)"></div><div style="background:linear-gradient(90deg,#ff9300 0%,#ff9500 1.9%,#ff9b00 4.2%,#ffd400 20.3%,#ff0 34.9%,#daff25 50%,#baff45 65.6%,#9dff62 82.1%,#84ff7b 100%)"></div><div style="background:linear-gradient(90deg,#ff8f00 0%,#ff9600 3.8%,#ffd200 19.8%,#ff0 34.9%,#d8ff27 50.9%,#b9ff46 66%,#9dff62 82.1%,#84ff7b 100%)"></div><div style="background:linear-gradient(90deg,#ff8b00 0%,#ff9300 3.8%,#ffd200 20.3%,#ff0 35.4%,#d9ff26 50.5%,#b9ff46 66%,#9dff62 82.1%,#84ff7b 100%)"></div><div style="background:linear-gradient(90deg,#f80 0%,#ff8a00 1.9%,#ff8f00 3.8%,#ffcf00 19.8%,#ff0 35.4%,#dbff24 50%,#baff45 65.6%,#9dff62 82.1%,#84ff7b 100%)"></div><div style="background:linear-gradient(90deg,#ff8400 0%,#ff8600 1.9%,#ff8e00 4.2%,#ffba00 14.6%,#ffd500 21.7%,#ff0 35.4%,#d9ff26 50.9%,#b9ff46 66%,#9dff62 82.1%,#84ff7b 100%)"></div><div style="background:linear-gradient(90deg,#ff8000 0%,#ff8300 1.9%,#ff8a00 4.2%,#ffb900 14.6%,#ffd400 21.7%,#ffeb00 28.8%,#feff01 35.8%,#daff25 50.5%,#baff45 65.6%,#9dff62 82.1%,#84ff7b 100%)"></div><div style="background:linear-gradient(90deg,#ff7d00 0%,#ff7f00 1.9%,#ff8500 3.8%,#ffb500 14.2%,#ffd100 21.2%,#ffe900 28.3%,#ff0 35.8%,#daff25 50.5%,#baff45 65.6%,#9dff62 82.1%,#84ff7b 100%)"></div><div style="background:linear-gradient(90deg,#ff7900 0%,#ff7b00 1.9%,#ff8200 3.8%,#ffb300 14.2%,#ffd000 21.2%,#ffe700 27.8%,#ff0 35.8%,#daff25 50.5%,#baff45 65.6%,#9dff62 82.1%,#84ff7b 100%)"></div><div style="background:linear-gradient(90deg,#ff7500 0%,#ff7800 1.9%,#ff7e00 3.8%,#ffb200 14.2%,#ffce00 20.8%,#ffe600 27.8%,#fffe00 35.8%,#d9ff26 50.9%,#b9ff46 66%,#9eff61 82.1%,#84ff7b 100%)"></div><div style="background:linear-gradient(90deg,#ff7100 0%,#ff7400 1.9%,#ff7b00 3.8%,#ffb000 14.2%,#ffcd00 20.8%,#ffe700 28.3%,#ff0 36.3%,#dbff24 50.5%,#baff45 65.6%,#9eff61 82.1%,#84ff7b 100%)"></div><div style="background:linear-gradient(90deg,#ff6e00 0%,#ff7000 1.9%,#f70 3.8%,#ffac00 13.7%,#fc0 20.8%,#ffe500 27.8%,#ff0 36.3%,#dbff24 50.5%,#bf4 65.6%,#9eff61 82.1%,#84ff7b 100%)"></div><div style="background:linear-gradient(90deg,#ff6a00 0%,#ff6c00 1.9%,#ff7400 3.8%,#fa0 13.7%,#ffcb00 20.8%,#ffe500 27.8%,#ff0 36.3%,#dbff24 50.5%,#bf4 65.6%,#9eff61 82.1%,#84ff7b 100%)"></div><div style="background:linear-gradient(90deg,#f60 0%,#ff6900 1.9%,#ff7000 3.8%,#ffa800 13.7%,#ffc800 20.3%,#ffe200 27.4%,#fffe00 36.3%,#daff25 50.9%,#baff45 66%,#9eff61 82.1%,#84ff7b 100%)"></div><div style="background:linear-gradient(90deg,#ff6200 0%,#ff6500 1.9%,#ff6c00 3.8%,#ffa600 13.7%,#ffc800 20.8%,#ffe500 28.3%,#ff0 36.8%,#dbff24 50.5%,#bf4 65.6%,#9eff61 82.1%,#84ff7b 100%)"></div><div style="background:linear-gradient(90deg,#ff5e00 0%,#ff6100 1.9%,#ff6900 3.8%,#ffa400 13.7%,#ffc500 20.3%,#ffe300 27.8%,#ff0 36.8%,#dbff24 50.5%,#bf4 65.6%,#9eff61 82.1%,#84ff7b 100%)"></div><div style="background:linear-gradient(90deg,#ff5a00 0%,#ff5d00 1.9%,#ff6500 3.8%,#ffa300 13.7%,#ffc400 20.3%,#ffe200 27.8%,#ff0 36.8%,#dbff24 50.5%,#bf4 65.6%,#9eff61 82.1%,#84ff7b 100%)"></div><div style="background:linear-gradient(90deg,#ff5600 0%,#ff5900 1.9%,#ff6100 3.8%,#ffa100 13.7%,#ffc300 20.3%,#ffe100 27.8%,#fffe00 36.8%,#daff25 50.9%,#bf4 65.6%,#9eff61 82.1%,#84ff7b 100%)"></div><div style="background:linear-gradient(90deg,#ff5200 0%,#f50 1.9%,#ff5d00 3.8%,#ff9f00 13.7%,#ffc200 20.3%,#ffe300 28.3%,#ff0 37.3%,#dcff23 50.5%,#bf4 65.6%,#9eff61 82.1%,#84ff7b 100%)"></div><div style="background:linear-gradient(90deg,#ff4e00 0%,#ff5100 1.9%,#ff5a00 3.8%,#ff9d00 13.7%,#ffc100 20.3%,#ffe000 27.8%,#ff0 37.3%,#dcff23 50.5%,#bf4 65.6%,#9eff61 82.1%,#84ff7b 100%)"></div><div style="background:linear-gradient(90deg,#ff4900 0%,#ff4d00 1.9%,#ff5600 3.8%,#ff9b00 13.7%,#ffbf00 20.3%,#ffdf00 27.8%,#ff0 37.3%,#dbff24 50.9%,#bf4 65.6%,#9eff61 82.1%,#84ff7b 100%)"></div><div style="background:linear-gradient(90deg,#ff4500 0%,#ff4900 1.9%,#ff5200 3.8%,#ff9500 13.2%,#ffbe00 20.3%,#ffdf00 27.8%,#fffe00 37.3%,#dbff24 50.9%,#bf4 65.6%,#9eff61 82.1%,#84ff7b 100%)"></div><div style="background:linear-gradient(90deg,#ff4100 0%,#f40 1.9%,#ff4e00 3.8%,#ff9300 13.2%,#ffbd00 20.3%,#ffe000 28.3%,#ff0 37.7%,#dbff24 50.9%,#bf4 65.6%,#9fff60 81.6%,#84ff7b 100%)"></div><div style="background:linear-gradient(90deg,#ff3d00 0%,#ff4000 1.9%,#ff4a00 3.8%,#ff9100 13.2%,#ffa700 16.5%,#ffbc00 20.3%,#ffdf00 28.3%,#ff0 37.7%,#dbff24 50.9%,#bcff43 65.6%,#9fff60 81.6%,#84ff7b 100%)"></div><div style="background:linear-gradient(90deg,#ff3900 0%,#ff3c00 1.9%,#ff4600 3.8%,#ff8f00 13.2%,#ffa500 16.5%,#fb0 20.3%,#fd0 27.8%,#ff0 37.7%,#dcff23 50.9%,#bcff43 65.6%,#9fff60 81.6%,#84ff7b 100%)"></div><div style="background:linear-gradient(90deg,#ff3400 0%,#ff3800 1.9%,#ff4200 3.8%,#ff8d00 13.2%,#ffa300 16.5%,#ffb900 20.3%,#ffdc00 27.8%,#fffe00 37.7%,#dbff24 51.4%,#bcff43 65.6%,#9fff60 81.6%,#84ff7b 100%)"></div><div style="background:linear-gradient(90deg,#ff3000 0%,#ff3400 1.9%,#ff3e00 3.8%,#ff8b00 13.2%,#ffa200 16.5%,#ffb800 20.3%,#fd0 28.3%,#ff0 38.2%,#dcff23 50.9%,#bcff43 65.6%,#9fff60 81.6%,#84ff7b 100%)"></div><div style="background:linear-gradient(90deg,#ff2c00 0%,#ff3000 1.9%,#ff3a00 3.8%,#ff8900 13.2%,#ffa000 16.5%,#ffb700 20.3%,#ffdc00 28.3%,#ff0 38.2%,#dcff23 50.9%,#bcff43 65.6%,#9fff60 81.6%,#84ff7b 100%)"></div><div style="background:linear-gradient(90deg,#ff2800 0%,#ff2c00 1.9%,#ff3600 3.8%,#ff8700 13.2%,#ff9e00 16.5%,#ffb500 20.3%,#ffdc00 28.3%,#ff0 38.2%,#dcff23 50.9%,#bcff43 65.6%,#9fff60 81.6%,#84ff7b 100%)"></div><div style="background:linear-gradient(90deg,#ff2400 0%,#ff2800 1.9%,#ff3200 3.8%,#ff8400 13.2%,#ff9d00 16.5%,#ffb400 20.3%,#ffdb00 28.3%,#fffe00 38.2%,#dbff24 51.4%,#bcff43 65.6%,#9fff60 81.6%,#84ff7b 100%)"></div><div style="background:linear-gradient(90deg,#ff1f00 0%,#ff2300 1.9%,#ff2e00 3.8%,#ff8200 13.2%,#ff9b00 16.5%,#ffb300 20.3%,#ffc900 24.5%,#ffdc00 28.8%,#ff0 38.7%,#df2 50.9%,#bcff43 65.6%,#9fff60 81.6%,#84ff7b 100%)"></div><div style="background:linear-gradient(90deg,#ff1b00 0%,#ff1f00 1.9%,#ff2a00 3.8%,#ff8000 13.2%,#f90 16.5%,#ffb200 20.3%,#ffc600 24.1%,#ffd900 28.3%,#ff0 38.7%,#df2 50.9%,#bcff43 65.6%,#9fff60 81.6%,#84ff7b 100%)"></div><div style="background:linear-gradient(90deg,#ff1600 0%,#ff1b00 1.9%,#ff2600 3.8%,#ff7e00 13.2%,#ff9700 16.5%,#ffb000 20.3%,#ffc500 24.1%,#ffd900 28.3%,#ff0 38.7%,#dcff23 51.4%,#bcff43 65.6%,#9fff60 81.6%,#84ff7b 100%)"></div><div style="background:linear-gradient(90deg,#ff1200 0%,#ff1600 1.9%,#f20 3.8%,#ff7b00 13.2%,#ff9600 16.5%,#ffaf00 20.3%,#ffc400 24.1%,#ffd800 28.3%,#fffe00 38.7%,#dbff24 51.9%,#bcff43 65.6%,#9fff60 81.6%,#84ff7b 100%)"></div><div style="background:linear-gradient(90deg,#ff0e00 0%,#ff1200 1.9%,#ff1e00 3.8%,#ff7900 13.2%,#ff9400 16.5%,#ffad00 20.3%,#ffc500 24.5%,#ffd900 28.8%,#ff0 39.2%,#dcff23 51.4%,#bcff43 65.6%,#9fff60 81.6%,#84ff7b 100%)"></div><div style="background:linear-gradient(90deg,#ff0900 0%,#ff0e00 1.9%,#ff1a00 3.8%,#f70 13.2%,#ff9200 16.5%,#ffac00 20.3%,#ffc400 24.5%,#ffd800 28.8%,#ff0 39.2%,#dcff23 51.4%,#bdff42 65.6%,#9fff60 81.6%,#84ff7b 100%)"></div><div style="background:linear-gradient(90deg,#ff0500 0%,#ff0900 1.9%,#ff1600 3.8%,#ff7500 13.2%,#ff9000 16.5%,#ffab00 20.3%,#ffc300 24.5%,#ffd800 28.8%,#ff0 39.2%,#dbff24 51.9%,#bdff42 65.6%,#9fff60 81.6%,#84ff7b 100%)"></div><div style="background:linear-gradient(90deg,#f00 0%,#ff0500 1.9%,#ff1200 3.8%,#ff7200 13.2%,#ff8e00 16.5%,#ffa900 20.3%,#ffc200 24.5%,#ffd700 28.8%,#fffe00 39.2%,#daff25 52.4%,#bcff43 66%,#9fff60 82.1%,#84ff7b 100%)"></div><div style="background:linear-gradient(90deg,#fb0000 0%,#ff0100 1.9%,#ff0a00 3.3%,#ff1b00 5.2%,#ff5400 10.4%,#ff7500 13.7%,#ff9000 17%,#ffab00 20.8%,#ffc400 25%,#ffd800 29.2%,#ffed00 34.4%,#ff0 39.6%,#df2 51.4%,#bdff42 65.6%,#9fff60 81.6%,#84ff7b 100%)"></div><div style="background:linear-gradient(90deg,#f70000 0%,#f80000 .9%,#fe0000 2.4%,#ff0600 3.3%,#ff1700 5.2%,#ff5100 10.4%,#ff7200 13.7%,#ff8f00 17%,#fa0 20.8%,#ffc300 25%,#ffd700 29.2%,#ff0 39.6%,#dcff23 51.9%,#bdff42 65.6%,#9fff60 81.6%,#84ff7b 100%)"></div><div style="background:linear-gradient(90deg,#f20000 0%,#f50000 1.4%,#ff0200 3.3%,#ff1400 5.2%,#ff4f00 10.4%,#ff7000 13.7%,#ff9100 17.5%,#ffab00 21.2%,#ffc200 25%,#ffd700 29.2%,#fffe00 39.6%,#dbff24 52.4%,#bcff43 66%,#9fff60 82.1%,#84ff7b 100%)"></div><div style="background:linear-gradient(90deg,#e00 0%,#f10000 1.4%,#ff0200 3.8%,#ff1500 5.7%,#ff5100 10.8%,#ff6e00 13.7%,#ff8f00 17.5%,#ffad00 21.7%,#ffc300 25.5%,#ffd800 29.7%,#fffe00 39.6%,#dbff24 52.4%,#bcff43 66%,#9fff60 82.1%,#84ff7b 100%)"></div><div style="background:linear-gradient(90deg,#ea0000 0%,#ef0000 1.9%,#fd0000 3.8%,#ff0200 4.2%,#ff4f00 10.8%,#ff6c00 13.7%,#ff8d00 17.5%,#ffac00 21.7%,#ffc200 25.5%,#ffd700 29.7%,#ffed00 34.9%,#ff0 40.1%,#df2 51.9%,#bdff42 65.6%,#a0ff5f 81.6%,#84ff7b 100%)"></div><div style="background:linear-gradient(90deg,#e60000 0%,#eb0000 1.9%,#fe0000 4.2%,#ff0400 4.7%,#ff4c00 10.8%,#ff6f00 14.2%,#ff9000 17.9%,#ffae00 22.2%,#ffc400 25.9%,#ffd900 30.2%,#ff0 40.1%,#dcff23 52.4%,#bcff43 66%,#9fff60 82.1%,#84ff7b 100%)"></div><div style="background:linear-gradient(90deg,#e20000 0%,#e30000 .9%,#ea0000 2.4%,#f00 4.7%,#ff4a00 10.8%,#ff6d00 14.2%,#ff9200 18.4%,#ffb000 22.6%,#ffc500 26.4%,#ffd800 30.2%,#fffe00 40.1%,#dcff23 52.4%,#bcff43 66%,#9fff60 82.1%,#84ff7b 100%)"></div><div style="background:linear-gradient(90deg,#d00 0%,#df0000 .9%,#e60000 2.4%,#ff0200 5.2%,#ff4200 10.4%,#ff6100 13.2%,#ff8100 16.5%,#ff9f00 20.3%,#ffba00 24.5%,#ffd000 28.8%,#ffe700 34%,#fffe00 40.1%,#dbff24 52.8%,#bdff42 66%,#9fff60 82.1%,#84ff7b 100%)"></div><div style="background:linear-gradient(90deg,#d90000 0%,#db0000 .9%,#e20000 2.4%,#e00 3.8%,#fd0000 5.2%,#ff0400 5.7%,#ff4500 10.8%,#ff5f00 13.2%,#ff7f00 16.5%,#ff9d00 20.3%,#ffb900 24.5%,#ffd200 29.2%,#ffe900 34.4%,#ff0 40.6%,#dcff23 52.4%,#bdff42 66%,#9fff60 82.1%,#84ff7b 100%)"></div><div style="background:linear-gradient(90deg,#d50000 0%,#d70000 .9%,#de0000 2.4%,#ea0000 3.8%,#ff0100 5.7%,#ff3d00 10.4%,#ff5d00 13.2%,#ff7d00 16.5%,#ff9c00 20.3%,#ffb800 24.5%,#ffd100 29.2%,#ffe800 34.4%,#ff0 40.6%,#dcff23 52.4%,#bdff42 66%,#9fff60 82.1%,#84ff7b 100%)"></div><div style="background:linear-gradient(90deg,#d10000 0%,#d30000 .9%,#da0000 2.4%,#e60000 3.8%,#fc0000 5.7%,#ff0300 6.1%,#ff3a00 10.4%,#ff6000 13.7%,#ff8000 17%,#ff9e00 20.8%,#ffba00 25%,#ffd000 29.2%,#ffe700 34.4%,#fffe00 40.6%,#dbff24 52.8%,#bdff42 66%,#9fff60 82.1%,#84ff7b 100%)"></div><div style="background:linear-gradient(90deg,#cd0000 0%,#d00000 1.4%,#da0000 2.8%,#e80000 4.2%,#f00 6.1%,#ff3800 10.4%,#ff5900 13.2%,#ff7a00 16.5%,#f90 20.3%,#ffb600 24.5%,#ffd000 29.2%,#ffe700 34.4%,#fffe00 40.6%,#daff25 53.3%,#bcff43 66.5%,#9fff60 82.1%,#84ff7b 100%)"></div><div style="background:linear-gradient(90deg,#c90000 0%,#c00 1.4%,#d60000 2.8%,#e40000 4.2%,#fc0000 6.1%,#ff0300 6.6%,#ff3500 10.4%,#ff5c00 13.7%,#ff7d00 17%,#ff9c00 20.8%,#ffb800 25%,#ffd100 29.7%,#ffe800 34.9%,#ff0 41%,#df2 52.4%,#bdff42 66%,#a0ff5f 81.6%,#84ff7b 100%)"></div><div style="background:linear-gradient(90deg,#c50000 0%,#c80000 1.4%,#d20000 2.8%,#e00000 4.2%,#f00 6.6%,#f30 10.4%,#ff5a00 13.7%,#ff7b00 17%,#ff9a00 20.8%,#ffb700 25%,#ffd000 29.7%,#ffe800 34.9%,#ff0 41%,#dcff23 52.8%,#bdff42 66%,#a0ff5f 81.6%,#84ff7b 100%)"></div><div style="background:linear-gradient(90deg,#c10000 0%,#c40000 1.4%,#ce0000 2.8%,#d00 4.2%,#fc0000 6.6%,#ff0300 7.1%,#ff3700 10.8%,#ff5e00 14.2%,#ff7e00 17.5%,#ff9d00 21.2%,#ffb600 25%,#ffd000 29.7%,#ffe700 34.9%,#fffe00 41%,#dbff24 53.3%,#bcff43 66.5%,#9fff60 82.1%,#84ff7b 100%)"></div><div style="background:linear-gradient(90deg,#bd0000 0%,#c00000 1.4%,#ca0000 2.8%,#df0000 4.7%,#f00 7.1%,#ff3400 10.8%,#ff5c00 14.2%,#ff7d00 17.5%,#ff9c00 21.2%,#ffb500 25%,#ffcf00 29.7%,#ffe700 34.9%,#fffe00 41%,#dbff24 53.3%,#bcff43 66.5%,#9fff60 82.1%,#84ff7b 100%)"></div><div style="background:linear-gradient(90deg,#b90000 0%,#bc0000 1.4%,#c60000 2.8%,#dc0000 4.7%,#fc0000 7.1%,#ff0400 7.5%,#ff3200 10.8%,#ff5a00 14.2%,#ff7b00 17.5%,#ff9a00 21.2%,#ffb700 25.5%,#ffd100 30.2%,#ffea00 35.8%,#ff0 41.5%,#df2 52.8%,#beff41 66%,#a0ff5f 81.6%,#84ff7b 100%)"></div><div style="background:linear-gradient(90deg,#b50000 0%,#b90000 1.4%,#c30000 2.8%,#d80000 4.7%,#ff0100 7.5%,#ff3000 10.8%,#ff5800 14.2%,#ff7a00 17.5%,#f90 21.2%,#ffb600 25.5%,#ffd000 30.2%,#ffe800 35.4%,#ff0 41.5%,#df2 52.8%,#bdff42 66.5%,#9fff60 82.1%,#84ff7b 100%)"></div><div style="background:linear-gradient(90deg,#b10000 0%,#b50000 1.4%,#bf0000 2.8%,#d50000 4.7%,#fe0000 7.5%,#ff0600 8%,#ff3400 11.3%,#ff5c00 14.6%,#ff7d00 17.9%,#ff9c00 21.7%,#ffb500 25.5%,#ffcf00 30.2%,#ffe700 35.4%,#ff0 41.5%,#dcff23 53.3%,#bdff42 66.5%,#9fff60 82.1%,#84ff7b 100%)"></div><div style="background:linear-gradient(90deg,#ad0000 0%,#b10000 1.4%,#c00000 3.3%,#d80000 5.2%,#fb0000 7.5%,#ff0300 8%,#ff3200 11.3%,#ff5a00 14.6%,#ff7b00 17.9%,#ff9b00 21.7%,#ffb400 25.5%,#ffcf00 30.2%,#ffe700 35.4%,#fffe00 41.5%,#dbff24 53.8%,#bdff42 66.5%,#9fff60 82.1%,#84ff7b 100%)"></div><div style="background:linear-gradient(90deg,#a00 0%,#ad0000 1.4%,#bd0000 3.3%,#d50000 5.2%,#ff0100 8%,#ff3000 11.3%,#ff5900 14.6%,#ff7a00 17.9%,#ff9a00 21.7%,#ffb400 25.5%,#ffce00 30.2%,#ffe600 35.4%,#fffe00 41.5%,#dbff24 53.8%,#bdff42 66.5%,#a0ff5f 82.1%,#84ff7b 100%)"></div><div style="background:linear-gradient(90deg,#a60000 0%,#a00 1.4%,#b50000 2.8%,#c00 4.7%,#fd0000 8%,#ff0600 8.5%,#ff3500 11.8%,#ff5c00 15.1%,#ff7d00 18.4%,#ff9c00 22.2%,#ffb900 26.4%,#ffd200 31.1%,#ffea00 36.3%,#ff0 42%,#dcff23 53.3%,#bdff42 66.5%,#a0ff5f 82.1%,#84ff7b 100%)"></div><div style="background:linear-gradient(90deg,#a30000 0%,#a70000 1.4%,#b70000 3.3%,#d00000 5.2%,#fb0000 8%,#ff0400 8.5%,#f30 11.8%,#ff5b00 15.1%,#ff7c00 18.4%,#ff9c00 22.2%,#ffb500 25.9%,#ffcf00 30.7%,#ffe700 35.8%,#ff0 42%,#df2 53.3%,#bdff42 66.5%,#a0ff5f 82.1%,#84ff7b 100%)"></div><div style="background:linear-gradient(90deg,#a00000 0%,#a40000 1.4%,#b40000 3.3%,#c70000 4.7%,#ff0200 8.5%,#ff3200 11.8%,#ff5a00 15.1%,#ff7b00 18.4%,#ff9b00 22.2%,#ffb400 25.9%,#ffcf00 30.7%,#ffe700 35.8%,#ff0 42%,#df2 53.3%,#bdff42 66.5%,#a0ff5f 82.1%,#84ff7b 100%)"></div><div style="background:linear-gradient(90deg,#9d0000 0%,#a10000 1.4%,#b20000 3.3%,#cb0000 5.2%,#f00 8.5%,#ff3000 11.8%,#ff5900 15.1%,#ff7b00 18.4%,#ff9a00 22.2%,#ffb700 26.4%,#ffd100 31.1%,#ffe900 36.3%,#fffe00 42%,#dcff23 53.8%,#bcff43 67%,#a0ff5f 82.1%,#84ff7b 100%)"></div><div style="background:linear-gradient(90deg,#9a0000 0%,#9e0000 1.4%,#af0000 3.3%,#c90000 5.2%,#fd0000 8.5%,#ff0600 9%,#ff3500 12.3%,#ff5800 15.1%,#ff7a00 18.4%,#f90 22.2%,#ffb600 26.4%,#ffd000 31.1%,#ffe800 36.3%,#fffe00 42%,#dbff24 54.2%,#bcff43 67%,#a0ff5f 82.1%,#84ff7b 100%)"></div><div style="background:linear-gradient(90deg,#970000 0%,#9b0000 1.4%,#ad0000 3.3%,#c70000 5.2%,#fc0000 8.5%,#ff0400 9%,#ff3400 12.3%,#ff5c00 15.6%,#ff7d00 18.9%,#ff9c00 22.6%,#ffb900 26.9%,#ffd200 31.6%,#ffea00 36.8%,#ff0 42.5%,#df2 53.3%,#bdff42 66.5%,#a0ff5f 82.1%,#84ff7b 100%)"></div><div style="background:linear-gradient(90deg,#940000 0%,#980000 1.4%,#a00 3.3%,#c50000 5.2%,#fa0000 8.5%,#ff0300 9%,#ff2d00 11.8%,#ff5600 15.1%,#ff7800 18.4%,#ff9800 22.2%,#ffb500 26.4%,#ffd000 31.1%,#ffe800 36.3%,#ff0 42.5%,#df2 53.3%,#beff41 66.5%,#a0ff5f 82.1%,#84ff7b 100%)"></div><div style="background:linear-gradient(90deg,#910000 0%,#960000 1.4%,#a80000 3.3%,#bc0000 4.7%,#ff0200 9%,#ff2c00 11.8%,#f50 15.1%,#f70 18.4%,#ff9700 22.2%,#ffb500 26.4%,#ffcf00 31.1%,#ffe700 36.3%,#ff0 42.5%,#df2 53.3%,#beff41 66.5%,#a0ff5f 82.1%,#84ff7b 100%)"></div><div style="background:linear-gradient(90deg,#8f0000 0%,#930000 1.4%,#a60000 3.3%,#c10000 5.2%,#f00 9%,#ff2b00 11.8%,#ff5400 15.1%,#f70 18.4%,#ff9700 22.2%,#ffb400 26.4%,#ffcf00 31.1%,#ffe700 36.3%,#ff0 42.5%,#dcff23 53.8%,#bdff42 67%,#a0ff5f 82.1%,#84ff7b 100%)"></div><div style="background:linear-gradient(90deg,#8c0000 0%,#910000 1.4%,#a40000 3.3%,#c00000 5.2%,#fe0000 9%,#ff3000 12.3%,#ff5400 15.1%,#ff7600 18.4%,#ff9600 22.2%,#ffb400 26.4%,#ffce00 31.1%,#ffe700 36.3%,#fffe00 42.5%,#dbff24 54.2%,#bdff42 67%,#a0ff5f 82.1%,#84ff7b 100%)"></div><div style="background:linear-gradient(90deg,#8a0000 0%,#8f0000 1.4%,#9c0000 2.8%,#b70000 4.7%,#fd0000 9%,#ff0600 9.4%,#ff3000 12.3%,#ff5800 15.6%,#ff7a00 18.9%,#f90 22.6%,#ffb600 26.9%,#ffd000 31.6%,#ffe800 36.8%,#fffe00 42.5%,#dbff24 54.2%,#bdff42 67%,#a0ff5f 82.1%,#84ff7b 100%)"></div><div style="background:linear-gradient(90deg,#800 0%,#8d0000 1.4%,#9b0000 2.8%,#b50000 4.7%,#fd0000 9%,#ff0500 9.4%,#ff2f00 12.3%,#ff5800 15.6%,#ff7a00 18.9%,#f90 22.6%,#ffb600 26.9%,#ffd000 31.6%,#ffe800 36.8%,#fffe00 42.5%,#dbff24 54.2%,#bdff42 67%,#a0ff5f 82.1%,#84ff7b 100%)"></div><div style="background:linear-gradient(90deg,#860000 0%,#8b0000 1.4%,#900 2.8%,#b40000 4.7%,#fc0000 9%,#ff0500 9.4%,#ff2f00 12.3%,#ff5800 15.6%,#ff7900 18.9%,#f90 22.6%,#ffb600 26.9%,#ffd000 31.6%,#ffe800 36.8%,#fffe00 42.5%,#dcff23 54.2%,#bdff42 67%,#a0ff5f 82.1%,#84ff7b 100%)"></div><div style="background:linear-gradient(90deg,#850000 0%,#8a0000 1.4%,#970000 2.8%,#b30000 4.7%,#fb0000 9%,#ff0400 9.4%,#ff2e00 12.3%,#ff5700 15.6%,#ff7900 18.9%,#ff9800 22.6%,#ffb500 26.9%,#ffd000 31.6%,#ffea00 37.3%,#ff0 42.9%,#df2 53.8%,#bdff42 67%,#a0ff5f 82.1%,#84ff7b 100%)"></div><div style="background:linear-gradient(90deg,#830000 0%,#800 1.4%,#910000 2.4%,#9c0000 3.3%,#b20000 4.7%,#fb0000 9%,#ff0300 9.4%,#ff2e00 12.3%,#ff5700 15.6%,#ff7800 18.9%,#ff9800 22.6%,#ffb500 26.9%,#ffcf00 31.6%,#ffe900 37.3%,#ff0 42.9%,#df2 53.8%,#bdff42 67%,#a0ff5f 82.1%,#84ff7b 100%)"></div><div style="background:linear-gradient(90deg,#820000 0%,#870000 1.4%,#8f0000 2.4%,#9b0000 3.3%,#b10000 4.7%,#fa0000 9%,#ff0300 9.4%,#ff2d00 12.3%,#ff5600 15.6%,#ff7800 18.9%,#ff9800 22.6%,#ffb500 26.9%,#ffcf00 31.6%,#ffe700 36.8%,#ff0 42.9%,#df2 53.8%,#bdff42 67%,#a0ff5f 82.1%,#84ff7b 100%)"></div><div style="background:linear-gradient(90deg,#810000 0%,#860000 1.4%,#8f0000 2.4%,#9a0000 3.3%,#b00000 4.7%,#fa0000 9%,#ff0300 9.4%,#ff2d00 12.3%,#ff5600 15.6%,#ff7800 18.9%,#ff9700 22.6%,#ffb400 26.9%,#ffcf00 31.6%,#ffe700 36.8%,#ff0 42.9%,#df2 53.8%,#bdff42 67%,#a0ff5f 82.1%,#84ff7b 100%)"></div><div style="background:linear-gradient(90deg,#800000 0%,#850000 1.4%,#8e0000 2.4%,#9a0000 3.3%,#b00000 4.7%,#fa0000 9%,#ff0200 9.4%,#ff2d00 12.3%,#ff5600 15.6%,#ff7800 18.9%,#ff9700 22.6%,#ffb400 26.9%,#ffcf00 31.6%,#ffe700 36.8%,#ff0 42.9%,#dcff23 54.2%,#bdff42 67%,#a0ff5f 82.1%,#84ff7b 100%)"></div><div style="background:linear-gradient(90deg,#800000 0%,#850000 1.4%,#930000 2.8%,#a80000 4.2%,#f20000 8.5%,#ff0200 9.4%,#ff2d00 12.3%,#ff5600 15.6%,#ff7800 18.9%,#ff9700 22.6%,#ffb400 26.9%,#ffcf00 31.6%,#ffe700 36.8%,#ff0 42.9%,#dcff23 54.2%,#bdff42 67%,#a0ff5f 82.1%,#84ff7b 100%)"></div><div style="background:linear-gradient(90deg,#800000 0%,#840000 1.4%,#930000 2.8%,#a80000 4.2%,#f20000 8.5%,#ff0200 9.4%,#ff2d00 12.3%,#ff5600 15.6%,#ff7800 18.9%,#ff9700 22.6%,#ffb400 26.9%,#ffce00 31.6%,#ffe700 36.8%,#ff0 42.9%,#dcff23 54.2%,#bdff42 67%,#a0ff5f 82.1%,#84ff7b 100%)"></div><div style="background:linear-gradient(90deg,#800000 0%,#840000 1.4%,#930000 2.8%,#b00000 4.7%,#fa0000 9%,#ff0300 9.4%,#ff2d00 12.3%,#ff5600 15.6%,#ff7800 18.9%,#ff9700 22.6%,#ffb400 26.9%,#ffce00 31.6%,#ffe700 36.8%,#ff0 42.9%,#dcff23 54.2%,#bdff42 67%,#a0ff5f 82.1%,#84ff7b 100%)"></div><div style="background:linear-gradient(90deg,#800000 0%,#850000 1.4%,#930000 2.8%,#b00000 4.7%,#fa0000 9%,#ff0300 9.4%,#ff2e00 12.3%,#ff5600 15.6%,#ff7800 18.9%,#ff9700 22.6%,#ffb400 26.9%,#ffce00 31.6%,#ffe700 36.8%,#fffe00 42.9%,#dbff24 54.7%,#bdff42 67.5%,#a0ff5f 82.5%,#84ff7b 100%)"></div><div style="background:linear-gradient(90deg,#800000 0%,#850000 1.4%,#940000 2.8%,#b10000 4.7%,#fb0000 9%,#ff0400 9.4%,#ff2e00 12.3%,#ff5700 15.6%,#ff7800 18.9%,#ff9700 22.6%,#ffb400 26.9%,#ffce00 31.6%,#ffe600 36.8%,#fffe00 42.9%,#dbff24 54.7%,#bdff42 67.5%,#a0ff5f 82.5%,#84ff7b 100%)"></div><div style="background:linear-gradient(90deg,#800000 0%,#850000 1.4%,#940000 2.8%,#b10000 4.7%,#fb0000 9%,#ff0400 9.4%,#ff2e00 12.3%,#ff5700 15.6%,#ff7800 18.9%,#ff9700 22.6%,#ffb400 26.9%,#ffce00 31.6%,#ffe600 36.8%,#fffe00 42.9%,#dbff24 54.7%,#bdff42 67.5%,#a0ff5f 82.5%,#84ff7b 100%)"></div><div style="background:linear-gradient(90deg,#800000 0%,#860000 1.4%,#950000 2.8%,#b20000 4.7%,#fc0000 9%,#ff0500 9.4%,#ff2f00 12.3%,#ff5700 15.6%,#ff7800 18.9%,#ff9700 22.6%,#ffb400 26.9%,#ffce00 31.6%,#ffe600 36.8%,#fffe00 42.9%,#dbff24 54.7%,#bdff42 67.5%,#a0ff5f 82.5%,#84ff7b 100%)"></div><div style="background:linear-gradient(90deg,#810000 0%,#860000 1.4%,#950000 2.8%,#b20000 4.7%,#fc0000 9%,#ff0500 9.4%,#ff2f00 12.3%,#ff5800 15.6%,#ff7900 18.9%,#ff9800 22.6%,#ffb400 26.9%,#ffce00 31.6%,#ffe600 36.8%,#fffe00 42.9%,#dbff24 54.7%,#bdff42 67.5%,#a0ff5f 82.5%,#84ff7b 100%)"></div><div style="background:linear-gradient(90deg,#810000 0%,#870000 1.4%,#960000 2.8%,#b30000 4.7%,#fd0000 9%,#ff0600 9.4%,#ff3000 12.3%,#ff5800 15.6%,#ff7900 18.9%,#ff9800 22.6%,#ffb400 26.9%,#ffce00 31.6%,#ffe600 36.8%,#fffe00 42.9%,#dbff24 54.7%,#bdff42 67.5%,#a0ff5f 82.5%,#84ff7b 100%)"></div><div style="background:linear-gradient(90deg,#820000 0%,#800 1.4%,#970000 2.8%,#ac0000 4.2%,#fe0000 9%,#ff3000 12.3%,#ff5300 15.1%,#ff7500 18.4%,#ff9400 22.2%,#ffb100 26.4%,#fc0 31.1%,#ffe600 36.8%,#fffe00 42.9%,#dbff24 54.7%,#bdff42 67.5%,#a0ff5f 82.5%,#84ff7b 100%)"></div><div style="background:linear-gradient(90deg,#830000 0%,#890000 1.4%,#980000 2.8%,#ad0000 4.2%,#f00 9%,#ff3100 12.3%,#ff5400 15.1%,#ff7500 18.4%,#ff9500 22.2%,#ffb200 26.4%,#fc0 31.1%,#ffe600 36.8%,#fffe00 42.9%,#dbff24 54.7%,#bdff42 67.5%,#a0ff5f 82.5%,#84ff7b 100%)"></div><div style="background:linear-gradient(90deg,#850000 0%,#8a0000 1.4%,#900 2.8%,#ae0000 4.2%,#ff0100 9%,#ff2b00 11.8%,#ff5400 15.1%,#ff7600 18.4%,#ff9500 22.2%,#ffb200 26.4%,#fc0 31.1%,#ffe700 36.8%,#fffe00 42.9%,#dbff24 54.7%,#bdff42 67.5%,#a0ff5f 82.5%,#84ff7b 100%)"></div><div style="background:linear-gradient(90deg,#870000 0%,#8c0000 1.4%,#9b0000 2.8%,#b00000 4.2%,#f10000 8%,#ff0200 9%,#ff2c00 11.8%,#f50 15.1%,#ff7600 18.4%,#ff9500 22.2%,#ffb200 26.4%,#fc0 31.1%,#ffe700 36.8%,#fffe00 42.9%,#dbff24 54.7%,#bdff42 67.5%,#a0ff5f 82.5%,#84ff7b 100%)"></div><div style="background:linear-gradient(90deg,#890000 0%,#8e0000 1.4%,#9d0000 2.8%,#ba0000 4.7%,#fa0000 8.5%,#ff0300 9%,#ff2d00 11.8%,#ff5600 15.1%,#f70 18.4%,#ff9600 22.2%,#ffb200 26.4%,#ffcd00 31.1%,#ffe700 36.8%,#fffe00 42.9%,#dbff24 54.7%,#bdff42 67.5%,#a0ff5f 82.5%,#84ff7b 100%)"></div><div style="background:linear-gradient(90deg,#8b0000 0%,#910000 1.4%,#9f0000 2.8%,#b00 4.7%,#fc0000 8.5%,#ff0400 9%,#ff2e00 11.8%,#ff5600 15.1%,#f70 18.4%,#ff9600 22.2%,#ffb300 26.4%,#ffcd00 31.1%,#ffe700 36.8%,#fffe00 42.9%,#dbff24 54.7%,#bdff42 67.5%,#a0ff5f 82.5%,#84ff7b 100%)"></div><div style="background:linear-gradient(90deg,#8e0000 0%,#930000 1.4%,#a10000 2.8%,#bd0000 4.7%,#fd0000 8.5%,#ff0600 9%,#ff2f00 11.8%,#ff5700 15.1%,#ff7800 18.4%,#ff9700 22.2%,#ffb300 26.4%,#ffcf00 31.6%,#ffe700 36.8%,#fffe00 42.9%,#dbff24 54.7%,#bdff42 67.5%,#a0ff5f 82.5%,#84ff7b 100%)"></div><div style="background:linear-gradient(90deg,#910000 0%,#960000 1.4%,#a40000 2.8%,#c00000 4.7%,#f00 8.5%,#ff3100 11.8%,#ff5300 14.6%,#ff7500 17.9%,#ff9400 21.7%,#ffb000 25.9%,#ffcd00 31.1%,#ffe700 36.8%,#fffe00 42.9%,#dbff24 54.7%,#bdff42 67.5%,#a0ff5f 82.5%,#84ff7b 100%)"></div><div style="background:linear-gradient(90deg,#940000 0%,#900 1.4%,#a70000 2.8%,#b00 4.2%,#ff0200 8.5%,#ff2c00 11.3%,#ff5400 14.6%,#ff7500 17.9%,#ff9400 21.7%,#ffb100 25.9%,#ffcd00 31.1%,#ffe700 36.8%,#ff0 42.9%,#dbff24 54.7%,#bdff42 67.5%,#a0ff5f 82.5%,#84ff7b 100%)"></div><div style="background:linear-gradient(90deg,#970000 0%,#9c0000 1.4%,#a00 2.8%,#c50000 4.7%,#fb0000 8%,#ff0400 8.5%,#ff2d00 11.3%,#f50 14.6%,#ff7600 17.9%,#ff9500 21.7%,#ffb100 25.9%,#ffce00 31.1%,#ffe700 36.8%,#ff0 42.9%,#df2 54.2%,#bdff42 67.5%,#a0ff5f 82.5%,#84ff7b 100%)"></div><div style="background:linear-gradient(90deg,#9b0000 0%,#9f0000 1.4%,#ad0000 2.8%,#c80000 4.7%,#fd0000 8%,#ff0600 8.5%,#ff2f00 11.3%,#ff5700 14.6%,#f70 17.9%,#ff9600 21.7%,#ffb200 25.9%,#ffce00 31.1%,#ffe800 36.8%,#ff0 42.9%,#df2 54.2%,#bdff42 67.5%,#a0ff5f 82.5%,#84ff7b 100%)"></div><div style="background:linear-gradient(90deg,#9e0000 0%,#a30000 1.4%,#b00000 2.8%,#c30000 4.2%,#ff0100 8%,#ff2a00 10.8%,#ff5300 14.2%,#ff7800 17.9%,#ff9600 21.7%,#ffb200 25.9%,#ffce00 31.1%,#ffe800 36.8%,#ff0 42.9%,#df2 54.2%,#bdff42 67.5%,#a0ff5f 82.5%,#84ff7b 100%)"></div><div style="background:linear-gradient(90deg,#a20000 0%,#a70000 1.4%,#b40000 2.8%,#ce0000 4.7%,#fb0000 7.5%,#ff0300 8%,#ff3200 11.3%,#ff5400 14.2%,#ff7900 17.9%,#ff9700 21.7%,#ffb300 25.9%,#ffcf00 31.1%,#ffe800 36.8%,#ff0 42.9%,#df2 54.2%,#bdff42 67.5%,#a0ff5f 82.5%,#84ff7b 100%)"></div><div style="background:linear-gradient(90deg,#a60000 0%,#ab0000 1.4%,#b80000 2.8%,#d10000 4.7%,#fd0000 7.5%,#ff0500 8%,#ff3400 11.3%,#ff5600 14.2%,#ff7a00 17.9%,#ff9800 21.7%,#ffb300 25.9%,#ffcf00 31.1%,#ffe800 36.8%,#ff0 42.9%,#df2 54.2%,#bdff42 67.5%,#a0ff5f 82.5%,#84ff7b 100%)"></div><div style="background:linear-gradient(90deg,#a00 0%,#af0000 1.4%,#b00 2.8%,#cd0000 4.2%,#ff0100 7.5%,#ff3000 10.8%,#ff5700 14.2%,#f70 17.5%,#ff9500 21.2%,#ffb100 25.5%,#ffcd00 30.7%,#ffe600 36.3%,#ff0 42.9%,#df2 54.2%,#bdff42 67.5%,#a0ff5f 82.5%,#84ff7b 100%)"></div><div style="background:linear-gradient(90deg,#ae0000 0%,#b30000 1.4%,#bf0000 2.8%,#d10000 4.2%,#fb0000 7.1%,#ff0400 7.5%,#ff3200 10.8%,#ff5900 14.2%,#ff7900 17.5%,#ff9600 21.2%,#ffb200 25.5%,#ffce00 30.7%,#ffe900 36.8%,#ff0 42.9%,#df2 54.2%,#bdff42 67.5%,#a0ff5f 82.5%,#84ff7b 100%)"></div><div style="background:linear-gradient(90deg,#b30000 0%,#b70000 1.4%,#c30000 2.8%,#d50000 4.2%,#fe0000 7.1%,#ff2e00 10.4%,#ff5600 13.7%,#ff7a00 17.5%,#ff9700 21.2%,#ffb500 25.9%,#ffd000 31.1%,#ffe900 36.8%,#ff0 42.9%,#df2 54.2%,#bdff42 67.5%,#a0ff5f 82.5%,#84ff7b 100%)"></div><div style="background:linear-gradient(90deg,#b80000 0%,#bc0000 1.4%,#c80000 2.8%,#d90000 4.2%,#fb0000 6.6%,#ff0300 7.1%,#ff3100 10.4%,#ff5700 13.7%,#f70 17%,#ff9500 20.8%,#ffb000 25%,#fc0 30.2%,#ffe500 35.8%,#fffe00 42.5%,#dbff24 54.7%,#bdff42 67.5%,#a0ff5f 82.5%,#84ff7b 100%)"></div><div style="background:linear-gradient(90deg,#bd0000 0%,#bf0000 .9%,#c80000 2.4%,#d00 4.2%,#fe0000 6.6%,#ff0600 7.1%,#f30 10.4%,#ff5900 13.7%,#ff7900 17%,#ff9600 20.8%,#ffb100 25%,#ffcd00 30.2%,#ffe600 35.8%,#fffe00 42.5%,#dbff24 54.7%,#bdff42 67.5%,#a0ff5f 82.5%,#84ff7b 100%)"></div><div style="background:linear-gradient(90deg,#c20000 0%,#c40000 .9%,#cd0000 2.4%,#dc0000 3.8%,#fb0000 6.1%,#ff0300 6.6%,#ff3000 9.9%,#ff5700 13.2%,#ff7a00 17%,#ff9700 20.8%,#ffb200 25%,#ffcd00 30.2%,#ffe600 35.8%,#fffe00 42.5%,#dbff24 54.7%,#bdff42 67.5%,#a0ff5f 82.5%,#84ff7b 100%)"></div><div style="background:linear-gradient(90deg,#c80000 0%,#c90000 .9%,#d20000 2.4%,#e00000 3.8%,#f00 6.1%,#f30 9.9%,#ff5900 13.2%,#ff7800 16.5%,#ff9500 20.3%,#ffb300 25%,#ffce00 30.2%,#ffe600 35.8%,#fffe00 42.5%,#dbff24 54.7%,#bdff42 67.5%,#a0ff5f 82.5%,#84ff7b 100%)"></div><div style="background:linear-gradient(90deg,#cd0000 0%,#cf0000 .9%,#d70000 2.4%,#e50000 3.8%,#fd0000 5.7%,#ff0400 6.1%,#ff3600 9.9%,#ff5b00 13.2%,#ff7900 16.5%,#ff9600 20.3%,#ffb300 25%,#ffce00 30.2%,#ffe600 35.8%,#fffe00 42.5%,#df2 54.2%,#bdff42 67.5%,#a0ff5f 82.5%,#84ff7b 100%)"></div><div style="background:linear-gradient(90deg,#d20000 0%,#d40000 .9%,#dc0000 2.4%,#ff0200 5.7%,#f30 9.4%,#ff5800 12.7%,#ff7b00 16.5%,#ff9700 20.3%,#ffb400 25%,#ffcf00 30.2%,#ffe700 35.8%,#ff0 42.5%,#dcff23 54.2%,#bdff42 67.5%,#a0ff5f 82.5%,#84ff7b 100%)"></div><div style="background:linear-gradient(90deg,#d80000 0%,#d90000 .9%,#e10000 2.4%,#e00 3.8%,#f00 5.2%,#ff3b00 9.9%,#ff5a00 12.7%,#ff7900 16%,#ff9500 19.8%,#ffb200 24.5%,#ffcd00 29.7%,#ffe700 35.8%,#ff0 42.5%,#dcff23 54.2%,#bdff42 67.5%,#a0ff5f 82.5%,#84ff7b 100%)"></div><div style="background:linear-gradient(90deg,#d00 0%,#de0000 .9%,#e60000 2.4%,#fd0000 4.7%,#ff0400 5.2%,#ff4300 10.4%,#ff6500 13.7%,#ff8900 17.9%,#ffa800 22.6%,#ffc000 26.9%,#ffd600 31.6%,#ff0 42.5%,#dcff23 54.2%,#bdff42 67.5%,#a0ff5f 82.5%,#84ff7b 100%)"></div><div style="background:linear-gradient(90deg,#e20000 0%,#e80000 1.9%,#fc0000 4.2%,#ff0300 4.7%,#ff4100 9.9%,#ff6300 13.2%,#ff8700 17.5%,#ffa600 22.2%,#ffbe00 26.4%,#ffd400 31.1%,#ff0 42.5%,#dcff23 54.2%,#bdff42 67.5%,#a0ff5f 82.5%,#84ff7b 100%)"></div><div style="background:linear-gradient(90deg,#e80000 0%,#ed0000 1.9%,#ff0200 4.2%,#f40 9.9%,#ff6500 13.2%,#ff8500 17%,#ffa500 21.7%,#ffbc00 25.9%,#ffd500 31.1%,#ffeb00 36.8%,#ff0 42.5%,#dcff23 54.2%,#bdff42 67.5%,#a0ff5f 82.5%,#84ff7b 100%)"></div><div style="background:linear-gradient(90deg,#ed0000 0%,#f00000 1.4%,#ff0200 3.8%,#ff4600 9.9%,#ff6700 13.2%,#ff8600 17%,#ffa300 21.2%,#fb0 25.5%,#ffd300 30.7%,#fffe00 42%,#daff25 55.2%,#bcff43 67.9%,#9fff60 83%,#84ff7b 100%)"></div><div style="background:linear-gradient(90deg,#f30000 0%,#f60000 1.4%,#fe0000 2.8%,#ff0300 3.3%,#ff1500 5.2%,#ff4e00 10.4%,#ff6500 12.7%,#ff8500 16.5%,#ffa100 20.8%,#ffb900 25%,#ffd100 30.2%,#ffe800 35.8%,#fffe00 42%,#dbff24 54.7%,#bcff43 67.9%,#9fff60 83%,#84ff7b 100%)"></div><div style="background:linear-gradient(90deg,#f90000 0%,#fd0000 1.9%,#ff0800 3.3%,#ff6800 12.7%,#ff8600 16.5%,#ff9f00 20.3%,#ffb700 24.5%,#ffd000 29.7%,#ffe700 35.4%,#fffe00 42%,#dbff24 54.7%,#bcff43 67.9%,#9fff60 83%,#84ff7b 100%)"></div><div style="background:linear-gradient(90deg,#fe0000 0%,#ff0200 1.4%,#ff0d00 3.3%,#ff1e00 5.2%,#ff4f00 9.9%,#ff6a00 12.7%,#f80 16.5%,#ffa100 20.3%,#ffb800 24.5%,#ffd000 29.7%,#ffe700 35.4%,#fffe00 42%,#dbff24 54.7%,#bcff43 67.9%,#9fff60 83%,#84ff7b 100%)"></div><div style="background:linear-gradient(90deg,#ff0500 0%,#ff0800 1.4%,#ff1200 3.3%,#ff2300 5.2%,#ff5200 9.9%,#ff6c00 12.7%,#ff8a00 16.5%,#ffa200 20.3%,#fb0 25%,#ffd300 30.2%,#fffe00 42%,#dbff24 54.7%,#bdff42 67.9%,#9fff60 83%,#84ff7b 100%)"></div><div style="background:linear-gradient(90deg,#ff0b00 0%,#ff0d00 1.4%,#ff1700 3.3%,#ff2700 5.2%,#ff5600 9.9%,#ff6f00 12.7%,#ff8b00 16.5%,#ffa300 20.3%,#ffbc00 25%,#ffd300 30.2%,#fffe00 42%,#dbff24 54.7%,#bdff42 67.9%,#9fff60 83%,#84ff7b 100%)"></div><div style="background:linear-gradient(90deg,#ff1000 0%,#ff1400 1.9%,#ff2000 3.8%,#ff7100 12.7%,#ff8d00 16.5%,#ffa400 20.3%,#ffbd00 25%,#ffd400 30.2%,#ff0 42%,#dbff24 54.7%,#bdff42 67.9%,#a0ff5f 83%,#84ff7b 100%)"></div><div style="background:linear-gradient(90deg,#ff1600 0%,#ff1a00 1.9%,#ff2500 3.8%,#f70 13.2%,#ff8f00 16.5%,#ffa500 20.3%,#ffbe00 25%,#ffd400 30.2%,#ff0 42%,#dcff23 54.2%,#bdff42 67.9%,#a0ff5f 83%,#84ff7b 100%)"></div><div style="background:linear-gradient(90deg,#ff1b00 0%,#ff1f00 1.9%,#ff2a00 3.8%,#ff7900 13.2%,#ff9300 17%,#ffa900 20.8%,#ffd500 30.2%,#ff0 42%,#dcff23 54.2%,#bdff42 67.9%,#a0ff5f 83%,#84ff7b 100%)"></div><div style="background:linear-gradient(90deg,#ff2100 0%,#ff2400 1.9%,#ff2f00 3.8%,#ff7b00 13.2%,#ff9500 17%,#fa0 20.8%,#ffd500 30.2%,#ff0 42%,#dcff23 54.2%,#bdff42 67.9%,#a0ff5f 83%,#84ff7b 100%)"></div><div style="background:linear-gradient(90deg,#ff2600 0%,#ff2a00 1.9%,#f30 3.8%,#ff7e00 13.2%,#ff9600 17%,#ffab00 20.8%,#ffd600 30.2%,#ff0 42%,#dcff23 54.2%,#bdff42 67.9%,#a0ff5f 83%,#84ff7b 100%)"></div><div style="background:linear-gradient(90deg,#ff2b00 0%,#ff2f00 1.9%,#ff3800 3.8%,#ff8000 13.2%,#ff9800 17%,#ffac00 20.8%,#ffd600 30.2%,#ff0 42%,#df2 54.2%,#bdff42 67.9%,#a0ff5f 83%,#84ff7b 100%)"></div><div style="background:linear-gradient(90deg,#ff3000 0%,#ff3400 1.9%,#ff3d00 3.8%,#ff8500 13.7%,#ffb000 21.2%,#ffd800 30.7%,#ff0 42%,#df2 54.2%,#bdff42 67.9%,#a0ff5f 83%,#84ff7b 100%)"></div><div style="background:linear-gradient(90deg,#ff3500 0%,#ff3800 1.9%,#ff4100 3.8%,#ff8700 13.7%,#ffb100 21.2%,#ffd900 30.7%,#ff0 42%,#df2 54.2%,#bdff42 67.9%,#a0ff5f 83%,#84ff7b 100%)"></div><div style="background:linear-gradient(90deg,#ff3a00 0%,#ff3d00 1.9%,#ff4500 3.8%,#ff8b00 14.2%,#ffb400 21.7%,#ffdb00 31.1%,#ff0 42%,#dbff24 54.7%,#bcff43 68.4%,#9fff60 83.5%,#84ff7b 100%)"></div><div style="background:linear-gradient(90deg,#ff3e00 0%,#ff4100 1.9%,#ff4c00 4.2%,#ff8d00 14.2%,#ffb400 21.7%,#ffdb00 31.1%,#ff0 42%,#dbff24 54.7%,#bcff43 68.4%,#9fff60 83.5%,#84ff7b 100%)"></div><div style="background:linear-gradient(90deg,#ff4300 0%,#ff4500 1.9%,#ff4f00 4.2%,#ff8f00 14.2%,#ffb700 22.2%,#fd0 31.6%,#ff0 42%,#dcff23 54.7%,#bcff43 68.4%,#9fff60 83.5%,#84ff7b 100%)"></div><div style="background:linear-gradient(90deg,#ff4600 0%,#ff4900 1.9%,#ff5300 4.2%,#ff9000 14.2%,#ffb800 22.2%,#fd0 31.6%,#ff0 42%,#dcff23 54.7%,#bcff43 68.4%,#9fff60 83.5%,#84ff7b 100%)"></div><div style="background:linear-gradient(90deg,#ff4a00 0%,#ff4d00 1.9%,#ff5600 4.2%,#ff9400 14.6%,#ffb900 22.2%,#ffde00 31.6%,#ff0 42%,#dcff23 54.7%,#bcff43 68.4%,#9fff60 83.5%,#84ff7b 100%)"></div><div style="background:linear-gradient(90deg,#ff4d00 0%,#ff5000 1.9%,#ff5900 4.2%,#ff9600 14.6%,#fb0 22.6%,#ffdf00 32.1%,#ff0 42%,#dcff23 54.7%,#bcff43 68.4%,#9fff60 83.5%,#84ff7b 100%)"></div><div style="background:linear-gradient(90deg,#ff5100 0%,#ff5300 1.9%,#ff5c00 4.2%,#ff9700 14.6%,#ffbc00 22.6%,#ffe000 32.1%,#ff0 42%,#dcff23 54.7%,#bf4 68.9%,#9fff60 83.5%,#84ff7b 100%)"></div><div style="background:linear-gradient(90deg,#ff5400 0%,#ff5600 1.9%,#ff5f00 4.2%,#ff9800 14.6%,#ffbd00 22.6%,#ffe000 32.1%,#ff0 42%,#dcff23 54.7%,#bf4 68.9%,#9fff60 83.5%,#84ff7b 100%)"></div><div style="background:linear-gradient(90deg,#ff5700 0%,#ff5900 1.9%,#ff6200 4.2%,#f90 14.6%,#ffbd00 22.6%,#ffe000 32.1%,#ff0 42%,#dbff24 55.2%,#bf4 68.9%,#9fff60 83.5%,#84ff7b 100%)"></div><div style="background:linear-gradient(90deg,#ff5900 0%,#ff5c00 1.9%,#ff6400 4.2%,#ff9d00 15.1%,#ffc000 23.1%,#ffe200 32.5%,#ff0 42%,#dbff24 55.2%,#bf4 68.9%,#9fff60 83.5%,#84ff7b 100%)"></div><div style="background:linear-gradient(90deg,#ff5c00 0%,#ff5f00 1.9%,#ff6700 4.2%,#ff9e00 15.1%,#ffc000 23.1%,#ffe200 32.5%,#ff0 42%,#dbff24 55.2%,#bf4 68.9%,#9fff60 83.5%,#84ff7b 100%)"></div><div style="background:linear-gradient(90deg,#ff5f00 0%,#ff6100 1.9%,#ff6900 4.2%,#ff9f00 15.1%,#ffc100 23.1%,#ffe200 32.5%,#ff0 42%,#dbff24 55.2%,#bf4 68.9%,#9fff60 83.5%,#84ff7b 100%)"></div><div style="background:linear-gradient(90deg,#ff6200 0%,#ff6400 1.9%,#ff6c00 4.2%,#ffa000 15.1%,#ffc300 23.6%,#ffe400 33%,#ff0 42%,#dbff24 55.2%,#bcff43 68.9%,#9fff60 83.5%,#84ff7b 100%)"></div><div style="background:linear-gradient(90deg,#ff6500 0%,#ff6700 1.9%,#ff6f00 4.2%,#ffa200 15.1%,#ffc400 23.6%,#ffe400 33%,#ff0 42%,#dbff24 55.2%,#bf4 69.3%,#9eff61 84%,#84ff7b 100%)"></div><div style="background:linear-gradient(90deg,#ff6700 0%,#ff6900 1.9%,#ff7100 4.2%,#ffa300 15.1%,#ffc600 24.1%,#ffe600 33.5%,#ff0 42%,#dbff24 55.2%,#bf4 69.3%,#9eff61 84%,#84ff7b 100%)"></div><div style="background:linear-gradient(90deg,#ff6a00 0%,#ff6c00 1.9%,#ff7400 4.2%,#ffa600 15.6%,#ffc600 24.1%,#ffe600 33.5%,#ff0 42%,#dbff24 55.2%,#bf4 69.3%,#9eff61 84%,#84ff7b 100%)"></div><div style="background:linear-gradient(90deg,#ff6d00 0%,#ff6f00 1.9%,#ff7600 4.2%,#ffa700 15.6%,#ffc800 24.5%,#feff01 42%,#daff25 55.7%,#bf4 69.3%,#9eff61 84%,#84ff7b 100%)"></div><div style="background:linear-gradient(90deg,#ff6f00 0%,#ff7100 1.9%,#ff7900 4.2%,#ffa800 15.6%,#ffca00 25%,#feff01 42%,#daff25 55.7%,#bf4 69.3%,#9eff61 84%,#84ff7b 100%)"></div><div style="background:linear-gradient(90deg,#ff7200 0%,#ff7400 1.9%,#ff7900 3.8%,#ffbf00 21.7%,#ffe300 32.5%,#feff01 42%,#daff25 55.7%,#bf4 69.3%,#9eff61 84%,#84ff7b 100%)"></div><div style="background:linear-gradient(90deg,#ff7400 0%,#ff7c00 3.8%,#ffc200 22.2%,#ffe500 33%,#feff01 42%,#daff25 55.7%,#bf4 69.3%,#9eff61 84%,#84ff7b 100%)"></div><div style="background:linear-gradient(90deg,#f70 0%,#ff7e00 3.8%,#ffc200 22.2%,#ffe500 33%,#feff01 42%,#daff25 55.7%,#bf4 69.3%,#9eff61 84%,#84ff7b 100%)"></div><div style="background:linear-gradient(90deg,#ff7a00 0%,#ff8000 3.8%,#ffc400 22.6%,#feff01 42%,#daff25 55.7%,#baff45 69.8%,#9eff61 84.4%,#84ff7b 100%)"></div><div style="background:linear-gradient(90deg,#ff7c00 0%,#ff7e00 1.9%,#ff8400 4.2%,#ffc300 22.2%,#fffe00 41.5%,#d8ff27 56.6%,#baff45 69.8%,#9eff61 84.4%,#84ff7b 100%)"></div><div style="background:linear-gradient(90deg,#ff7f00 0%,#ff8000 1.9%,#ff8600 4.2%,#ffc400 22.2%,#fffe00 41.5%,#d8ff27 56.6%,#baff45 69.8%,#9eff61 84.4%,#84ff7b 100%)"></div><div style="background:linear-gradient(90deg,#ff8100 0%,#ff8300 1.9%,#ff8900 4.2%,#ffc600 22.6%,#ff0 41.5%,#d9ff26 56.1%,#baff45 69.8%,#9eff61 84.4%,#84ff7b 100%)"></div><div style="background:linear-gradient(90deg,#ff8400 0%,#ff8500 1.9%,#ff8c00 4.7%,#ffc800 23.1%,#ff0 41.5%,#d9ff26 56.1%,#baff45 69.8%,#9eff61 84.4%,#84ff7b 100%)"></div><div style="background:linear-gradient(90deg,#ff8600 0%,#f80 1.9%,#ff8e00 4.7%,#ffcd00 24.5%,#ff0 41.5%,#d9ff26 56.1%,#baff45 69.8%,#9eff61 84.4%,#84ff7b 100%)"></div><div style="background:linear-gradient(90deg,#ff8900 0%,#ff8b00 2.4%,#ff9200 5.2%,#ff0 41.5%,#d9ff26 56.1%,#baff45 69.8%,#9eff61 84.4%,#84ff7b 100%)"></div><div style="background:linear-gradient(90deg,#ff8b00 0%,#ff8d00 2.4%,#ff9500 5.7%,#ff0 41.5%,#daff25 55.7%,#baff45 69.8%,#9dff62 84.4%,#84ff7b 100%)"></div><div style="background:linear-gradient(90deg,#ff8e00 0%,#ff9000 2.4%,#f90 6.1%,#ff0 41.5%,#d8ff27 56.1%,#b9ff46 69.8%,#9dff62 84.4%,#84ff7b 100%)"></div><div style="background:linear-gradient(90deg,#ff9000 0%,#ff9300 2.8%,#ff9d00 7.1%,#ff0 41.5%,#d8ff27 56.1%,#b9ff46 69.8%,#9dff62 84.4%,#84ff7b 100%)"></div><div style="background:linear-gradient(90deg,#ff9300 0%,#ff9500 2.8%,#ffa200 8%,#feff01 41.5%,#d8ff27 56.1%,#b9ff46 69.8%,#9dff62 84.4%,#84ff7b 100%)"></div><div style="background:linear-gradient(90deg,#ff9500 0%,#f90 3.3%,#ffa800 9.9%,#ff0 41%,#d8ff27 56.1%,#b9ff46 69.8%,#9dff62 84.4%,#84ff7b 100%)"></div><div style="background:linear-gradient(90deg,#ff9800 0%,#ff9c00 3.8%,#ffac00 10.8%,#ff0 41%,#d8ff27 56.1%,#b9ff46 69.8%,#9dff62 84.4%,#84ff7b 100%)"></div><div style="background:linear-gradient(90deg,#ff9a00 0%,#ff9e00 3.8%,#ffb000 11.8%,#ff0 41%,#d8ff27 56.1%,#b9ff46 69.8%,#9dff62 84.4%,#84ff7b 100%)"></div><div style="background:linear-gradient(90deg,#ff9d00 0%,#ffa200 4.2%,#ffb400 12.7%,#feff01 41%,#d8ff27 56.1%,#b9ff46 69.8%,#9dff62 84.4%,#84ff7b 100%)"></div><div style="background:linear-gradient(90deg,#ffa000 0%,#ffa500 4.7%,#ffb800 13.7%,#ff0 40.6%,#d7ff28 56.1%,#b9ff46 69.8%,#9dff62 84.4%,#84ff7b 100%)"></div><div style="background:linear-gradient(90deg,#ffa200 0%,#ffa800 5.2%,#ffba00 14.2%,#ff0 40.6%,#d8ff27 55.7%,#b9ff46 69.8%,#9dff62 84.4%,#84ff7b 100%)"></div><div style="background:linear-gradient(90deg,#ffa500 0%,#fa0 5.2%,#fb0 14.2%,#feff01 40.6%,#d8ff27 55.7%,#b8ff47 69.8%,#9dff62 84.4%,#84ff7b 100%)"></div><div style="background:linear-gradient(90deg,#ffa700 0%,#ffad00 5.7%,#ffbe00 14.6%,#ffd500 24.5%,#ff0 40.1%,#d7ff28 56.1%,#b8ff47 69.8%,#9dff62 84.4%,#84ff7b 100%)"></div><div style="background:linear-gradient(90deg,#fa0 0%,#ffb000 6.1%,#ffc000 15.1%,#ff0 40.1%,#d7ff28 55.7%,#b8ff47 69.8%,#9dff62 84.4%,#84ff7b 100%)"></div><div style="background:linear-gradient(90deg,#ffad00 0%,#ffb200 6.1%,#ffc200 15.1%,#feff01 40.1%,#d7ff28 55.7%,#b8ff47 69.8%,#9dff62 84.4%,#84ff7b 100%)"></div><div style="background:linear-gradient(90deg,#ffaf00 0%,#ffb400 6.1%,#ffc300 15.1%,#ffd800 24.5%,#ff0 39.6%,#d7ff28 55.7%,#b8ff47 69.8%,#9dff62 84.4%,#84ff7b 100%)"></div><div style="background:linear-gradient(90deg,#ffb200 0%,#ffb700 6.6%,#ffc500 15.1%,#ffd900 24.5%,#fffe00 39.2%,#d4ff2b 56.6%,#b7ff48 69.8%,#9cff63 84.4%,#84ff7b 100%)"></div><div style="background:linear-gradient(90deg,#ffb400 0%,#ffb900 7.1%,#ffc700 15.6%,#ffdb00 25%,#ff0 39.2%,#d7ff28 55.2%,#b8ff47 69.3%,#9dff62 84%,#84ff7b 100%)"></div><div style="background:linear-gradient(90deg,#ffb600 0%,#fb0 7.1%,#ffc800 15.6%,#fd0 25%,#ff0 38.7%,#d5ff2a 56.1%,#b7ff48 69.8%,#9cff63 84.4%,#84ff7b 100%)"></div><div style="background:linear-gradient(90deg,#ffb900 0%,#ffbd00 7.1%,#ffca00 15.6%,#fd0 24.5%,#ff0 38.7%,#d6ff29 55.2%,#b8ff47 69.3%,#9dff62 84%,#84ff7b 100%)"></div><div style="background:linear-gradient(90deg,#fb0 0%,#ffbf00 7.1%,#ffcb00 15.6%,#ffdf00 25%,#ff0 38.2%,#d6ff29 55.2%,#b7ff48 69.3%,#9dff62 84%,#84ff7b 100%)"></div><div style="background:linear-gradient(90deg,#ffbd00 0%,#ffc100 7.1%,#ffcd00 15.6%,#ffe000 25%,#ff0 37.7%,#d3ff2c 56.1%,#b6ff49 69.8%,#9cff63 84.4%,#84ff7b 100%)"></div><div style="background:linear-gradient(90deg,#ffbf00 0%,#ffc300 7.1%,#ffcf00 15.6%,#ffe000 24.5%,#ff0 37.7%,#d5ff2a 55.2%,#b7ff48 69.3%,#9cff63 84%,#84ff7b 100%)"></div><div style="background:linear-gradient(90deg,#ffc100 0%,#ffc500 7.1%,#ffd000 15.6%,#ffe200 24.5%,#ff0 37.3%,#d4ff2b 55.2%,#b6ff49 69.3%,#9cff63 84%,#84ff7b 100%)"></div><div style="background:linear-gradient(90deg,#ffc400 0%,#ffc700 7.5%,#ffd200 15.6%,#ffe300 24.5%,#ff0 36.8%,#d4ff2b 55.2%,#b6ff49 69.3%,#9cff63 84%,#84ff7b 100%)"></div><div style="background:linear-gradient(90deg,#ffc600 0%,#ffc900 7.5%,#ffd400 15.6%,#ffe400 24.5%,#ff0 36.3%,#d3ff2c 55.2%,#b6ff49 69.3%,#9cff63 84%,#84ff7b 100%)"></div><div style="background:linear-gradient(90deg,#ffc800 0%,#ffcb00 7.1%,#ffd500 15.1%,#ffe500 24.1%,#ff0 35.8%,#d3ff2c 55.2%,#b5ff4a 69.3%,#9cff63 84%,#84ff7b 100%)"></div><div style="background:linear-gradient(90deg,#ffca00 0%,#ffcd00 7.1%,#ffd600 15.1%,#ffe600 24.1%,#ff0 35.4%,#d2ff2d 55.2%,#b5ff4a 69.3%,#9cff63 84%,#84ff7b 100%)"></div><div style="background:linear-gradient(90deg,#fc0 0%,#ffcf00 7.1%,#ffd800 15.1%,#ffe700 23.6%,#ff0 34.9%,#d1ff2e 55.2%,#b6ff49 68.9%,#9bff64 84%,#84ff7b 100%)"></div><div style="background:linear-gradient(90deg,#ffce00 0%,#ffd100 7.1%,#ffda00 15.1%,#ffe800 23.6%,#ff0 34.4%,#d2ff2d 54.7%,#b5ff4a 68.9%,#9bff64 84%,#84ff7b 100%)"></div><div style="background:linear-gradient(90deg,#ffd000 0%,#ffd300 7.1%,#ffdb00 14.6%,#ffe900 23.1%,#ff0 34%,#d0ff2f 55.2%,#b5ff4a 68.9%,#9bff64 84%,#84ff7b 100%)"></div><div style="background:linear-gradient(90deg,#ffd200 0%,#ffd500 7.1%,#fd0 14.6%,#ffea00 22.6%,#ff0 33.5%,#cfff30 55.2%,#b4ff4b 68.9%,#9bff64 84%,#84ff7b 100%)"></div><div style="background:linear-gradient(90deg,#ffd500 0%,#ffd700 6.6%,#ffde00 14.2%,#ffeb00 22.6%,#ff0 32.5%,#b4ff4b 68.9%,#9aff65 84%,#84ff7b 100%)"></div><div style="background:linear-gradient(90deg,#ffd700 0%,#ffd900 6.6%,#ffe000 14.2%,#ffec00 22.2%,#ff0 32.1%,#b3ff4c 68.9%,#9aff65 84%,#84ff7b 100%)"></div><div style="background:linear-gradient(90deg,#ffd900 0%,#ffdb00 6.6%,#ffe200 13.7%,#ffed00 21.7%,#ff0 31.1%,#b2ff4d 69.3%,#9aff65 84%,#84ff7b 100%)"></div><div style="background:linear-gradient(90deg,#ffdb00 0%,#fd0 6.6%,#ffe400 13.7%,#ff0 30.7%,#b3ff4c 68.9%,#9aff65 84%,#84ff7b 100%)"></div><div style="background:linear-gradient(90deg,#fd0 0%,#ffdf00 6.6%,#ffe500 13.2%,#ff0 29.7%,#b2ff4d 68.9%,#9aff65 84%,#84ff7b 100%)"></div><div style="background:linear-gradient(90deg,#ffdf00 0%,#ffe100 6.1%,#ffe700 12.7%,#ff0 28.8%,#b1ff4e 69.3%,#9f6 84%,#84ff7b 100%)"></div><div style="background:linear-gradient(90deg,#ffe100 0%,#ffe300 6.1%,#ffe900 12.7%,#ff0 27.8%,#b0ff4f 69.3%,#9f6 84%,#84ff7b 100%)"></div><div style="background:linear-gradient(90deg,#ffe400 0%,#ffea00 12.3%,#ff0 26.9%,#b0ff4f 69.3%,#9f6 84%,#84ff7b 100%)"></div><div style="background:linear-gradient(90deg,#ffe600 0%,#ffec00 11.8%,#ff0 25.9%,#afff50 69.3%,#9f6 84%,#83ff7c 100%)"></div><div style="background:linear-gradient(90deg,#ffe800 0%,#ffed00 11.3%,#ff0 25%,#aeff51 69.8%,#98ff67 84.4%,#83ff7c 100%)"></div><div style="background:linear-gradient(90deg,#ffea00 0%,#ffef00 10.8%,#ff0 23.6%,#adff52 70.3%,#97ff68 84.4%,#83ff7c 100%)"></div><div style="background:linear-gradient(90deg,#ffec00 0%,#fff000 9.9%,#ff0 22.6%,#acff53 70.3%,#83ff7c 100%)"></div><div style="background:linear-gradient(90deg,#ffef00 0%,#fff200 9.4%,#ff0 21.2%,#ecff13 33%,#abff54 70.8%,#83ff7c 100%)"></div><div style="background:linear-gradient(90deg,#fff100 0%,#fff400 9%,#ff0 19.8%,#ecff13 32.5%,#af5 71.2%,#83ff7c 100%)"></div><div style="background:linear-gradient(90deg,#fff300 0%,#fff600 8%,#feff01 18.9%,#eaff15 32.5%,#a8ff57 71.7%,#83ff7c 100%)"></div><div style="background:linear-gradient(90deg,#fff500 0%,#fff800 7.5%,#ff0 16%,#fbff04 19.3%,#e8ff17 32.5%,#a8ff57 71.7%,#83ff7c 100%)"></div><div style="background:linear-gradient(90deg,#fff700 0%,#fff900 6.6%,#ff0 14.2%,#f8ff07 20.3%,#e5ff1a 33.5%,#a7ff58 71.7%,#83ff7c 100%)"></div><div style="background:linear-gradient(90deg,#fffa00 0%,#ff0 11.8%,#f5ff0a 20.8%,#e4ff1b 33.5%,#a7ff58 71.7%,#83ff7c 100%)"></div><div style="background:linear-gradient(90deg,#fffc00 0%,#ff0 9%,#f2ff0d 21.7%,#a6ff59 71.7%,#83ff7c 100%)"></div><div style="background:linear-gradient(90deg,#fffe00 0%,#fdff02 9.4%,#efff10 22.6%,#a6ff59 71.7%,#83ff7c 100%)"></div><div style="background:linear-gradient(90deg,#feff01 0%,#faff05 10.4%,#edff12 23.1%,#a4ff5b 72.2%,#83ff7c 100%)"></div><div style="background:linear-gradient(90deg,#fcff03 0%,#f8ff07 10.4%,#ebff14 23.1%,#a4ff5b 72.2%,#83ff7c 100%)"></div><div style="background:linear-gradient(90deg,#f9ff06 0%,#f5ff0a 10.4%,#e8ff17 23.6%,#a3ff5c 72.6%,#83ff7c 100%)"></div><div style="background:linear-gradient(90deg,#f7ff08 0%,#f3ff0c 10.4%,#e6ff19 23.6%,#a2ff5d 72.6%,#83ff7c 100%)"></div><div style="background:linear-gradient(90deg,#f5ff0a 0%,#f1ff0e 10.4%,#e5ff1a 23.6%,#a1ff5e 73.1%,#83ff7c 100%)"></div><div style="background:linear-gradient(90deg,#f3ff0c 0%,#efff10 10.4%,#e2ff1d 24.1%,#a1ff5e 73.1%,#83ff7c 100%)"></div><div style="background:linear-gradient(90deg,#f1ff0e 0%,#edff12 10.4%,#e0ff1f 24.1%,#a0ff5f 73.1%,#83ff7c 100%)"></div><div style="background:linear-gradient(90deg,#efff10 0%,#ebff14 10.4%,#deff21 24.5%,#9fff60 73.6%,#83ff7c 100%)"></div><div style="background:linear-gradient(90deg,#ecff13 0%,#e9ff16 10.4%,#dcff23 24.5%,#9eff61 73.6%,#83ff7c 100%)"></div><div style="background:linear-gradient(90deg,#eaff15 0%,#e6ff19 10.8%,#daff25 25%,#9dff62 74.1%,#83ff7c 100%)"></div><div style="background:linear-gradient(90deg,#e8ff17 0%,#e4ff1b 10.8%,#d8ff27 25%,#9dff62 74.1%,#82ff7d 100%)"></div><div style="background:linear-gradient(90deg,#e7ff18 0%,#e2ff1d 10.8%,#d6ff29 25.5%,#9cff63 74.5%,#82ff7d 100%)"></div><div style="background:linear-gradient(90deg,#e5ff1a 0%,#e0ff1f 10.8%,#d3ff2c 25.9%,#9bff64 74.5%,#82ff7d 100%)"></div><div style="background:linear-gradient(90deg,#e3ff1c 0%,#deff21 11.3%,#d2ff2d 25.9%,#9aff65 75%,#82ff7d 100%)"></div><div style="background:linear-gradient(90deg,#e1ff1e 0%,#dcff23 11.3%,#d0ff2f 26.4%,#9aff65 75%,#82ff7d 100%)"></div><div style="background:linear-gradient(90deg,#dfff20 0%,#daff25 11.3%,#cdff32 26.9%,#9f6 75%,#82ff7d 100%)"></div><div style="background:linear-gradient(90deg,#df2 0%,#d8ff27 11.8%,#cbff34 27.4%,#9f6 75.5%,#82ff7d 100%)"></div><div style="background:linear-gradient(90deg,#dcff23 0%,#d6ff29 11.8%,#c9ff36 27.8%,#98ff67 75.5%,#82ff7d 100%)"></div><div style="background:linear-gradient(90deg,#daff25 0%,#d4ff2b 12.3%,#c7ff38 28.3%,#97ff68 75.9%,#82ff7d 100%)"></div><div style="background:linear-gradient(90deg,#d8ff27 0%,#d2ff2d 12.7%,#c5ff3a 28.8%,#97ff68 75.9%,#82ff7d 100%)"></div><div style="background:linear-gradient(90deg,#d6ff29 0%,#d0ff2f 12.7%,#c3ff3c 29.2%,#96ff69 76.4%,#82ff7d 100%)"></div><div style="background:linear-gradient(90deg,#d5ff2a 0%,#c1ff3e 29.7%,#95ff6a 76.4%,#82ff7d 100%)"></div><div style="background:linear-gradient(90deg,#d3ff2c 0%,#bfff40 30.2%,#95ff6a 76.9%,#82ff7d 100%)"></div><div style="background:linear-gradient(90deg,#d1ff2e 0%,#beff41 30.7%,#94ff6b 76.9%,#82ff7d 100%)"></div><div style="background:linear-gradient(90deg,#d0ff2f 0%,#bcff43 31.1%,#82ff7d 100%)"></div><div style="background:linear-gradient(90deg,#ceff31 0%,#baff45 31.6%,#82ff7d 100%)"></div><div style="background:linear-gradient(90deg,#cf3 0%,#b8ff47 32.1%,#82ff7d 100%)"></div><div style="background:linear-gradient(90deg,#caff35 0%,#b7ff48 32.5%,#82ff7d 100%)"></div><div style="background:linear-gradient(90deg,#c9ff36 0%,#b5ff4a 33%,#82ff7d 100%)"></div><div style="background:linear-gradient(90deg,#c7ff38 0%,#b3ff4c 33.5%,#82ff7d 100%)"></div><div style="background:linear-gradient(90deg,#c6ff39 0%,#b2ff4d 34%,#82ff7d 100%)"></div><div style="background:linear-gradient(90deg,#c4ff3b 0%,#b0ff4f 34.4%,#82ff7d 100%)"></div><div style="background:linear-gradient(90deg,#c2ff3d 0%,#afff50 34.9%,#81ff7e 100%)"></div><div style="background:linear-gradient(90deg,#c1ff3e 0%,#adff52 35.4%,#81ff7e 100%)"></div><div style="background:linear-gradient(90deg,#bfff40 0%,#acff53 35.8%,#81ff7e 100%)"></div><div style="background:linear-gradient(90deg,#beff41 0%,#abff54 36.3%,#81ff7e 100%)"></div><div style="background:linear-gradient(90deg,#bcff43 0%,#a9ff56 36.8%,#81ff7e 100%)"></div><div style="background:linear-gradient(90deg,#baff45 0%,#a8ff57 36.8%,#81ff7e 100%)"></div><div style="background:linear-gradient(90deg,#b9ff46 0%,#a7ff58 37.3%,#81ff7e 100%)"></div><div style="background:linear-gradient(90deg,#b7ff48 0%,#a6ff59 37.3%,#81ff7e 100%)"></div><div style="background:linear-gradient(90deg,#b6ff49 0%,#a5ff5a 37.3%,#81ff7e 100%)"></div><div style="background:linear-gradient(90deg,#b4ff4b 0%,#a4ff5b 37.7%,#81ff7e 100%)"></div><div style="background:linear-gradient(90deg,#b3ff4c 0%,#a3ff5c 37.7%,#81ff7e 100%)"></div><div style="background:linear-gradient(90deg,#b1ff4e 0%,#a2ff5d 37.7%,#81ff7e 100%)"></div></div>
<svg id="ov" width="1720" height="1552" viewBox="0 0 1720 1552">
<defs><linearGradient id="jet" x1="0" y1="1" x2="0" y2="0"><stop offset="0" stop-color="#000080"/><stop offset=".125" stop-color="#00f"/><stop offset=".375" stop-color="#0ff"/><stop offset=".625" stop-color="#ff0"/><stop offset=".875" stop-color="#f00"/><stop offset="1" stop-color="#800000"/></linearGradient></defs>
<g stroke="#262626" stroke-width="1.2" fill="none" stroke-opacity=".7"><path d="M131.2 41.9V747.5H343.6"/><path d="M131.2 42.4h7.3"/><path d="M131.2 395.3h7.3"/><path d="M202.4 747.5v-6.5"/><path d="M273.0 747.5v-6.5"/><path d="M343.3 747.5v-6.5"/></g><text transform="translate(121.5 56.4) scale(1 1.045)" font-size="35" text-anchor="end">50</text><text transform="translate(121.5 409.15) scale(1 1.045)" font-size="35" text-anchor="end">0</text><text transform="translate(121.5 762.9) scale(1 1.045)" font-size="35" text-anchor="end">-50</text><text transform="translate(131.8 794.5) scale(1 1.045)" font-size="35" text-anchor="middle">0</text><text transform="translate(202.4 794.5) scale(1 1.045)" font-size="35" text-anchor="middle"><tspan font-family="NanumGothic,'Liberation Sans',sans-serif" font-size="32.3" dx=".7" stroke-width=".8">1</tspan><tspan dx="-.82">0</tspan></text><text transform="translate(273 794.5) scale(1 1.045)" font-size="35" text-anchor="middle">20</text><text transform="translate(343.6 794.5) scale(1 1.045)" font-size="35" text-anchor="middle">30</text><text transform="translate(237.9 842.3)" font-size="38.95" text-anchor="middle">r [mm]</text><text transform="translate(58.6 395.95) rotate(-90)" font-size="38.95" text-anchor="middle">z [mm]</text><rect x="373.7" y="42.2" width="17.3" height="705.7" fill="url(#jet)" stroke="#262626" stroke-width=".9" stroke-opacity=".55"/><g stroke="#262626" stroke-width="1.1" stroke-opacity=".85"><path d="M391.0 729.2h-5.8"/><path d="M391.0 395.1h-5.8"/><path d="M391.0 60.9h-5.8"/></g><text transform="translate(400 742.59) scale(1 1.045)" font-size="31.95">-500</text><text transform="translate(400 408.45) scale(1 1.045)" font-size="31.95">0</text><text transform="translate(400 74.31) scale(1 1.045)" font-size="31.95">500</text><text transform="translate(501 395.95) rotate(-90)" font-size="31.95" text-anchor="middle">Displacement</text><text transform="translate(544.8 395.95) rotate(-90)" font-size="31.95" text-anchor="middle">z component [nm]</text><text class="pl" transform="translate(1.43 31.75) scale(1.12 1.025)" font-size="40">(</text><text class="pl" x="16.82" y="31.9" font-size="40">a</text><text class="pl" transform="translate(36.55 31.75) scale(1.12 1.025)" font-size="40">)</text>
<g stroke="#262626" stroke-width="1.2" fill="none" stroke-opacity=".7"><path d="M713.7 41.9V747.5H926.1"/><path d="M713.7 42.4h7.3"/><path d="M713.7 395.3h7.3"/><path d="M784.9 747.5v-6.5"/><path d="M855.5 747.5v-6.5"/><path d="M925.8 747.5v-6.5"/></g><text transform="translate(704 56.4) scale(1 1.045)" font-size="35" text-anchor="end">50</text><text transform="translate(704 409.15) scale(1 1.045)" font-size="35" text-anchor="end">0</text><text transform="translate(704 762.9) scale(1 1.045)" font-size="35" text-anchor="end">-50</text><text transform="translate(714.3 794.5) scale(1 1.045)" font-size="35" text-anchor="middle">0</text><text transform="translate(784.9 794.5) scale(1 1.045)" font-size="35" text-anchor="middle"><tspan font-family="NanumGothic,'Liberation Sans',sans-serif" font-size="32.3" dx=".7" stroke-width=".8">1</tspan><tspan dx="-.82">0</tspan></text><text transform="translate(855.5 794.5) scale(1 1.045)" font-size="35" text-anchor="middle">20</text><text transform="translate(926.1 794.5) scale(1 1.045)" font-size="35" text-anchor="middle">30</text><text transform="translate(820.4 842.3)" font-size="38.95" text-anchor="middle">r [mm]</text><text transform="translate(641.1 395.95) rotate(-90)" font-size="38.95" text-anchor="middle">z [mm]</text><rect x="956.2" y="42.2" width="17.3" height="705.7" fill="url(#jet)" stroke="#262626" stroke-width=".9" stroke-opacity=".55"/><g stroke="#262626" stroke-width="1.1" stroke-opacity=".85"><path d="M973.5 729.2h-5.8"/><path d="M973.5 395.1h-5.8"/><path d="M973.5 60.9h-5.8"/></g><text transform="translate(982.5 742.59) scale(1 1.045)" font-size="31.95">-500</text><text transform="translate(982.5 408.45) scale(1 1.045)" font-size="31.95">0</text><text transform="translate(982.5 74.31) scale(1 1.045)" font-size="31.95">500</text><text transform="translate(1083.5 395.95) rotate(-90)" font-size="31.95" text-anchor="middle">Displacement</text><text transform="translate(1127.3 395.95) rotate(-90)" font-size="31.95" text-anchor="middle">z component [nm]</text><text class="pl" transform="translate(584.43 31.75) scale(1.12 1.025)" font-size="40">(</text><text class="pl" x="600.58" y="31.9" font-size="40">b</text><text class="pl" transform="translate(620.85 31.75) scale(1.12 1.025)" font-size="40">)</text>
<g stroke="#262626" stroke-width="1.2" fill="none" stroke-opacity=".7"><path d="M1296.2 41.9V747.5H1508.6"/><path d="M1296.2 42.4h7.3"/><path d="M1296.2 395.3h7.3"/><path d="M1367.4 747.5v-6.5"/><path d="M1438.0 747.5v-6.5"/><path d="M1508.3 747.5v-6.5"/></g><text transform="translate(1286.5 56.4) scale(1 1.045)" font-size="35" text-anchor="end">50</text><text transform="translate(1286.5 409.15) scale(1 1.045)" font-size="35" text-anchor="end">0</text><text transform="translate(1286.5 762.9) scale(1 1.045)" font-size="35" text-anchor="end">-50</text><text transform="translate(1296.8 794.5) scale(1 1.045)" font-size="35" text-anchor="middle">0</text><text transform="translate(1367.4 794.5) scale(1 1.045)" font-size="35" text-anchor="middle"><tspan font-family="NanumGothic,'Liberation Sans',sans-serif" font-size="32.3" dx=".7" stroke-width=".8">1</tspan><tspan dx="-.82">0</tspan></text><text transform="translate(1438 794.5) scale(1 1.045)" font-size="35" text-anchor="middle">20</text><text transform="translate(1508.6 794.5) scale(1 1.045)" font-size="35" text-anchor="middle">30</text><text transform="translate(1402.9 842.3)" font-size="38.95" text-anchor="middle">r [mm]</text><text transform="translate(1223.6 395.95) rotate(-90)" font-size="38.95" text-anchor="middle">z [mm]</text><rect x="1538.7" y="42.2" width="17.3" height="705.7" fill="url(#jet)" stroke="#262626" stroke-width=".9" stroke-opacity=".55"/><g stroke="#262626" stroke-width="1.1" stroke-opacity=".85"><path d="M1556.0 729.2h-5.8"/><path d="M1556.0 395.1h-5.8"/><path d="M1556.0 60.9h-5.8"/></g><text transform="translate(1565 742.59) scale(1 1.045)" font-size="31.95">-500</text><text transform="translate(1565 408.45) scale(1 1.045)" font-size="31.95">0</text><text transform="translate(1565 74.31) scale(1 1.045)" font-size="31.95">500</text><text transform="translate(1666 395.95) rotate(-90)" font-size="31.95" text-anchor="middle">Displacement</text><text transform="translate(1709.8 395.95) rotate(-90)" font-size="31.95" text-anchor="middle">z component [nm]</text><text class="pl" transform="translate(1166.73 31.75) scale(1.12 1.025)" font-size="40">(</text><text class="pl" x="1182.04" y="31.9" font-size="40">c</text><text class="pl" transform="translate(1200.15 31.75) scale(1.12 1.025)" font-size="40">)</text>
<g stroke="#262626" stroke-width="1.2" fill="none" stroke-opacity=".75"><path d="M200.3 903.7V1447.0H1554.8"/><path d="M200.3 1447.0h13.5"/><path d="M200.3 1356.5h13.5"/><path d="M200.3 1266.1h13.5"/><path d="M200.3 1175.7h13.5"/><path d="M200.3 1085.2h13.5"/><path d="M200.3 994.8h13.5"/><path d="M200.3 904.3h13.5"/><path d="M252.4 1447.0v-13.5"/><path d="M460.8 1447.0v-13.5"/><path d="M669.2 1447.0v-13.5"/><path d="M877.6 1447.0v-13.5"/><path d="M1086.0 1447.0v-13.5"/><path d="M1294.4 1447.0v-13.5"/><path d="M1502.8 1447.0v-13.5"/></g><text transform="translate(188.9 1462.2) scale(1 1.045)" font-size="35" text-anchor="end">0</text><text transform="translate(188.9 1371.62) scale(1 1.045)" font-size="35" text-anchor="end"><tspan font-family="NanumGothic,'Liberation Sans',sans-serif" font-size="32.3" dx=".7" stroke-width=".8">1</tspan><tspan dx="-.82">00</tspan></text><text transform="translate(188.9 1281.04) scale(1 1.045)" font-size="35" text-anchor="end">200</text><text transform="translate(188.9 1190.46) scale(1 1.045)" font-size="35" text-anchor="end">300</text><text transform="translate(188.9 1099.88) scale(1 1.045)" font-size="35" text-anchor="end">400</text><text transform="translate(188.9 1009.3) scale(1 1.045)" font-size="35" text-anchor="end">500</text><text transform="translate(188.9 918.72) scale(1 1.045)" font-size="35" text-anchor="end">600</text><text transform="translate(252.4 1493.6) scale(1 1.045)" font-size="35" text-anchor="middle">-60</text><text transform="translate(460.8 1493.6) scale(1 1.045)" font-size="35" text-anchor="middle">-40</text><text transform="translate(669.2 1493.6) scale(1 1.045)" font-size="35" text-anchor="middle">-20</text><text transform="translate(877.6 1493.6) scale(1 1.045)" font-size="35" text-anchor="middle">0</text><text transform="translate(1086 1493.6) scale(1 1.045)" font-size="35" text-anchor="middle">20</text><text transform="translate(1294.4 1493.6) scale(1 1.045)" font-size="35" text-anchor="middle">40</text><text transform="translate(1502.8 1493.6) scale(1 1.045)" font-size="35" text-anchor="middle">60</text><text transform="translate(877.8 1541.6)" font-size="38.95" text-anchor="middle">z [mm]</text><text transform="translate(65 1176.15) rotate(-90)" font-size="38.95" text-anchor="middle">Displacement</text><text transform="translate(118 1176.15) rotate(-90)" font-size="38.95" text-anchor="middle">z component [nm]</text><text class="pl" transform="translate(1.63 905.55) scale(1.12 1.025)" font-size="40">(</text><text class="pl" x="16.66" y="905.7" font-size="40">d</text><text class="pl" transform="translate(38.05 905.55) scale(1.12 1.025)" font-size="40">)</text><g fill="none" stroke-width="3.4" stroke-linejoin="round"><path d="M200.3,1447.6 202.3,1447.5 204.3,1447.3 206.3,1447 208.3,1446.7 210.3,1446.5 212.3,1446.2 214.3,1445.9 216.3,1445.6 218.3,1445.3 220.3,1444.9 222.3,1444.6 224.3,1444.3 226.3,1443.9 228.3,1443.6 230.3,1443.2 232.3,1442.8 234.3,1442.5 236.3,1442.1 238.3,1441.7 240.3,1441.3 242.3,1440.9 244.3,1440.5 246.3,1440.1 248.3,1439.6 250.3,1439.2 252.3,1438.8 254.3,1438.3 256.3,1437.8 258.3,1437.4 260.3,1436.9 262.3,1436.4 264.3,1435.9 266.3,1435.4 268.3,1434.9 270.3,1434.4 272.3,1433.8 274.3,1433.3 276.3,1432.8 278.3,1432.2 280.3,1431.6 282.3,1431.1 284.3,1430.5 286.3,1429.9 288.3,1429.3 290.3,1428.6 292.3,1428 294.3,1427.4 296.3,1426.7 298.3,1426.1 300.3,1425.4 302.3,1424.7 304.3,1424 306.3,1423.3 308.3,1422.7 310.3,1421.9 312.3,1421.2 314.3,1420.5 316.3,1419.8 318.3,1419 320.3,1418.3 322.3,1417.5 324.3,1416.8 326.3,1416 328.3,1415.2 330.3,1414.4 332.3,1413.6 334.3,1412.8 336.3,1412 338.3,1411.2 340.3,1410.3 342.3,1409.5 344.3,1408.6 346.3,1407.8 348.3,1406.9 350.3,1406 352.3,1405.1 354.3,1404.2 356.3,1403.3 358.3,1402.4 360.3,1401.5 362.3,1400.6 364.3,1399.7 366.3,1398.8 368.3,1397.8 370.3,1396.9 372.3,1395.9 374.3,1395 376.3,1394 378.3,1393 380.3,1392 382.3,1391.1 384.3,1390.1 386.3,1389.1 388.3,1388.1 390.3,1387.1 392.3,1386 394.3,1385 396.3,1384 398.3,1382.9 400.3,1381.9 402.3,1380.8 404.3,1379.8 406.3,1378.7 408.3,1377.7 410.3,1376.6 412.3,1375.5 414.3,1374.4 416.3,1373.3 418.3,1372.2 420.3,1371.1 422.3,1370 424.3,1368.9 426.3,1367.8 428.3,1366.6 430.3,1365.5 432.3,1364.4 434.3,1363.2 436.3,1362.1 438.3,1360.9 440.3,1359.7 442.3,1358.6 444.3,1357.4 446.3,1356.2 448.3,1355 450.3,1353.8 452.3,1352.7 454.3,1351.4 456.3,1350.2 458.3,1349 460.3,1347.8 462.3,1346.6 464.3,1345.4 466.3,1344.1 468.3,1342.9 470.3,1341.6 472.3,1340.4 474.3,1339.1 476.3,1337.9 478.3,1336.6 480.3,1335.3 482.3,1334 484.3,1332.7 486.3,1331.4 488.3,1330.1 490.3,1328.7 492.3,1327.4 494.3,1326 496.3,1324.7 498.3,1323.3 500.3,1321.9 502.3,1320.5 504.3,1319.1 506.3,1317.7 508.3,1316.3 510.3,1314.9 512.3,1313.4 514.3,1312 516.3,1310.5 518.3,1309.1 520.3,1307.6 522.3,1306.1 524.3,1304.6 526.3,1303.1 528.3,1301.6 530.3,1300.1 532.3,1298.6 534.3,1297.1 536.3,1295.5 538.3,1294 540.3,1292.5 542.3,1291 544.3,1289.4 546.3,1287.9 548.3,1286.4 550.3,1284.8 552.3,1283.3 554.3,1281.8 556.3,1280.2 558.3,1278.6 560.3,1277.1 562.3,1275.5 564.3,1274 566.3,1272.4 568.3,1270.8 570.3,1269.3 572.3,1267.7 574.3,1266.1 576.3,1264.5 578.3,1262.9 580.3,1261.3 582.3,1259.7 584.3,1258.1 586.3,1256.5 588.3,1254.9 590.3,1253.3 592.3,1251.7 594.3,1250.1 596.3,1248.5 598.3,1246.9 600.3,1245.3 602.3,1243.8 604.3,1242.2 606.3,1240.6 608.3,1239 610.3,1237.4 612.3,1235.8 614.3,1234.2 616.3,1232.7 618.3,1231.1 620.3,1229.5 622.3,1227.9 624.3,1226.2 626.3,1224.6 628.3,1223 630.3,1221.4 632.3,1219.8 634.3,1218.2 636.3,1216.6 638.3,1214.9 640.3,1213.3 642.3,1211.7 644.3,1210 646.3,1208.4 648.3,1206.8 650.3,1205.1 652.3,1203.5 654.3,1201.8 656.3,1200.2 658.3,1198.5 660.3,1196.8 662.3,1195.2 664.3,1193.5 666.3,1191.8 668.3,1190.1 670.3,1188.4 672.3,1186.7 674.3,1185 676.3,1183.3 678.3,1181.6 680.3,1179.9 682.3,1178.1 684.3,1176.3 686.3,1174.3 688.3,1172.4 690.3,1170.3 692.3,1168.2 694.3,1166.1 696.3,1164 698.3,1161.7 700.3,1159.3 702.3,1156.9 704.3,1154.4 706.3,1151.9 708.3,1149.2 710.3,1146.5 712.3,1143.7 714.3,1140.8 716.3,1137.9 718.3,1134.8 720.3,1131.7 722.3,1128.6 724.3,1125.4 726.3,1122.2 728.3,1118.9 730.3,1115.5 732.3,1112.1 734.3,1108.6 736.3,1105.1 738.3,1101.6 740.3,1098 742.3,1094.4 744.3,1090.9 746.3,1087.3 748.3,1083.7 750.3,1080.1 752.3,1076.4 754.3,1072.8 756.3,1069.1 758.3,1065.4 760.3,1061.8 762.3,1058.1 764.3,1054.4 766.3,1050.8 768.3,1047.2 770.3,1043.6 772.3,1040.2 774.3,1036.7 776.3,1033.3 778.3,1030 780.3,1026.8 782.3,1023.7 784.3,1020.8 786.3,1018 788.3,1015.2 790.3,1012.4 792.3,1009.6 794.3,1006.9 796.3,1004.2 798.3,1001.6 800.3,999.2 802.3,996.8 804.3,994.5 806.3,992.4 808.3,990.4 810.3,988.5 812.3,986.6 814.3,984.8 816.3,983.1 818.3,981.4 820.3,979.9 822.3,978.4 824.3,977 826.3,975.7 828.3,974.5 830.3,973.4 832.3,972.4 834.3,971.4 836.3,970.6 838.3,969.9 840.3,969.3 842.3,968.7 844.3,968.3 846.3,967.9 848.3,967.7 850.3,967.6 852.3,967.6 854.3,967.9 856.3,968.4 858.3,968.9 860.3,969.7 862.3,970.5 864.3,971.1 866.3,971.8 868.3,972.6 870.3,973.4 872.3,974.3 874.3,975.4 876.3,976.5 878.3,977.6 880.3,978.9 882.3,980.2 884.3,981.6 886.3,983.1 888.3,984.9 890.3,986.8 892.3,988.6 894.3,990.4 896.3,992.2 898.3,994.1 900.3,996 902.3,998.1 904.3,1000.2 906.3,1002.4 908.3,1004.6 910.3,1006.9 912.3,1009.2 914.3,1011.6 916.3,1014.1 918.3,1016.5 920.3,1018.8 922.3,1021.1 924.3,1023.5 926.3,1025.8 928.3,1028.2 930.3,1030.6 932.3,1033.1 934.3,1035.5 936.3,1038 938.3,1040.6 940.3,1043.1 942.3,1045.7 944.3,1048.2 946.3,1050.8 948.3,1053.4 950.3,1056.1 952.3,1058.8 954.3,1061.5 956.3,1064.4 958.3,1067.2 960.3,1070 962.3,1072.9 964.3,1075.7 966.3,1078.5 968.3,1081.4 970.3,1084.2 972.3,1087.1 974.3,1089.9 976.3,1092.7 978.3,1095.6 980.3,1098.3 982.3,1101.1 984.3,1103.9 986.3,1106.7 988.3,1109.5 990.3,1112.3 992.3,1115 994.3,1117.7 996.3,1120.5 998.3,1123.2 1000.3,1125.8 1002.3,1128.5 1004.3,1131.2 1006.3,1133.9 1008.3,1136.5 1010.3,1139.2 1012.3,1141.9 1014.3,1144.5 1016.3,1147.1 1018.3,1149.8 1020.3,1152.4 1022.3,1155 1024.3,1157.6 1026.3,1160.2 1028.3,1162.7 1030.3,1165.3 1032.3,1167.8 1034.3,1170.2 1036.3,1172.6 1038.3,1175.1 1040.3,1177.5 1042.3,1179.9 1044.3,1182.3 1046.3,1184.7 1048.3,1187.1 1050.3,1189.6 1052.3,1192 1054.3,1194.4 1056.3,1196.7 1058.3,1199.1 1060.3,1201.5 1062.3,1203.9 1064.3,1206.2 1066.3,1208.6 1068.3,1210.9 1070.3,1213.2 1072.3,1215.5 1074.3,1217.8 1076.3,1220 1078.3,1222.2 1080.3,1224.4 1082.3,1226.5 1084.3,1228.7 1086.3,1230.8 1088.3,1232.9 1090.3,1234.9 1092.3,1236.9 1094.3,1238.9 1096.3,1240.9 1098.3,1242.8 1100.3,1244.8 1102.3,1246.6 1104.3,1248.6 1106.3,1250.5 1108.3,1252.4 1110.3,1254.3 1112.3,1256.2 1114.3,1258.1 1116.3,1260 1118.3,1261.8 1120.3,1263.7 1122.3,1265.5 1124.3,1267.3 1126.3,1269.1 1128.3,1270.9 1130.3,1272.7 1132.3,1274.4 1134.3,1276.2 1136.3,1277.9 1138.3,1279.6 1140.3,1281.2 1142.3,1282.9 1144.3,1284.5 1146.3,1286.1 1148.3,1287.7 1150.3,1289.3 1152.3,1290.8 1154.3,1292.4 1156.3,1293.9 1158.3,1295.4 1160.3,1296.9 1162.3,1298.3 1164.3,1299.7 1166.3,1301.1 1168.3,1302.5 1170.3,1303.9 1172.3,1305.2 1174.3,1306.5 1176.3,1307.8 1178.3,1309.2 1180.3,1310.5 1182.3,1311.8 1184.3,1313.1 1186.3,1314.4 1188.3,1315.7 1190.3,1317 1192.3,1318.3 1194.3,1319.6 1196.3,1320.8 1198.3,1322.1 1200.3,1323.3 1202.3,1324.6 1204.3,1325.8 1206.3,1327.1 1208.3,1328.3 1210.3,1329.5 1212.3,1330.8 1214.3,1332 1216.3,1333.2 1218.3,1334.4 1220.3,1335.6 1222.3,1336.8 1224.3,1338 1226.3,1339.1 1228.3,1340.3 1230.3,1341.5 1232.3,1342.6 1234.3,1343.8 1236.3,1345 1238.3,1346.1 1240.3,1347.2 1242.3,1348.4 1244.3,1349.5 1246.3,1350.6 1248.3,1351.8 1250.3,1352.9 1252.3,1354 1254.3,1355.1 1256.3,1356.1 1258.3,1357.2 1260.3,1358.3 1262.3,1359.4 1264.3,1360.4 1266.3,1361.5 1268.3,1362.5 1270.3,1363.5 1272.3,1364.5 1274.3,1365.6 1276.3,1366.6 1278.3,1367.6 1280.3,1368.6 1282.3,1369.5 1284.3,1370.5 1286.3,1371.5 1288.3,1372.5 1290.3,1373.4 1292.3,1374.4 1294.3,1375.3 1296.3,1376.3 1298.3,1377.2 1300.3,1378.1 1302.3,1379 1304.3,1379.9 1306.3,1380.8 1308.3,1381.7 1310.3,1382.6 1312.3,1383.5 1314.3,1384.4 1316.3,1385.3 1318.3,1386.1 1320.3,1387 1322.3,1387.8 1324.3,1388.7 1326.3,1389.5 1328.3,1390.3 1330.3,1391.2 1332.3,1392 1334.3,1392.8 1336.3,1393.6 1338.3,1394.4 1340.3,1395.2 1342.3,1396 1344.3,1396.8 1346.3,1397.6 1348.3,1398.3 1350.3,1399.1 1352.3,1399.9 1354.3,1400.6 1356.3,1401.4 1358.3,1402.1 1360.3,1402.9 1362.3,1403.6 1364.3,1404.3 1366.3,1405.1 1368.3,1405.8 1370.3,1406.5 1372.3,1407.2 1374.3,1407.9 1376.3,1408.6 1378.3,1409.3 1380.3,1409.9 1382.3,1410.6 1384.3,1411.3 1386.3,1411.9 1388.3,1412.6 1390.3,1413.3 1392.3,1413.9 1394.3,1414.5 1396.3,1415.2 1398.3,1415.8 1400.3,1416.4 1402.3,1417 1404.3,1417.7 1406.3,1418.3 1408.3,1418.9 1410.3,1419.5 1412.3,1420 1414.3,1420.6 1416.3,1421.2 1418.3,1421.8 1420.3,1422.3 1422.3,1422.9 1424.3,1423.5 1426.3,1424 1428.3,1424.6 1430.3,1425.1 1432.3,1425.6 1434.3,1426.2 1436.3,1426.7 1438.3,1427.2 1440.3,1427.7 1442.3,1428.2 1444.3,1428.7 1446.3,1429.2 1448.3,1429.7 1450.3,1430.2 1452.3,1430.6 1454.3,1431.1 1456.3,1431.6 1458.3,1432 1460.3,1432.5 1462.3,1432.9 1464.3,1433.4 1466.3,1433.8 1468.3,1434.2 1470.3,1434.7 1472.3,1435.1 1474.3,1435.5 1476.3,1435.9 1478.3,1436.3 1480.3,1436.7 1482.3,1437.1 1484.3,1437.5 1486.3,1437.9 1488.3,1438.3 1490.3,1438.6 1492.3,1439 1494.3,1439.4 1496.3,1439.7 1498.3,1440.1 1500.3,1440.5 1502.3,1440.8 1504.3,1441.1 1506.3,1441.5 1508.3,1441.8 1510.3,1442.1 1512.3,1442.5 1514.3,1442.8 1516.3,1443.1 1518.3,1443.4 1520.3,1443.7 1522.3,1444 1524.3,1444.3 1526.3,1444.6 1528.3,1444.9 1530.3,1445.2 1532.3,1445.4 1534.3,1445.7 1536.3,1446 1538.3,1446.3 1540.3,1446.5 1542.3,1446.8 1544.3,1447 1546.3,1447.3 1548.3,1447.5 1550.3,1447.6 1552.3,1447.6 1554.8,1447.6" stroke="#0072bd" stroke-dasharray="13.5 3.9 6.4 3.9" stroke-dashoffset="15.3" stroke-width="3.4"/><path d="M200.3,1447.6 202.3,1447.5 204.3,1447.3 206.3,1447 208.3,1446.7 210.3,1446.4 212.3,1446.1 214.3,1445.8 216.3,1445.4 218.3,1445.1 220.3,1444.8 222.3,1444.4 224.3,1444.1 226.3,1443.7 228.3,1443.3 230.3,1442.9 232.3,1442.5 234.3,1442.1 236.3,1441.7 238.3,1441.3 240.3,1440.9 242.3,1440.5 244.3,1440 246.3,1439.6 248.3,1439.1 250.3,1438.6 252.3,1438.2 254.3,1437.7 256.3,1437.2 258.3,1436.7 260.3,1436.2 262.3,1435.7 264.3,1435.1 266.3,1434.6 268.3,1434.1 270.3,1433.5 272.3,1433 274.3,1432.4 276.3,1431.8 278.3,1431.2 280.3,1430.6 282.3,1430 284.3,1429.4 286.3,1428.8 288.3,1428.2 290.3,1427.5 292.3,1426.9 294.3,1426.2 296.3,1425.6 298.3,1424.9 300.3,1424.2 302.3,1423.5 304.3,1422.8 306.3,1422.1 308.3,1421.4 310.3,1420.7 312.3,1419.9 314.3,1419.2 316.3,1418.5 318.3,1417.7 320.3,1416.9 322.3,1416.2 324.3,1415.4 326.3,1414.6 328.3,1413.8 330.3,1413 332.3,1412.2 334.3,1411.4 336.3,1410.6 338.3,1409.7 340.3,1408.9 342.3,1408 344.3,1407.2 346.3,1406.3 348.3,1405.4 350.3,1404.6 352.3,1403.7 354.3,1402.8 356.3,1401.9 358.3,1401 360.3,1400.1 362.3,1399.2 364.3,1398.2 366.3,1397.3 368.3,1396.4 370.3,1395.4 372.3,1394.5 374.3,1393.5 376.3,1392.5 378.3,1391.5 380.3,1390.6 382.3,1389.6 384.3,1388.6 386.3,1387.6 388.3,1386.6 390.3,1385.6 392.3,1384.6 394.3,1383.5 396.3,1382.5 398.3,1381.5 400.3,1380.4 402.3,1379.4 404.3,1378.3 406.3,1377.2 408.3,1376.2 410.3,1375.1 412.3,1374 414.3,1372.9 416.3,1371.8 418.3,1370.7 420.3,1369.6 422.3,1368.5 424.3,1367.4 426.3,1366.3 428.3,1365.2 430.3,1364 432.3,1362.9 434.3,1361.7 436.3,1360.6 438.3,1359.4 440.3,1358.3 442.3,1357.1 444.3,1355.9 446.3,1354.7 448.3,1353.6 450.3,1352.4 452.3,1351.2 454.3,1350 456.3,1348.8 458.3,1347.5 460.3,1346.3 462.3,1345.1 464.3,1343.9 466.3,1342.6 468.3,1341.4 470.3,1340.1 472.3,1338.9 474.3,1337.6 476.3,1336.4 478.3,1335.1 480.3,1333.8 482.3,1332.5 484.3,1331.3 486.3,1330 488.3,1328.6 490.3,1327.3 492.3,1326 494.3,1324.7 496.3,1323.3 498.3,1322 500.3,1320.6 502.3,1319.3 504.3,1317.9 506.3,1316.5 508.3,1315.2 510.3,1313.8 512.3,1312.4 514.3,1311 516.3,1309.6 518.3,1308.2 520.3,1306.7 522.3,1305.3 524.3,1303.9 526.3,1302.4 528.3,1301 530.3,1299.5 532.3,1298.1 534.3,1296.6 536.3,1295.2 538.3,1293.7 540.3,1292.2 542.3,1290.8 544.3,1289.3 546.3,1287.8 548.3,1286.3 550.3,1284.8 552.3,1283.3 554.3,1281.8 556.3,1280.3 558.3,1278.8 560.3,1277.3 562.3,1275.8 564.3,1274.3 566.3,1272.8 568.3,1271.2 570.3,1269.7 572.3,1268.2 574.3,1266.6 576.3,1265.1 578.3,1263.5 580.3,1262 582.3,1260.4 584.3,1258.9 586.3,1257.3 588.3,1255.7 590.3,1254.2 592.3,1252.6 594.3,1251 596.3,1249.5 598.3,1247.9 600.3,1246.3 602.3,1244.8 604.3,1243.2 606.3,1241.6 608.3,1240 610.3,1238.4 612.3,1236.9 614.3,1235.3 616.3,1233.7 618.3,1232.1 620.3,1230.5 622.3,1228.9 624.3,1227.3 626.3,1225.7 628.3,1224.1 630.3,1222.5 632.3,1220.9 634.3,1219.2 636.3,1217.6 638.3,1216 640.3,1214.4 642.3,1212.8 644.3,1211.1 646.3,1209.5 648.3,1207.9 650.3,1206.2 652.3,1204.6 654.3,1202.9 656.3,1201.3 658.3,1199.6 660.3,1198 662.3,1196.3 664.3,1194.7 666.3,1193 668.3,1191.3 670.3,1189.7 672.3,1188 674.3,1186.3 676.3,1184.7 678.3,1183 680.3,1181.3 682.3,1179.5 684.3,1177.8 686.3,1176 688.3,1174.1 690.3,1172.2 692.3,1170.3 694.3,1168.3 696.3,1166.2 698.3,1164.1 700.3,1162 702.3,1159.7 704.3,1157.4 706.3,1155.1 708.3,1152.6 710.3,1150.1 712.3,1147.5 714.3,1144.8 716.3,1142.1 718.3,1139.2 720.3,1136.3 722.3,1133.3 724.3,1130.3 726.3,1127.2 728.3,1124 730.3,1120.8 732.3,1117.5 734.3,1114.1 736.3,1110.7 738.3,1107.2 740.3,1103.7 742.3,1100.2 744.3,1096.6 746.3,1093.1 748.3,1089.5 750.3,1085.9 752.3,1082.2 754.3,1078.6 756.3,1074.9 758.3,1071.2 760.3,1067.5 762.3,1063.9 764.3,1060.2 766.3,1056.6 768.3,1052.9 770.3,1049.4 772.3,1045.8 774.3,1042.3 776.3,1038.9 778.3,1035.5 780.3,1032.2 782.3,1028.9 784.3,1025.8 786.3,1022.7 788.3,1019.7 790.3,1016.8 792.3,1013.8 794.3,1011 796.3,1008.2 798.3,1005.5 800.3,1002.9 802.3,1000.4 804.3,998 806.3,995.6 808.3,993.4 810.3,991.3 812.3,989.3 814.3,987.4 816.3,985.5 818.3,983.7 820.3,982 822.3,980.4 824.3,978.9 826.3,977.5 828.3,976.2 830.3,974.9 832.3,973.8 834.3,972.8 836.3,971.9 838.3,971.1 840.3,970.4 842.3,969.7 844.3,969.2 846.3,968.8 848.3,968.4 850.3,968.2 852.3,968.1 854.3,968.1 856.3,968.3 858.3,968.6 860.3,969 862.3,969.4 864.3,969.9 866.3,970.4 868.3,971 870.3,971.7 872.3,972.5 874.3,973.3 876.3,974.3 878.3,975.3 880.3,976.4 882.3,977.6 884.3,978.8 886.3,980.2 888.3,981.7 890.3,983.3 892.3,984.9 894.3,986.6 896.3,988.2 898.3,990 900.3,991.8 902.3,993.7 904.3,995.7 906.3,997.7 908.3,999.8 910.3,1001.9 912.3,1004.1 914.3,1006.3 916.3,1008.6 918.3,1010.9 920.3,1013.1 922.3,1015.4 924.3,1017.7 926.3,1020.1 928.3,1022.5 930.3,1024.9 932.3,1027.3 934.3,1029.8 936.3,1032.3 938.3,1034.8 940.3,1037.3 942.3,1039.8 944.3,1042.4 946.3,1045 948.3,1047.5 950.3,1050.1 952.3,1052.8 954.3,1055.4 956.3,1058.1 958.3,1060.9 960.3,1063.6 962.3,1066.3 964.3,1069 966.3,1071.8 968.3,1074.5 970.3,1077.3 972.3,1080 974.3,1082.8 976.3,1085.5 978.3,1088.3 980.3,1091 982.3,1093.7 984.3,1096.5 986.3,1099.2 988.3,1102 990.3,1104.7 992.3,1107.4 994.3,1110.1 996.3,1112.9 998.3,1115.6 1000.3,1118.3 1002.3,1121 1004.3,1123.7 1006.3,1126.4 1008.3,1129.1 1010.3,1131.8 1012.3,1134.4 1014.3,1137.1 1016.3,1139.8 1018.3,1142.5 1020.3,1145.1 1022.3,1147.8 1024.3,1150.4 1026.3,1153 1028.3,1155.7 1030.3,1158.3 1032.3,1160.8 1034.3,1163.4 1036.3,1166 1038.3,1168.5 1040.3,1171 1042.3,1173.5 1044.3,1176.1 1046.3,1178.6 1048.3,1181.1 1050.3,1183.6 1052.3,1186.1 1054.3,1188.5 1056.3,1191 1058.3,1193.5 1060.3,1195.9 1062.3,1198.3 1064.3,1200.8 1066.3,1203.2 1068.3,1205.6 1070.3,1207.9 1072.3,1210.3 1074.3,1212.6 1076.3,1214.9 1078.3,1217.2 1080.3,1219.5 1082.3,1221.7 1084.3,1224 1086.3,1226.2 1088.3,1228.3 1090.3,1230.5 1092.3,1232.6 1094.3,1234.7 1096.3,1236.8 1098.3,1238.9 1100.3,1240.9 1102.3,1242.9 1104.3,1244.9 1106.3,1246.9 1108.3,1248.9 1110.3,1250.8 1112.3,1252.8 1114.3,1254.7 1116.3,1256.6 1118.3,1258.5 1120.3,1260.4 1122.3,1262.3 1124.3,1264.1 1126.3,1265.9 1128.3,1267.7 1130.3,1269.5 1132.3,1271.3 1134.3,1273 1136.3,1274.7 1138.3,1276.4 1140.3,1278.1 1142.3,1279.8 1144.3,1281.4 1146.3,1283.1 1148.3,1284.7 1150.3,1286.3 1152.3,1287.9 1154.3,1289.4 1156.3,1291 1158.3,1292.5 1160.3,1294 1162.3,1295.5 1164.3,1297 1166.3,1298.4 1168.3,1299.9 1170.3,1301.3 1172.3,1302.7 1174.3,1304.1 1176.3,1305.4 1178.3,1306.8 1180.3,1308.2 1182.3,1309.5 1184.3,1310.9 1186.3,1312.2 1188.3,1313.6 1190.3,1314.9 1192.3,1316.2 1194.3,1317.5 1196.3,1318.8 1198.3,1320.1 1200.3,1321.4 1202.3,1322.6 1204.3,1323.9 1206.3,1325.2 1208.3,1326.4 1210.3,1327.7 1212.3,1328.9 1214.3,1330.1 1216.3,1331.4 1218.3,1332.6 1220.3,1333.8 1222.3,1335 1224.3,1336.2 1226.3,1337.4 1228.3,1338.6 1230.3,1339.8 1232.3,1341 1234.3,1342.1 1236.3,1343.3 1238.3,1344.5 1240.3,1345.6 1242.3,1346.8 1244.3,1347.9 1246.3,1349 1248.3,1350.1 1250.3,1351.3 1252.3,1352.4 1254.3,1353.5 1256.3,1354.6 1258.3,1355.7 1260.3,1356.8 1262.3,1357.8 1264.3,1358.9 1266.3,1360 1268.3,1361 1270.3,1362.1 1272.3,1363.1 1274.3,1364.1 1276.3,1365.2 1278.3,1366.2 1280.3,1367.2 1282.3,1368.2 1284.3,1369.2 1286.3,1370.2 1288.3,1371.2 1290.3,1372.1 1292.3,1373.1 1294.3,1374.1 1296.3,1375 1298.3,1376 1300.3,1376.9 1302.3,1377.8 1304.3,1378.8 1306.3,1379.7 1308.3,1380.6 1310.3,1381.5 1312.3,1382.4 1314.3,1383.3 1316.3,1384.2 1318.3,1385.1 1320.3,1385.9 1322.3,1386.8 1324.3,1387.7 1326.3,1388.5 1328.3,1389.4 1330.3,1390.2 1332.3,1391 1334.3,1391.9 1336.3,1392.7 1338.3,1393.5 1340.3,1394.3 1342.3,1395.1 1344.3,1395.9 1346.3,1396.7 1348.3,1397.5 1350.3,1398.3 1352.3,1399.1 1354.3,1399.8 1356.3,1400.6 1358.3,1401.3 1360.3,1402.1 1362.3,1402.8 1364.3,1403.6 1366.3,1404.3 1368.3,1405 1370.3,1405.8 1372.3,1406.5 1374.3,1407.2 1376.3,1407.9 1378.3,1408.6 1380.3,1409.3 1382.3,1409.9 1384.3,1410.6 1386.3,1411.3 1388.3,1412 1390.3,1412.6 1392.3,1413.3 1394.3,1413.9 1396.3,1414.6 1398.3,1415.2 1400.3,1415.8 1402.3,1416.4 1404.3,1417.1 1406.3,1417.7 1408.3,1418.3 1410.3,1418.9 1412.3,1419.5 1414.3,1420.1 1416.3,1420.7 1418.3,1421.2 1420.3,1421.8 1422.3,1422.4 1424.3,1422.9 1426.3,1423.5 1428.3,1424 1430.3,1424.6 1432.3,1425.1 1434.3,1425.7 1436.3,1426.2 1438.3,1426.7 1440.3,1427.2 1442.3,1427.7 1444.3,1428.2 1446.3,1428.7 1448.3,1429.2 1450.3,1429.7 1452.3,1430.2 1454.3,1430.7 1456.3,1431.2 1458.3,1431.6 1460.3,1432.1 1462.3,1432.5 1464.3,1433 1466.3,1433.4 1468.3,1433.9 1470.3,1434.3 1472.3,1434.7 1474.3,1435.2 1476.3,1435.6 1478.3,1436 1480.3,1436.4 1482.3,1436.8 1484.3,1437.2 1486.3,1437.6 1488.3,1438 1490.3,1438.4 1492.3,1438.8 1494.3,1439.1 1496.3,1439.5 1498.3,1439.9 1500.3,1440.2 1502.3,1440.6 1504.3,1440.9 1506.3,1441.3 1508.3,1441.6 1510.3,1442 1512.3,1442.3 1514.3,1442.6 1516.3,1442.9 1518.3,1443.3 1520.3,1443.6 1522.3,1443.9 1524.3,1444.2 1526.3,1444.5 1528.3,1444.8 1530.3,1445.1 1532.3,1445.4 1534.3,1445.6 1536.3,1445.9 1538.3,1446.2 1540.3,1446.5 1542.3,1446.7 1544.3,1447 1546.3,1447.2 1548.3,1447.5 1550.3,1447.6 1552.3,1447.6 1554.8,1447.6" stroke="#d95319" stroke-dasharray="13.5 14.2" stroke-dashoffset="15.3" stroke-width="3.4"/><path d="M200.3,1447.6 202.3,1447.5 204.3,1447.2 206.3,1446.9 208.3,1446.6 210.3,1446.3 212.3,1446 214.3,1445.7 216.3,1445.3 218.3,1445 220.3,1444.6 222.3,1444.3 224.3,1443.9 226.3,1443.5 228.3,1443.1 230.3,1442.7 232.3,1442.3 234.3,1441.9 236.3,1441.4 238.3,1441 240.3,1440.6 242.3,1440.1 244.3,1439.6 246.3,1439.2 248.3,1438.7 250.3,1438.2 252.3,1437.7 254.3,1437.2 256.3,1436.7 258.3,1436.1 260.3,1435.6 262.3,1435.1 264.3,1434.5 266.3,1434 268.3,1433.4 270.3,1432.8 272.3,1432.2 274.3,1431.6 276.3,1431 278.3,1430.4 280.3,1429.8 282.3,1429.2 284.3,1428.6 286.3,1427.9 288.3,1427.3 290.3,1426.6 292.3,1426 294.3,1425.3 296.3,1424.6 298.3,1423.9 300.3,1423.2 302.3,1422.5 304.3,1421.8 306.3,1421.1 308.3,1420.4 310.3,1419.6 312.3,1418.9 314.3,1418.1 316.3,1417.4 318.3,1416.6 320.3,1415.8 322.3,1415.1 324.3,1414.3 326.3,1413.5 328.3,1412.7 330.3,1411.9 332.3,1411.1 334.3,1410.2 336.3,1409.4 338.3,1408.6 340.3,1407.7 342.3,1406.9 344.3,1406 346.3,1405.1 348.3,1404.3 350.3,1403.4 352.3,1402.5 354.3,1401.6 356.3,1400.7 358.3,1399.8 360.3,1398.9 362.3,1398 364.3,1397 366.3,1396.1 368.3,1395.2 370.3,1394.2 372.3,1393.2 374.3,1392.3 376.3,1391.3 378.3,1390.3 380.3,1389.4 382.3,1388.4 384.3,1387.4 386.3,1386.4 388.3,1385.4 390.3,1384.4 392.3,1383.3 394.3,1382.3 396.3,1381.3 398.3,1380.2 400.3,1379.2 402.3,1378.1 404.3,1377.1 406.3,1376 408.3,1375 410.3,1373.9 412.3,1372.8 414.3,1371.7 416.3,1370.6 418.3,1369.5 420.3,1368.4 422.3,1367.3 424.3,1366.2 426.3,1365.1 428.3,1363.9 430.3,1362.8 432.3,1361.7 434.3,1360.5 436.3,1359.4 438.3,1358.2 440.3,1357 442.3,1355.9 444.3,1354.7 446.3,1353.5 448.3,1352.3 450.3,1351.1 452.3,1350 454.3,1348.7 456.3,1347.5 458.3,1346.3 460.3,1345.1 462.3,1343.9 464.3,1342.7 466.3,1341.4 468.3,1340.2 470.3,1338.9 472.3,1337.7 474.3,1336.4 476.3,1335.2 478.3,1333.9 480.3,1332.6 482.3,1331.3 484.3,1330.1 486.3,1328.8 488.3,1327.5 490.3,1326.2 492.3,1324.9 494.3,1323.6 496.3,1322.2 498.3,1320.9 500.3,1319.6 502.3,1318.3 504.3,1316.9 506.3,1315.6 508.3,1314.2 510.3,1312.9 512.3,1311.5 514.3,1310.2 516.3,1308.8 518.3,1307.4 520.3,1306 522.3,1304.7 524.3,1303.3 526.3,1301.9 528.3,1300.5 530.3,1299.1 532.3,1297.7 534.3,1296.3 536.3,1294.9 538.3,1293.4 540.3,1292 542.3,1290.6 544.3,1289.1 546.3,1287.7 548.3,1286.3 550.3,1284.8 552.3,1283.4 554.3,1281.9 556.3,1280.4 558.3,1279 560.3,1277.5 562.3,1276 564.3,1274.5 566.3,1273.1 568.3,1271.6 570.3,1270.1 572.3,1268.6 574.3,1267.1 576.3,1265.6 578.3,1264.1 580.3,1262.5 582.3,1261 584.3,1259.5 586.3,1258 588.3,1256.4 590.3,1254.9 592.3,1253.3 594.3,1251.8 596.3,1250.2 598.3,1248.7 600.3,1247.1 602.3,1245.6 604.3,1244 606.3,1242.4 608.3,1240.9 610.3,1239.3 612.3,1237.7 614.3,1236.1 616.3,1234.5 618.3,1232.9 620.3,1231.3 622.3,1229.8 624.3,1228.2 626.3,1226.6 628.3,1224.9 630.3,1223.3 632.3,1221.7 634.3,1220.1 636.3,1218.5 638.3,1216.9 640.3,1215.3 642.3,1213.6 644.3,1212 646.3,1210.4 648.3,1208.7 650.3,1207.1 652.3,1205.5 654.3,1203.8 656.3,1202.2 658.3,1200.6 660.3,1198.9 662.3,1197.3 664.3,1195.6 666.3,1194 668.3,1192.3 670.3,1190.7 672.3,1189 674.3,1187.4 676.3,1185.7 678.3,1184.1 680.3,1182.4 682.3,1180.7 684.3,1179 686.3,1177.3 688.3,1175.5 690.3,1173.7 692.3,1171.9 694.3,1170 696.3,1168.1 698.3,1166.2 700.3,1164.1 702.3,1162.1 704.3,1159.9 706.3,1157.7 708.3,1155.4 710.3,1153.1 712.3,1150.6 714.3,1148.1 716.3,1145.5 718.3,1142.8 720.3,1140.1 722.3,1137.2 724.3,1134.3 726.3,1131.3 728.3,1128.2 730.3,1125.1 732.3,1121.9 734.3,1118.6 736.3,1115.2 738.3,1111.8 740.3,1108.4 742.3,1104.9 744.3,1101.4 746.3,1097.8 748.3,1094.2 750.3,1090.6 752.3,1086.9 754.3,1083.3 756.3,1079.6 758.3,1075.9 760.3,1072.3 762.3,1068.6 764.3,1064.9 766.3,1061.3 768.3,1057.7 770.3,1054 772.3,1050.5 774.3,1046.9 776.3,1043.4 778.3,1040 780.3,1036.5 782.3,1033.2 784.3,1029.9 786.3,1026.6 788.3,1023.4 790.3,1020.3 792.3,1017.3 794.3,1014.3 796.3,1011.5 798.3,1008.7 800.3,1005.9 802.3,1003.3 804.3,1000.8 806.3,998.3 808.3,996 810.3,993.7 812.3,991.5 814.3,989.4 816.3,987.4 818.3,985.5 820.3,983.7 822.3,982 824.3,980.4 826.3,978.9 828.3,977.5 830.3,976.2 832.3,975.1 834.3,974 836.3,973 838.3,972.1 840.3,971.3 842.3,970.6 844.3,969.9 846.3,969.4 848.3,969 850.3,968.7 852.3,968.4 854.3,968.3 856.3,968.2 858.3,968.3 860.3,968.4 862.3,968.6 864.3,968.9 866.3,969.3 868.3,969.8 870.3,970.3 872.3,971 874.3,971.7 876.3,972.5 878.3,973.4 880.3,974.4 882.3,975.4 884.3,976.6 886.3,977.8 888.3,979.1 890.3,980.4 892.3,981.9 894.3,983.4 896.3,985 898.3,986.6 900.3,988.3 902.3,990.1 904.3,992 906.3,993.8 908.3,995.8 910.3,997.8 912.3,999.8 914.3,1001.9 916.3,1004.1 918.3,1006.3 920.3,1008.5 922.3,1010.8 924.3,1013.1 926.3,1015.4 928.3,1017.8 930.3,1020.2 932.3,1022.6 934.3,1025.1 936.3,1027.5 938.3,1030 940.3,1032.5 942.3,1035.1 944.3,1037.6 946.3,1040.1 948.3,1042.7 950.3,1045.3 952.3,1047.9 954.3,1050.5 956.3,1053.1 958.3,1055.7 960.3,1058.3 962.3,1060.9 964.3,1063.6 966.3,1066.2 968.3,1068.9 970.3,1071.6 972.3,1074.2 974.3,1076.9 976.3,1079.6 978.3,1082.3 980.3,1085 982.3,1087.7 984.3,1090.4 986.3,1093.1 988.3,1095.8 990.3,1098.5 992.3,1101.2 994.3,1103.9 996.3,1106.7 998.3,1109.4 1000.3,1112.1 1002.3,1114.8 1004.3,1117.5 1006.3,1120.2 1008.3,1122.9 1010.3,1125.7 1012.3,1128.4 1014.3,1131.1 1016.3,1133.8 1018.3,1136.5 1020.3,1139.2 1022.3,1141.8 1024.3,1144.5 1026.3,1147.2 1028.3,1149.9 1030.3,1152.5 1032.3,1155.2 1034.3,1157.8 1036.3,1160.5 1038.3,1163.1 1040.3,1165.7 1042.3,1168.3 1044.3,1170.9 1046.3,1173.5 1048.3,1176.1 1050.3,1178.7 1052.3,1181.2 1054.3,1183.8 1056.3,1186.3 1058.3,1188.8 1060.3,1191.3 1062.3,1193.8 1064.3,1196.3 1066.3,1198.7 1068.3,1201.2 1070.3,1203.6 1072.3,1206 1074.3,1208.4 1076.3,1210.8 1078.3,1213.1 1080.3,1215.5 1082.3,1217.8 1084.3,1220.1 1086.3,1222.4 1088.3,1224.6 1090.3,1226.9 1092.3,1229.1 1094.3,1231.3 1096.3,1233.4 1098.3,1235.6 1100.3,1237.7 1102.3,1239.8 1104.3,1241.9 1106.3,1244 1108.3,1246 1110.3,1248 1112.3,1250 1114.3,1251.9 1116.3,1253.9 1118.3,1255.8 1120.3,1257.7 1122.3,1259.6 1124.3,1261.4 1126.3,1263.3 1128.3,1265.1 1130.3,1266.9 1132.3,1268.7 1134.3,1270.4 1136.3,1272.2 1138.3,1273.9 1140.3,1275.6 1142.3,1277.3 1144.3,1278.9 1146.3,1280.6 1148.3,1282.2 1150.3,1283.8 1152.3,1285.4 1154.3,1287 1156.3,1288.6 1158.3,1290.1 1160.3,1291.7 1162.3,1293.2 1164.3,1294.7 1166.3,1296.2 1168.3,1297.7 1170.3,1299.2 1172.3,1300.6 1174.3,1302.1 1176.3,1303.5 1178.3,1304.9 1180.3,1306.3 1182.3,1307.7 1184.3,1309.1 1186.3,1310.4 1188.3,1311.8 1190.3,1313.2 1192.3,1314.5 1194.3,1315.8 1196.3,1317.1 1198.3,1318.5 1200.3,1319.8 1202.3,1321 1204.3,1322.3 1206.3,1323.6 1208.3,1324.9 1210.3,1326.1 1212.3,1327.4 1214.3,1328.6 1216.3,1329.9 1218.3,1331.1 1220.3,1332.3 1222.3,1333.6 1224.3,1334.8 1226.3,1336 1228.3,1337.2 1230.3,1338.4 1232.3,1339.6 1234.3,1340.8 1236.3,1341.9 1238.3,1343.1 1240.3,1344.3 1242.3,1345.4 1244.3,1346.6 1246.3,1347.7 1248.3,1348.8 1250.3,1350 1252.3,1351.1 1254.3,1352.2 1256.3,1353.3 1258.3,1354.4 1260.3,1355.5 1262.3,1356.6 1264.3,1357.7 1266.3,1358.7 1268.3,1359.8 1270.3,1360.9 1272.3,1361.9 1274.3,1363 1276.3,1364 1278.3,1365 1280.3,1366.1 1282.3,1367.1 1284.3,1368.1 1286.3,1369.1 1288.3,1370.1 1290.3,1371.1 1292.3,1372.1 1294.3,1373 1296.3,1374 1298.3,1375 1300.3,1375.9 1302.3,1376.9 1304.3,1377.8 1306.3,1378.7 1308.3,1379.7 1310.3,1380.6 1312.3,1381.5 1314.3,1382.4 1316.3,1383.3 1318.3,1384.2 1320.3,1385.1 1322.3,1386 1324.3,1386.9 1326.3,1387.7 1328.3,1388.6 1330.3,1389.4 1332.3,1390.3 1334.3,1391.1 1336.3,1392 1338.3,1392.8 1340.3,1393.6 1342.3,1394.4 1344.3,1395.2 1346.3,1396 1348.3,1396.8 1350.3,1397.6 1352.3,1398.4 1354.3,1399.2 1356.3,1399.9 1358.3,1400.7 1360.3,1401.5 1362.3,1402.2 1364.3,1403 1366.3,1403.7 1368.3,1404.4 1370.3,1405.2 1372.3,1405.9 1374.3,1406.6 1376.3,1407.3 1378.3,1408 1380.3,1408.7 1382.3,1409.4 1384.3,1410.1 1386.3,1410.8 1388.3,1411.4 1390.3,1412.1 1392.3,1412.7 1394.3,1413.4 1396.3,1414 1398.3,1414.7 1400.3,1415.3 1402.3,1416 1404.3,1416.6 1406.3,1417.2 1408.3,1417.8 1410.3,1418.4 1412.3,1419 1414.3,1419.6 1416.3,1420.2 1418.3,1420.8 1420.3,1421.4 1422.3,1421.9 1424.3,1422.5 1426.3,1423.1 1428.3,1423.6 1430.3,1424.2 1432.3,1424.7 1434.3,1425.3 1436.3,1425.8 1438.3,1426.3 1440.3,1426.8 1442.3,1427.4 1444.3,1427.9 1446.3,1428.4 1448.3,1428.9 1450.3,1429.4 1452.3,1429.9 1454.3,1430.3 1456.3,1430.8 1458.3,1431.3 1460.3,1431.8 1462.3,1432.2 1464.3,1432.7 1466.3,1433.1 1468.3,1433.6 1470.3,1434 1472.3,1434.5 1474.3,1434.9 1476.3,1435.3 1478.3,1435.7 1480.3,1436.2 1482.3,1436.6 1484.3,1437 1486.3,1437.4 1488.3,1437.8 1490.3,1438.2 1492.3,1438.6 1494.3,1438.9 1496.3,1439.3 1498.3,1439.7 1500.3,1440.1 1502.3,1440.4 1504.3,1440.8 1506.3,1441.1 1508.3,1441.5 1510.3,1441.8 1512.3,1442.2 1514.3,1442.5 1516.3,1442.8 1518.3,1443.1 1520.3,1443.5 1522.3,1443.8 1524.3,1444.1 1526.3,1444.4 1528.3,1444.7 1530.3,1445 1532.3,1445.3 1534.3,1445.6 1536.3,1445.9 1538.3,1446.1 1540.3,1446.4 1542.3,1446.7 1544.3,1446.9 1546.3,1447.2 1548.3,1447.5 1550.3,1447.6 1552.3,1447.6 1554.8,1447.6" stroke="#edb120"/><path d="M963.0 934.9H998.4" stroke="#0072bd" stroke-dasharray="13.5 3.9 6.4 3.9"/><path d="M963.0 975.6H998.4" stroke="#d95319" stroke-dasharray="13.5 14.2"/><path d="M963.0 1015.3H998.4" stroke="#edb120"/></g><text transform="translate(1000.8 948.6)" font-size="32.05" class="lg">Reynolds Stress Force</text><text transform="translate(1000.8 988.9)" font-size="32.05" class="lg">Momentum Flux Density Tensor Force</text><text transform="translate(1000.8 1029.2)" font-size="32.05" class="lg">Attenuation Force</text>
</svg>
</div></body></html>
